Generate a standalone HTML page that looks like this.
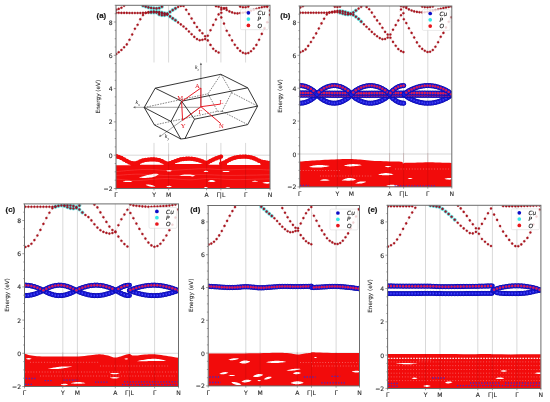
<!DOCTYPE html><html><head><meta charset="utf-8"><title>Band structures</title>
<style>html,body{margin:0;padding:0;background:#fff;width:550px;height:402px;overflow:hidden}svg{display:block}</style></head><body>
<svg width="550" height="402" viewBox="0 0 550 402">
<rect width="550" height="402" fill="#fff"/>
<defs><clipPath id="clipa"><rect x="116" y="5.3" width="154" height="183.2"/></clipPath></defs>
<g>
<path d="M116 155.2H270 M154 5.3V62.7 M154 142.7V188.5 M168.6 5.3V62.7 M168.6 142.7V188.5 M206.6 5.3V62.7 M206.6 142.7V188.5 M220.9 5.3V62.7 M220.9 142.7V188.5 M245.6 5.3V62.7 M245.6 142.7V188.5" stroke="#cfcfcf" stroke-width="0.8" fill="none"/>
<g clip-path="url(#clipa)">
<path d="M116 189.5 L116 156.2 L121 157.8 L126 160.6 L130.4 162.8 L134 163.5 L138 162.6 L142 160.8 L147 159.7 L152.7 159.4 L158 159.8 L162 161.2 L165.5 163 L168.4 163.8 L172 162.4 L179 159.9 L184 158.9 L189.3 158.6 L195 159.3 L200 160.6 L204 162.2 L206.6 163.2 L210 161.2 L214 159.2 L218 157.6 L221 156.6 L221.1 163.6 L225 162.2 L228 160.6 L232 158.6 L237 157.2 L244.7 156.6 L251 157.4 L256 159.2 L260 161.2 L265 162.4 L270 163 L270 189.5 Z" fill="#f20b0b"/>
<path d="M116 156.6 L117 156.9 L118 157.1 L119 157.4 L120 157.7 L121 158.1 L122 158.6 L123 159.2 L124 159.8 L125 160.4 L126 160.9 L126.9 161.4 L127.9 161.8 L128.8 162.2 L129.7 162.7 L130.6 163.1 L130.6 165.2 L116 165.2 Z" fill="#fff"/>
<path d="M140 161.9 L140.8 161.6 L141.6 161.2 L142.5 160.9 L143.3 160.6 L144 160.4 L144.6 160.2 L145.1 160.2 L145.7 160.1 L146.2 160.1 L147 160 L148 159.9 L149.1 159.8 L150.3 159.8 L151.5 159.7 L152.7 159.7 L153.8 159.7 L154.9 159.8 L156 159.8 L157 159.9 L158 160.1 L158.9 160.3 L159.8 160.6 L160.6 160.9 L161.3 161.2 L162 161.5 L162.5 161.7 L162.9 162 L163.3 162.2 L163.6 162.4 L164 162.6 L164 164.7 L140 164.7 Z" fill="#fff"/>
<path d="M175 161.6 L175.8 161.3 L176.6 161 L177.3 160.7 L178.1 160.5 L179 160.2 L179.9 160 L180.9 159.7 L181.9 159.5 L183 159.3 L184 159.2 L185 159.1 L186.1 159 L187.1 158.9 L188.2 158.9 L189.3 158.9 L190.4 159 L191.6 159.1 L192.8 159.2 L193.9 159.4 L195 159.6 L196.1 159.8 L197.1 160.1 L198.1 160.3 L199.1 160.6 L200 160.9 L200.8 161.2 L201.5 161.5 L202.2 161.8 L202.8 162.1 L203.5 162.4 L203.5 164 L175 164 Z" fill="#fff"/>
<path d="M207.5 162.9 L208 162.6 L208.4 162.4 L208.9 162.1 L209.4 161.8 L210 161.5 L210.7 161.1 L211.5 160.7 L212.3 160.3 L213.2 159.9 L214 159.5 L214.8 159.1 L215.7 158.8 L216.6 158.4 L217.3 158.1 L218 157.9 L218.5 157.6 L219 157.2 L219.3 156.9 L219.6 156.9 L219.8 157.3 L219.9 158.3 L219.9 159.7 L219.9 161.4 L219.8 163.2 L219.8 164.8 L207.5 164.8 Z" fill="#fff"/>
<path d="M227 161.6 L228 161 L229 160.5 L230 159.9 L231 159.4 L232 158.9 L233 158.5 L233.9 158.2 L234.8 157.9 L235.8 157.7 L237 157.5 L238.4 157.3 L240 157.1 L241.6 157 L243.2 156.9 L244.7 156.9 L246.1 157 L247.4 157.1 L248.6 157.2 L249.8 157.5 L251 157.7 L252.1 158 L253.1 158.3 L254.1 158.7 L255.1 159.1 L256 159.5 L256.9 159.9 L257.8 160.4 L258.7 160.9 L259.6 161.3 L260.5 161.8 L260.5 165 L227 165 Z" fill="#fff"/>
<path d="M116.3 156.2 L117.1 156.5 L117.9 156.7 L118.6 156.9 L119.4 157.2 L120.2 157.5 L121 157.8 L121.8 158.2 L122.7 158.7 L123.5 159.2 L124.4 159.7 L125.2 160.2 L126 160.6 L126.8 161 L127.5 161.4 L128.3 161.8 L129 162.2 L129.7 162.5 L130.4 162.8 L131 163 L131.6 163.2 L132.2 163.3 L132.8 163.4 L133.4 163.5 L134 163.5 L134.6 163.5 L135.3 163.4 L136 163.2 L136.7 163 L137.3 162.8 L138 162.6 L138.7 162.3 L139.3 162 L139.9 161.7 L140.6 161.4 L141.3 161.1 L142 160.8 L142.8 160.6 L143.6 160.4 L144.4 160.2 L145.2 160 L146.1 159.8 L147 159.7 L147.9 159.6 L148.9 159.5 L149.8 159.5 L150.8 159.4 L151.8 159.4 L152.7 159.4 L153.6 159.4 L154.5 159.4 L155.5 159.5 L156.3 159.6 L157.2 159.7 L158 159.8 L158.7 160 L159.4 160.2 L160.1 160.4 L160.8 160.7 L161.4 160.9 L162 161.2 L162.6 161.5 L163.2 161.8 L163.8 162.1 L164.4 162.5 L165 162.8 L165.5 163 L166 163.2 L166.5 163.4 L166.9 163.6 L167.4 163.7 L167.9 163.8 L168.4 163.8 L168.9 163.7 L169.4 163.5 L169.9 163.3 L170.5 163 L171.2 162.7 L172 162.4 L173 162 L174.2 161.6 L175.4 161.1 L176.7 160.7 L177.9 160.2 L179 159.9 L179.9 159.6 L180.8 159.4 L181.6 159.3 L182.4 159.1 L183.2 159 L184 158.9 L184.9 158.8 L185.7 158.7 L186.6 158.6 L187.5 158.6 L188.4 158.6 L189.3 158.6 L190.2 158.7 L191.2 158.7 L192.2 158.8 L193.1 159 L194.1 159.1 L195 159.3 L195.9 159.5 L196.8 159.7 L197.6 159.9 L198.4 160.1 L199.2 160.4 L200 160.6 L200.7 160.9 L201.5 161.1 L202.2 161.4 L202.8 161.7 L203.4 162 L204 162.2 L204.5 162.4 L205 162.6 L205.4 162.7 L205.8 162.9 L206.2 163 L206.6 163.2" fill="none" stroke="#f20b0b" stroke-width="3.6" stroke-linecap="round"/>
<g fill="#f20b0b"><circle cx="116.3" cy="156.2" r="2.2"/><circle cx="118.7" cy="156.9" r="2.2"/><circle cx="121.4" cy="158" r="2.2"/><circle cx="124.1" cy="159.5" r="2.2"/><circle cx="126.8" cy="161" r="2.2"/><circle cx="129.5" cy="162.4" r="2.2"/><circle cx="132.2" cy="163.3" r="2.2"/><circle cx="134.9" cy="163.4" r="2.2"/><circle cx="137.6" cy="162.7" r="2.2"/><circle cx="140.3" cy="161.5" r="2.2"/><circle cx="143" cy="160.5" r="2.2"/><circle cx="145.7" cy="159.9" r="2.2"/><circle cx="148.4" cy="159.6" r="2.2"/><circle cx="151.1" cy="159.4" r="2.2"/><circle cx="153.8" cy="159.4" r="2.2"/><circle cx="156.5" cy="159.6" r="2.2"/><circle cx="159.2" cy="160.1" r="2.2"/><circle cx="161.9" cy="161.2" r="2.2"/><circle cx="164.6" cy="162.6" r="2.2"/><circle cx="167.3" cy="163.7" r="2.2"/><circle cx="170" cy="163.3" r="2.2"/><circle cx="172.7" cy="162.1" r="2.2"/><circle cx="175.4" cy="161.1" r="2.2"/><circle cx="178.1" cy="160.2" r="2.2"/><circle cx="180.8" cy="159.4" r="2.2"/><circle cx="183.5" cy="159" r="2.2"/><circle cx="186.2" cy="158.7" r="2.2"/><circle cx="188.9" cy="158.6" r="2.2"/><circle cx="191.6" cy="158.8" r="2.2"/><circle cx="194.3" cy="159.2" r="2.2"/><circle cx="197" cy="159.7" r="2.2"/><circle cx="199.7" cy="160.5" r="2.2"/><circle cx="202.4" cy="161.5" r="2.2"/><circle cx="205.1" cy="162.6" r="2.2"/></g>
<path d="M206.8 163.2 L207.3 162.9 L207.8 162.5 L208.4 162.2 L208.9 161.9 L209.4 161.5 L210 161.2 L210.6 160.9 L211.3 160.5 L211.9 160.2 L212.6 159.8 L213.3 159.5 L214 159.2 L214.7 158.9 L215.4 158.6 L216.1 158.3 L216.7 158.1 L217.4 157.8 L218 157.6 L218.6 157.4 L219.1 157.2 L219.6 157.1 L220 156.9 L220.5 156.8 L221 156.6" fill="none" stroke="#f20b0b" stroke-width="3.6" stroke-linecap="round"/>
<g fill="#f20b0b"><circle cx="207.8" cy="162.6" r="2.2"/><circle cx="210.5" cy="160.9" r="2.2"/><circle cx="213.2" cy="159.6" r="2.2"/><circle cx="215.9" cy="158.4" r="2.2"/><circle cx="218.6" cy="157.4" r="2.2"/><circle cx="221" cy="156.6" r="2.2"/></g>
<path d="M221.2 163.6 L221.8 163.4 L222.5 163.1 L223.1 162.9 L223.8 162.7 L224.4 162.4 L225 162.2 L225.5 161.9 L226 161.7 L226.5 161.4 L227 161.2 L227.5 160.9 L228 160.6 L228.6 160.3 L229.2 159.9 L229.9 159.6 L230.6 159.2 L231.3 158.9 L232 158.6 L232.7 158.3 L233.5 158.1 L234.3 157.8 L235.1 157.6 L236 157.4 L237 157.2 L238.1 157 L239.4 156.9 L240.8 156.8 L242.1 156.7 L243.5 156.6 L244.7 156.6 L245.8 156.6 L247 156.7 L248 156.8 L249 157 L250 157.2 L251 157.4 L251.9 157.6 L252.8 157.9 L253.6 158.2 L254.5 158.5 L255.2 158.9 L256 159.2 L256.7 159.5 L257.4 159.9 L258 160.2 L258.6 160.6 L259.3 160.9 L260 161.2 L260.8 161.5 L261.6 161.7 L262.4 161.9 L263.3 162.1 L264.2 162.2 L265 162.4 L265.8 162.5 L266.6 162.6 L267.4 162.7 L268.2 162.8 L269 162.9 L269.8 163" fill="none" stroke="#f20b0b" stroke-width="3.6" stroke-linecap="round"/>
<g fill="#f20b0b"><circle cx="221.3" cy="163.6" r="2.2"/><circle cx="224" cy="162.6" r="2.2"/><circle cx="226.7" cy="161.3" r="2.2"/><circle cx="229.4" cy="159.8" r="2.2"/><circle cx="232.1" cy="158.6" r="2.2"/><circle cx="234.8" cy="157.7" r="2.2"/><circle cx="237.5" cy="157.1" r="2.2"/><circle cx="240.2" cy="156.8" r="2.2"/><circle cx="242.9" cy="156.6" r="2.2"/><circle cx="245.6" cy="156.6" r="2.2"/><circle cx="248.3" cy="156.9" r="2.2"/><circle cx="251" cy="157.4" r="2.2"/><circle cx="253.7" cy="158.2" r="2.2"/><circle cx="256.4" cy="159.4" r="2.2"/><circle cx="259.1" cy="160.8" r="2.2"/><circle cx="261.8" cy="161.7" r="2.2"/><circle cx="264.5" cy="162.3" r="2.2"/><circle cx="267.2" cy="162.7" r="2.2"/><circle cx="269.8" cy="163" r="2.2"/></g>
<path d="M139 177.6 L139.9 177.7 L140.8 177.8 L141.7 177.8 L142.6 177.9 L143.5 177.9 L144.4 177.9 L145.2 177.9 L146.1 177.9 L147 177.8 L147.9 177.8 L148.8 177.7 L149.7 177.6 L150.6 177.5 L151.4 177.4 L152.3 177.2 L153.2 177 L154.1 176.8 L154.9 176.5 L155.8 176.2 L156.6 175.8 L157.3 175.3 L158.1 174.8 L158.9 174.2 L158.9 174.2 L157.9 173.9 L157 173.8 L156.1 173.7 L155.2 173.7 L154.3 173.7 L153.4 173.8 L152.6 174 L151.7 174.2 L150.9 174.4 L150 174.5 L149.2 174.7 L148.3 174.9 L147.5 175.1 L146.6 175.3 L145.8 175.5 L145 175.8 L144.1 176 L143.3 176.2 L142.4 176.5 L141.5 176.7 L140.7 177 L139.8 177.3 L139 177.6Z" fill="#fff"/>
<path d="M122.7 181.3 L123.1 181.5 L123.5 181.6 L124 181.7 L124.4 181.7 L124.8 181.8 L125.2 181.9 L125.7 182 L126.1 182 L126.5 182 L126.9 182.1 L127.4 182.1 L127.8 182.1 L128.2 182.1 L128.7 182.1 L129.1 182.1 L129.5 182 L129.9 182 L130.4 181.9 L130.8 181.9 L131.2 181.8 L131.6 181.7 L132.1 181.6 L132.5 181.5 L132.5 181.5 L132.1 181.3 L131.7 181.2 L131.2 181.1 L130.8 181.1 L130.4 181 L130 180.9 L129.5 180.8 L129.1 180.8 L128.7 180.8 L128.3 180.7 L127.8 180.7 L127.4 180.7 L127 180.7 L126.5 180.7 L126.1 180.7 L125.7 180.8 L125.3 180.8 L124.8 180.9 L124.4 180.9 L124 181 L123.6 181.1 L123.1 181.2 L122.7 181.3Z" fill="#fff"/>
<path d="M145.6 184.8 L146 185.1 L146.4 185.3 L146.8 185.5 L147.2 185.6 L147.6 185.8 L148 186 L148.4 186.1 L148.9 186.2 L149.3 186.3 L149.7 186.4 L150.1 186.5 L150.6 186.6 L151 186.7 L151.4 186.7 L151.9 186.7 L152.3 186.8 L152.7 186.8 L153.2 186.8 L153.6 186.7 L154 186.7 L154.5 186.7 L154.9 186.6 L155.4 186.5 L155.4 186.5 L155 186.2 L154.6 186 L154.2 185.9 L153.8 185.7 L153.4 185.5 L153 185.4 L152.5 185.3 L152.1 185.1 L151.7 185 L151.3 184.9 L150.9 184.8 L150.4 184.8 L150 184.7 L149.6 184.7 L149.1 184.6 L148.7 184.6 L148.3 184.6 L147.8 184.6 L147.4 184.6 L147 184.6 L146.5 184.6 L146.1 184.7 L145.6 184.8Z" fill="#fff"/>
<path d="M166.3 170.8 L166.5 171 L166.8 171.1 L167 171.2 L167.3 171.3 L167.5 171.4 L167.7 171.4 L168 171.5 L168.2 171.5 L168.5 171.6 L168.7 171.6 L168.9 171.6 L169.2 171.6 L169.4 171.6 L169.6 171.6 L169.9 171.5 L170.1 171.5 L170.4 171.4 L170.6 171.4 L170.8 171.3 L171.1 171.2 L171.3 171.1 L171.6 171 L171.8 170.8 L171.8 170.8 L171.6 170.6 L171.3 170.5 L171.1 170.4 L170.8 170.3 L170.6 170.2 L170.4 170.2 L170.1 170.1 L169.9 170.1 L169.6 170 L169.4 170 L169.2 170 L168.9 170 L168.7 170 L168.5 170 L168.2 170.1 L168 170.1 L167.7 170.2 L167.5 170.2 L167.3 170.3 L167 170.4 L166.8 170.5 L166.5 170.6 L166.3 170.8Z" fill="#fff"/>
<path d="M166.3 186.6 L166.5 186.7 L166.8 186.8 L167 186.9 L167.3 187 L167.5 187 L167.8 187.1 L168 187.1 L168.2 187.2 L168.5 187.2 L168.7 187.2 L169 187.2 L169.2 187.2 L169.4 187.2 L169.7 187.1 L169.9 187.1 L170.1 187.1 L170.4 187 L170.6 186.9 L170.9 186.8 L171.1 186.8 L171.3 186.7 L171.6 186.6 L171.8 186.4 L171.8 186.4 L171.6 186.3 L171.3 186.2 L171.1 186.1 L170.8 186 L170.6 186 L170.3 185.9 L170.1 185.9 L169.9 185.8 L169.6 185.8 L169.4 185.8 L169.1 185.8 L168.9 185.8 L168.7 185.8 L168.4 185.9 L168.2 185.9 L168 185.9 L167.7 186 L167.5 186.1 L167.2 186.2 L167 186.2 L166.8 186.3 L166.5 186.4 L166.3 186.6Z" fill="#fff"/>
<path d="M179 175.6 L179.7 175.7 L180.5 175.8 L181.2 175.9 L181.9 175.9 L182.6 175.9 L183.4 175.9 L184.1 176 L184.8 176 L185.5 176 L186.2 176 L186.9 176 L187.6 176 L188.4 176 L189.1 176 L189.8 176 L190.5 176 L191.2 176 L192 175.9 L192.7 175.9 L193.4 175.9 L194.1 175.8 L194.9 175.7 L195.6 175.6 L195.6 175.6 L194.9 175.4 L194.2 175.2 L193.5 175.1 L192.7 175 L192 174.8 L191.3 174.7 L190.6 174.6 L189.9 174.5 L189.1 174.5 L188.4 174.4 L187.7 174.4 L186.9 174.4 L186.2 174.4 L185.5 174.5 L184.7 174.5 L184 174.6 L183.3 174.7 L182.6 174.8 L181.9 174.9 L181.1 175.1 L180.4 175.2 L179.7 175.4 L179 175.6Z" fill="#fff"/>
<path d="M203.5 171.4 L203.7 171.5 L203.9 171.6 L204.2 171.7 L204.4 171.8 L204.6 171.9 L204.8 171.9 L205 172 L205.2 172 L205.5 172.1 L205.7 172.1 L205.9 172.1 L206.1 172.1 L206.3 172.1 L206.5 172.1 L206.8 172 L207 172 L207.2 171.9 L207.4 171.9 L207.6 171.8 L207.8 171.7 L208.1 171.6 L208.3 171.5 L208.5 171.4 L208.5 171.4 L208.3 171.3 L208.1 171.2 L207.8 171.1 L207.6 171 L207.4 170.9 L207.2 170.9 L207 170.8 L206.8 170.8 L206.5 170.7 L206.3 170.7 L206.1 170.7 L205.9 170.7 L205.7 170.7 L205.5 170.7 L205.2 170.8 L205 170.8 L204.8 170.9 L204.6 170.9 L204.4 171 L204.2 171.1 L203.9 171.2 L203.7 171.3 L203.5 171.4Z" fill="#fff"/>
<path d="M222 171.5 L222.3 171.6 L222.7 171.7 L223 171.8 L223.4 171.9 L223.7 171.9 L224.1 172 L224.4 172 L224.8 172 L225.1 172.1 L225.5 172.1 L225.8 172.1 L226.2 172.1 L226.5 172.1 L226.9 172.1 L227.2 172 L227.6 172 L227.9 172 L228.3 171.9 L228.6 171.9 L229 171.8 L229.3 171.7 L229.7 171.6 L230 171.5 L230 171.5 L229.7 171.4 L229.3 171.3 L229 171.2 L228.6 171.1 L228.3 171.1 L227.9 171 L227.6 171 L227.2 171 L226.9 170.9 L226.5 170.9 L226.2 170.9 L225.8 170.9 L225.5 170.9 L225.1 170.9 L224.8 171 L224.4 171 L224.1 171 L223.7 171.1 L223.4 171.1 L223 171.2 L222.7 171.3 L222.3 171.4 L222 171.5Z" fill="#fff"/>
<path d="M207.8 181.3 L208.2 181.5 L208.5 181.6 L208.9 181.7 L209.2 181.7 L209.5 181.8 L209.9 181.8 L210.2 181.9 L210.5 181.9 L210.8 182 L211.1 182 L211.4 182 L211.8 182 L212.1 182 L212.4 182 L212.8 182 L213.1 182 L213.4 181.9 L213.8 181.9 L214.1 181.8 L214.5 181.7 L214.8 181.6 L215.1 181.5 L215.5 181.3 L215.5 181.3 L215.2 181.1 L214.9 180.9 L214.5 180.7 L214.2 180.6 L213.9 180.5 L213.6 180.4 L213.2 180.3 L212.9 180.2 L212.6 180.1 L212.2 180.1 L211.9 180 L211.5 180 L211.2 180 L210.8 180.1 L210.4 180.1 L210.1 180.2 L209.7 180.3 L209.4 180.4 L209.1 180.5 L208.7 180.7 L208.4 180.9 L208.1 181.1 L207.8 181.3Z" fill="#fff"/>
<path d="M204 187.5 L204.2 187.6 L204.3 187.7 L204.5 187.8 L204.7 187.8 L204.8 187.9 L205 187.9 L205.2 188 L205.3 188 L205.5 188 L205.7 188 L205.8 188.1 L206 188 L206.2 188 L206.3 188 L206.5 188 L206.7 187.9 L206.8 187.9 L207 187.8 L207.1 187.8 L207.3 187.7 L207.5 187.6 L207.6 187.5 L207.8 187.4 L207.8 187.4 L207.6 187.3 L207.5 187.2 L207.3 187.1 L207.1 187.1 L207 187 L206.8 187 L206.6 186.9 L206.5 186.9 L206.3 186.9 L206.1 186.9 L206 186.8 L205.8 186.9 L205.6 186.9 L205.5 186.9 L205.3 186.9 L205.1 187 L205 187 L204.8 187.1 L204.7 187.1 L204.5 187.2 L204.3 187.3 L204.2 187.4 L204 187.5Z" fill="#fff"/>
<path d="M225.5 187.9 L225.7 188 L225.9 188.1 L226.1 188.2 L226.3 188.3 L226.5 188.3 L226.7 188.4 L226.9 188.4 L227.1 188.4 L227.3 188.5 L227.5 188.5 L227.7 188.5 L228 188.5 L228.2 188.5 L228.4 188.5 L228.6 188.4 L228.8 188.4 L229 188.4 L229.2 188.3 L229.4 188.3 L229.6 188.2 L229.8 188.1 L230 188 L230.2 187.9 L230.2 187.9 L230 187.8 L229.8 187.7 L229.6 187.6 L229.4 187.5 L229.2 187.5 L229 187.4 L228.8 187.4 L228.6 187.4 L228.4 187.3 L228.2 187.3 L228 187.3 L227.7 187.3 L227.5 187.3 L227.3 187.3 L227.1 187.4 L226.9 187.4 L226.7 187.4 L226.5 187.5 L226.3 187.5 L226.1 187.6 L225.9 187.7 L225.7 187.8 L225.5 187.9Z" fill="#fff"/>
<path d="M262.6 182.8 L262.9 183 L263.3 183.1 L263.6 183.2 L264 183.3 L264.3 183.3 L264.7 183.4 L265 183.5 L265.3 183.5 L265.7 183.6 L266 183.6 L266.4 183.7 L266.7 183.7 L267.1 183.7 L267.4 183.7 L267.8 183.7 L268.1 183.7 L268.4 183.6 L268.8 183.5 L269.1 183.4 L269.5 183.3 L269.8 183.2 L270.2 183 L270.5 182.8 L270.5 182.8 L270.2 182.6 L269.8 182.4 L269.5 182.3 L269.1 182.2 L268.8 182.1 L268.4 182 L268.1 181.9 L267.8 181.9 L267.4 181.9 L267.1 181.9 L266.7 181.9 L266.4 181.9 L266 182 L265.7 182 L265.3 182.1 L265 182.1 L264.7 182.2 L264.3 182.3 L264 182.3 L263.6 182.4 L263.3 182.5 L262.9 182.6 L262.6 182.8Z" fill="#fff"/>
<path d="M251.8 181.3 L252.1 181.4 L252.3 181.5 L252.6 181.5 L252.9 181.6 L253.1 181.6 L253.4 181.7 L253.7 181.7 L254 181.8 L254.2 181.8 L254.5 181.8 L254.8 181.8 L255 181.8 L255.3 181.8 L255.6 181.8 L255.8 181.8 L256.1 181.7 L256.4 181.7 L256.7 181.6 L256.9 181.6 L257.2 181.5 L257.5 181.5 L257.7 181.4 L258 181.3 L258 181.3 L257.7 181.2 L257.5 181.1 L257.2 181.1 L256.9 181 L256.7 181 L256.4 180.9 L256.1 180.9 L255.8 180.8 L255.6 180.8 L255.3 180.8 L255 180.8 L254.8 180.8 L254.5 180.8 L254.2 180.8 L254 180.8 L253.7 180.9 L253.4 180.9 L253.1 181 L252.9 181 L252.6 181.1 L252.3 181.1 L252.1 181.2 L251.8 181.3Z" fill="#fff"/>
<path d="M190 175.8 L190.2 175.9 L190.4 176 L190.6 176.1 L190.8 176.2 L191 176.2 L191.2 176.3 L191.4 176.3 L191.6 176.3 L191.8 176.4 L192 176.4 L192.2 176.4 L192.4 176.4 L192.6 176.4 L192.8 176.4 L193 176.3 L193.2 176.3 L193.4 176.3 L193.6 176.2 L193.8 176.2 L194 176.1 L194.2 176 L194.4 175.9 L194.6 175.8 L194.6 175.8 L194.4 175.7 L194.2 175.6 L194 175.5 L193.8 175.4 L193.6 175.4 L193.4 175.3 L193.2 175.3 L193 175.3 L192.8 175.2 L192.6 175.2 L192.4 175.2 L192.2 175.2 L192 175.2 L191.8 175.2 L191.6 175.3 L191.4 175.3 L191.2 175.3 L191 175.4 L190.8 175.4 L190.6 175.5 L190.4 175.6 L190.2 175.7 L190 175.8Z" fill="#fff"/>
<path d="M116 171.6 L118.6 171.4 L121.3 171.1 L123.9 170.9 L126.5 170.6 L129.2 170.4 L132 170.2 L134.9 170 L137.9 169.8 L140.9 169.6 L143.9 169.5 L147 169.4 L150 169.4 L153 169.5 L156 169.7 L159.1 170 L162.1 170.3 L165.1 170.5 L168 170.6 L170.9 170.6 L173.6 170.4 L176.4 170.2 L179.1 170 L182 169.8 L185 169.6 L188.2 169.4 L191.4 169.3 L194.8 169.1 L198.2 168.9 L201.6 168.8 L205 168.8 L208.3 168.9 L211.5 169.1 L214.7 169.3 L218 169.5 L221.4 169.7 L225 169.8 L228.9 169.8 L233.1 169.7 L237.5 169.5 L241.9 169.4 L246.1 169.2 L250 169.2 L253.6 169.3 L257 169.4 L260.3 169.5 L263.5 169.7 L266.7 169.9 L270 170" stroke="#ff8080" stroke-opacity="0.45" stroke-width="0.6" fill="none"/>
<path d="M116 179 L119.2 179.3 L122.4 179.6 L125.6 180 L128.8 180.3 L131.9 180.5 L135 180.6 L138 180.6 L140.9 180.4 L143.7 180.1 L146.5 179.9 L149.2 179.6 L152 179.4 L154.7 179.2 L157.2 179 L159.7 178.8 L162.3 178.7 L165 178.6 L168 178.6 L171.3 178.7 L175 178.9 L178.8 179.2 L182.6 179.5 L186.4 179.7 L190 179.8 L193.4 179.7 L196.6 179.4 L199.8 179.1 L203 178.8 L206.4 178.5 L210 178.4 L213.8 178.5 L217.6 178.7 L221.6 179 L225.7 179.3 L230.2 179.5 L235 179.6 L240.3 179.6 L245.9 179.5 L251.9 179.3 L258 179.1 L264.1 179 L270 178.8" stroke="#ff8080" stroke-opacity="0.45" stroke-width="0.6" fill="none"/>
<path d="M116 175.4 L119.9 175.2 L123.8 174.9 L127.6 174.6 L131.6 174.4 L135.7 174.2 L140 174.2 L144.7 174.3 L149.6 174.6 L154.6 174.9 L159.8 175.2 L164.9 175.5 L170 175.6 L175 175.6 L180 175.4 L185 175.1 L190 174.9 L195 174.7 L200 174.6 L204.9 174.6 L209.6 174.8 L214.4 175 L219.3 175.2 L224.4 175.3 L230 175.4 L236.1 175.4 L242.6 175.3 L249.4 175.2 L256.3 175.1 L263.2 174.9 L270 174.8" stroke="#ff8080" stroke-opacity="0.45" stroke-width="0.6" fill="none"/>
<path d="M154 154.2V188.5 M168.6 154.2V188.5 M206.6 154.2V188.5 M220.9 154.2V188.5 M245.6 154.2V188.5" stroke="#700000" stroke-opacity="0.22" stroke-width="0.7" fill="none"/>
<g fill="none" stroke="#ecc4c4" stroke-width="0.45">
<path d="M116.3 54 L116.5 53.9 L116.6 53.8 L116.7 53.7 L116.9 53.6 L117.1 53.4 L117.4 53.2 L117.8 52.9 L118.3 52.5 L118.9 52.1 L119.4 51.6 L120 51.2 L120.6 50.7 L121.1 50.2 L121.7 49.7 L122.2 49.2 L122.8 48.6 L123.3 48.1 L123.9 47.5 L124.5 46.9 L125 46.4 L125.6 45.8 L126.2 45.2 L126.7 44.5 L127.2 43.9 L127.7 43.2 L128.1 42.5 L128.4 41.8 L128.8 41.1 L129.2 40.4 L129.6 39.6 L130 38.8 L130.4 38 L130.8 37.2 L131.3 36.4 L131.7 35.5 L132.1 34.7 L132.5 33.8 L132.9 33 L133.2 32.1 L133.6 31.2 L134 30.4 L134.5 29.5 L135 28.7 L135.6 27.8 L136.1 27 L136.7 26.2 L137.3 25.3 L137.8 24.5 L138.3 23.6 L138.7 22.7 L139.1 21.8 L139.5 20.9 L139.9 20.1 L140.3 19.3 L140.7 18.6 L141.1 17.9 L141.5 17.2 L141.9 16.6 L142.3 16 L142.7 15.5 L143.1 15 L143.5 14.5 L143.9 14.1 L144.3 13.7 L144.8 13.4 L145.2 13.1 L145.6 12.9 L146.1 12.7 L146.6 12.5 L147 12.4 L147.5 12.3 L148 12.2 L148.5 12.1 L149 12 L149.5 12 L150 11.9 L150.5 11.8 L151 11.8 L151.4 11.7 L151.8 11.7 L152.2 11.6 L152.6 11.6 L153.1 11.6 L153.8 11.6 L154.6 11.6 L155.6 11.7 L156.7 11.8 L157.8 11.9 L158.9 12 L160 12.2 L161.1 12.4 L162.3 12.7 L163.4 13 L164.5 13.3 L165.6 13.6 L166.4 13.9 L167 14.2 L167.5 14.5 L167.9 14.8 L168.2 15.1 L168.6 15.4 L169 15.7 L169.5 16.1 L170 16.4 L170.6 16.8 L171.1 17.2 L171.7 17.6 L172.2 18 L172.7 18.4 L173.3 18.8 L173.8 19.2 L174.4 19.6 L175 20 L175.5 20.4 L176 20.8 L176.6 21.2 L177.1 21.6 L177.6 22.1 L178.2 22.5 L178.7 22.9 L179.2 23.3 L179.8 23.7 L180.3 24.1 L180.9 24.5 L181.4 24.9 L182 25.3 L182.5 25.7 L183 26.1 L183.6 26.5 L184.1 26.9 L184.7 27.4 L185.3 28 L186 28.7 L186.8 29.4 L187.7 30.3 L188.5 31.1 L189.4 32 L190.2 32.8 L191 33.6 L191.9 34.5 L192.7 35.3 L193.5 36.2 L194.3 36.9 L195.1 37.6 L195.8 38.2 L196.5 38.7 L197.2 39.2 L197.8 39.6 L198.5 39.9 L199.2 40.1 L200 40.2 L200.8 40.1 L201.7 40 L202.5 39.8 L203.3 39.5 L204 39.3 L204.5 39.2 L205 39.1 L205.3 39.1 L205.7 38.9 L206.1 38.4 L206.7 37.6 L207.5 36.3 L208.3 34.7 L209.3 32.8 L210.3 30.8 L211.3 28.8 L212.2 26.9 L213.1 25 L214.1 23.1 L215.1 21.1 L216.1 19.2 L216.9 17.5 L217.7 16 L218.3 14.8 L218.9 13.9 L219.3 13.2 L219.7 12.6 L220.1 11.9 L220.6 11.2"/>
<path d="M116.3 12.8 L117.7 12.8 L119.2 12.8 L120.6 12.9 L122 12.9 L123.5 12.9 L125 12.9 L126.6 12.9 L128.2 12.9 L129.9 13 L131.6 13 L133.3 13 L135 13 L136.7 13 L138.4 13 L140.1 13 L141.8 13 L143.4 12.9 L145 12.9 L146.6 12.8 L148.1 12.7 L149.6 12.6 L151.1 12.5 L152.5 12.4 L153.8 12.4 L155 12.4 L156.1 12.5 L157.1 12.6 L158 12.7 L159 12.9 L160 13 L161.1 13.2 L162.1 13.4 L163.2 13.7 L164.3 13.9 L165.4 14 L166.4 13.9 L167.4 13.6 L168.3 13.1 L169.3 12.4 L170.2 11.8 L171.1 11.1 L172 10.5 L172.9 10 L173.7 9.4 L174.6 8.9 L175.4 8.4 L176.2 7.9 L177 7.5 L177.8 7.1 L178.5 6.8 L179.2 6.5 L180 6.3 L180.7 6 L181.4 5.7"/>
<path d="M183.5 5.9 L184.2 6.9 L184.8 7.8 L185.5 8.7 L186.1 9.7 L186.8 10.7 L187.6 11.9 L188.4 13.2 L189.3 14.7 L190.2 16.2 L191.1 17.8 L192.1 19.3 L193 20.8 L193.9 22.2 L194.8 23.6 L195.7 25 L196.6 26.4 L197.5 27.7 L198.5 29 L199.5 30.3 L200.7 31.5 L201.8 32.7 L202.9 33.9 L203.9 34.9 L204.7 35.8 L205.2 36.4 L205.5 36.8 L205.7 37.1 L205.9 37.4 L206.2 37.8 L206.7 38.6 L207.4 39.8 L208.4 41.3 L209.4 43 L210.4 44.7 L211.4 46.3 L212.2 47.5 L212.9 48.4 L213.4 49.1 L213.9 49.6 L214.4 50 L215 50.4 L215.6 50.9 L216.3 51.4 L217.1 51.8 L218 52.2 L218.9 52.6 L219.7 53 L220.6 53.4"/>
<path d="M116.3 9.8 L116.8 9.6 L117.2 9.5 L117.7 9.3 L118.1 9.1 L118.6 9 L119 8.8 L119.4 8.6 L119.8 8.5 L120.2 8.3 L120.6 8.1 L121 7.9 L121.4 7.7 L121.8 7.4 L122.3 7.1 L122.7 6.8 L123.2 6.5 L123.6 6.1 L124.1 5.8"/>
<path d="M157.5 13.6 L157.9 13.8 L158.3 14 L158.7 14.2 L159.1 14.5 L159.6 14.6 L160 14.8 L160.5 14.9 L161 15 L161.5 15.1 L162 15.2 L162.5 15.3 L163 15.3 L163.5 15.3 L164 15.3 L164.5 15.2 L165.1 15.2 L165.5 15.1 L166 15 L166.4 14.9 L166.8 14.8 L167.2 14.7 L167.6 14.5 L167.9 14.4 L168.3 14.3"/>
<path d="M142.7 5.6 L143.6 5.9 L144.4 6.2 L145.3 6.5 L146.2 6.8 L147.1 7.1 L148 7.3 L149 7.5 L150.1 7.7 L151.1 7.9 L152.2 8 L153.2 8.1 L154.2 8.2 L155.1 8.3 L155.9 8.4 L156.7 8.4 L157.4 8.4 L158.2 8.4 L159 8.2 L159.8 7.9 L160.7 7.5 L161.5 7.1 L162.3 6.6 L163.2 6.1 L164 5.6"/>
<path d="M220.9 7.6 L221.3 7.7 L221.8 7.8 L222.2 8 L222.7 8.1 L223.2 8.2 L223.6 8.4 L224 8.6 L224.5 8.8 L224.9 9.1 L225.4 9.3 L225.8 9.6 L226.3 9.8 L226.7 10 L227.2 10.3 L227.6 10.5 L228.1 10.8 L228.5 11 L229 11.2 L229.5 11.4 L229.9 11.6 L230.4 11.8 L230.9 12 L231.3 12.1 L231.8 12.3 L232.3 12.5 L232.7 12.6 L233.2 12.8 L233.6 12.9 L234.1 13 L234.5 13.1 L234.9 13.2 L235.4 13.3 L235.8 13.3 L236.3 13.4 L236.7 13.4 L237.2 13.4 L237.6 13.4 L238.1 13.4 L238.5 13.3 L239 13.2 L239.5 13.2 L240 13.1 L240.6 13 L241.2 12.9 L241.9 12.9 L242.5 12.8 L243.3 12.6 L244 12.5 L244.8 12.3 L245.5 12.2 L246.3 12 L247.2 11.8 L248.1 11.6 L249 11.3 L250 11 L251.1 10.7 L252.2 10.3 L253.3 9.9 L254.4 9.6 L255.5 9.2 L256.6 8.9 L257.7 8.5 L258.8 8.1 L259.9 7.8 L260.9 7.5 L262 7.2 L263 7 L264 6.7 L265 6.6 L266 6.4 L267 6.2 L268 6"/>
<path d="M220.9 9.8 L221.3 9.5 L221.8 9.3 L222.2 9 L222.7 8.7 L223.2 8.5 L223.6 8.3 L224 8.2 L224.5 8.1 L224.9 8.1 L225.4 8.1 L225.8 8 L226.3 8"/>
<path d="M220.9 12.8 L223.6 13.1"/>
<path d="M238.5 5.9 L238.9 6.1 L239.3 6.3 L239.7 6.4 L240.1 6.6 L240.6 6.8 L241 6.9 L241.5 7 L242 7.1 L242.5 7.2 L243 7.2 L243.5 7.3 L244 7.3 L244.5 7.3 L245 7.3 L245.5 7.2 L246 7.2 L246.5 7.1 L247 7 L247.5 6.9 L248 6.7 L248.5 6.5 L249 6.4 L249.5 6.2 L250 6"/>
<path d="M220.9 16.7 L221.3 17.4 L221.6 18 L222 18.6 L222.3 19.3 L222.7 20.1 L223.1 21 L223.5 22.2 L224 23.5 L224.4 25 L224.9 26.5 L225.4 27.9 L225.9 29.2 L226.4 30.3 L227 31.3 L227.5 32.2 L228.1 33.1 L228.7 34.1 L229.3 35.1 L229.9 36.2 L230.5 37.4 L231.1 38.6 L231.7 39.8 L232.4 40.9 L233 42 L233.6 43 L234.3 44 L235 44.9 L235.7 45.8 L236.3 46.7 L237 47.5 L237.7 48.3 L238.3 49 L239 49.7 L239.6 50.4 L240.3 51 L241 51.5 L241.7 52 L242.5 52.4 L243.2 52.8 L244 53.2 L244.7 53.4 L245.5 53.5 L246.2 53.5 L247 53.4 L247.7 53.2 L248.5 52.9 L249.2 52.5 L250 52 L250.8 51.4 L251.7 50.6 L252.6 49.8 L253.4 48.9 L254.2 47.9 L255 47 L255.7 46.1 L256.3 45.1 L256.8 44.2 L257.4 43.1 L257.9 42.1 L258.5 41 L259.1 39.9 L259.6 38.7 L260.2 37.5 L260.7 36.3 L261.3 34.9 L262 33.5 L262.8 31.9 L263.6 30.1 L264.5 28.2 L265.4 26.4 L266.2 24.6 L266.9 22.9 L267.5 21.4 L268 20 L268.5 18.7 L268.9 17.4 L269.3 16.1 L269.8 14.8"/>
<path d="M266.5 5.8 L269.8 10.5"/>
<path d="M216 6.2 L216.4 6.3 L216.8 6.5 L217.3 6.6 L217.7 6.7 L218.1 6.8 L218.5 6.8 L218.9 6.7 L219.2 6.6 L219.6 6.4 L219.9 6.2 L220.3 6 L220.6 5.8"/>
</g>
<g fill="#74ecea">
<circle cx="151.1" cy="11.8" r="2.0"/>
<circle cx="153.8" cy="11.6" r="2.0"/>
<circle cx="156.5" cy="11.8" r="2.0"/>
<circle cx="159.2" cy="12.1" r="2.0"/>
<circle cx="161.9" cy="12.6" r="2.0"/>
<circle cx="164.6" cy="13.3" r="2.0"/>
<circle cx="167.3" cy="14.3" r="2.0"/>
<circle cx="170" cy="16.4" r="2.0"/>
<circle cx="172.7" cy="18.4" r="2.0"/>
<circle cx="175.4" cy="20.3" r="2.0"/>
<circle cx="151.1" cy="12.5" r="2.0"/>
<circle cx="153.8" cy="12.4" r="2.0"/>
<circle cx="156.5" cy="12.6" r="2.0"/>
<circle cx="159.2" cy="12.9" r="2.0"/>
<circle cx="161.9" cy="13.4" r="2.0"/>
<circle cx="164.6" cy="13.9" r="2.0"/>
<circle cx="167.3" cy="13.6" r="2.0"/>
<circle cx="170" cy="11.9" r="2.0"/>
<circle cx="172.7" cy="10.1" r="2.0"/>
<circle cx="175.4" cy="8.4" r="2.0"/>
<circle cx="159.2" cy="14.5" r="2.0"/>
<circle cx="161.9" cy="15.2" r="2.0"/>
<circle cx="164.6" cy="15.2" r="2.0"/>
<circle cx="167.3" cy="14.6" r="2.0"/>
<circle cx="143" cy="5.7" r="2.0"/>
<circle cx="145.7" cy="6.6" r="2.0"/>
<circle cx="148.4" cy="7.4" r="2.0"/>
<circle cx="151.1" cy="7.9" r="2.0"/>
<circle cx="153.8" cy="8.2" r="2.0"/>
<circle cx="156.5" cy="8.4" r="2.0"/>
<circle cx="159.2" cy="8.1" r="2.0"/>
<circle cx="161.9" cy="6.8" r="2.0"/>
</g>
<g fill="#b3121d" stroke="#8c0c14" stroke-width="0.35">
<circle cx="116.3" cy="54" r="1.05"/>
<circle cx="118.7" cy="52.2" r="1.05"/>
<circle cx="121.4" cy="50" r="1.05"/>
<circle cx="124.1" cy="47.3" r="1.05"/>
<circle cx="126.8" cy="44.4" r="1.05"/>
<circle cx="129.5" cy="39.8" r="1.05"/>
<circle cx="132.2" cy="34.5" r="1.05"/>
<circle cx="134.9" cy="28.8" r="1.05"/>
<circle cx="137.6" cy="24.8" r="1.05"/>
<circle cx="140.3" cy="19.3" r="1.05"/>
<circle cx="143" cy="15.1" r="1.05"/>
<circle cx="145.7" cy="12.8" r="1.05"/>
<circle cx="148.4" cy="12.1" r="1.05"/>
<circle cx="178.1" cy="22.4" r="1.05"/>
<circle cx="180.8" cy="24.4" r="1.05"/>
<circle cx="183.5" cy="26.5" r="1.05"/>
<circle cx="186.2" cy="28.8" r="1.05"/>
<circle cx="188.9" cy="31.5" r="1.05"/>
<circle cx="191.6" cy="34.2" r="1.05"/>
<circle cx="194.3" cy="36.9" r="1.05"/>
<circle cx="197" cy="39.1" r="1.05"/>
<circle cx="199.7" cy="40.2" r="1.05"/>
<circle cx="202.4" cy="39.8" r="1.05"/>
<circle cx="205.1" cy="39.1" r="1.05"/>
<circle cx="207.8" cy="35.7" r="1.05"/>
<circle cx="210.5" cy="30.3" r="1.05"/>
<circle cx="213.2" cy="24.9" r="1.05"/>
<circle cx="215.9" cy="19.5" r="1.05"/>
<circle cx="218.6" cy="14.4" r="1.05"/>
<circle cx="116.3" cy="12.8" r="1.05"/>
<circle cx="118.7" cy="12.8" r="1.05"/>
<circle cx="121.4" cy="12.9" r="1.05"/>
<circle cx="124.1" cy="12.9" r="1.05"/>
<circle cx="126.8" cy="12.9" r="1.05"/>
<circle cx="129.5" cy="13" r="1.05"/>
<circle cx="132.2" cy="13" r="1.05"/>
<circle cx="134.9" cy="13" r="1.05"/>
<circle cx="137.6" cy="13" r="1.05"/>
<circle cx="140.3" cy="13" r="1.05"/>
<circle cx="143" cy="12.9" r="1.05"/>
<circle cx="145.7" cy="12.9" r="1.05"/>
<circle cx="148.4" cy="12.7" r="1.05"/>
<circle cx="178.1" cy="7" r="1.05"/>
<circle cx="180.8" cy="5.9" r="1.05"/>
<circle cx="183.5" cy="5.9" r="1.05"/>
<circle cx="186.2" cy="9.8" r="1.05"/>
<circle cx="188.9" cy="14" r="1.05"/>
<circle cx="191.6" cy="18.5" r="1.05"/>
<circle cx="194.3" cy="22.9" r="1.05"/>
<circle cx="197" cy="27" r="1.05"/>
<circle cx="199.7" cy="30.4" r="1.05"/>
<circle cx="202.4" cy="33.3" r="1.05"/>
<circle cx="205.1" cy="36.3" r="1.05"/>
<circle cx="207.8" cy="40.4" r="1.05"/>
<circle cx="210.5" cy="44.9" r="1.05"/>
<circle cx="213.2" cy="48.8" r="1.05"/>
<circle cx="215.9" cy="51.1" r="1.05"/>
<circle cx="218.6" cy="52.5" r="1.05"/>
<circle cx="116.3" cy="9.8" r="1.05"/>
<circle cx="118.7" cy="8.9" r="1.05"/>
<circle cx="121.4" cy="7.7" r="1.05"/>
<circle cx="124.1" cy="5.8" r="1.05"/>
<circle cx="221.3" cy="7.7" r="1.05"/>
<circle cx="224" cy="8.6" r="1.05"/>
<circle cx="226.7" cy="10" r="1.05"/>
<circle cx="229.4" cy="11.4" r="1.05"/>
<circle cx="232.1" cy="12.4" r="1.05"/>
<circle cx="234.8" cy="13.2" r="1.05"/>
<circle cx="237.5" cy="13.4" r="1.05"/>
<circle cx="240.2" cy="13.1" r="1.05"/>
<circle cx="242.9" cy="12.7" r="1.05"/>
<circle cx="245.6" cy="12.2" r="1.05"/>
<circle cx="248.3" cy="11.5" r="1.05"/>
<circle cx="251" cy="10.7" r="1.05"/>
<circle cx="253.7" cy="9.8" r="1.05"/>
<circle cx="256.4" cy="8.9" r="1.05"/>
<circle cx="259.1" cy="8" r="1.05"/>
<circle cx="261.8" cy="7.3" r="1.05"/>
<circle cx="264.5" cy="6.7" r="1.05"/>
<circle cx="267.2" cy="6.2" r="1.05"/>
<circle cx="221.3" cy="9.6" r="1.05"/>
<circle cx="224" cy="8.2" r="1.05"/>
<circle cx="226.3" cy="8" r="1.05"/>
<circle cx="221.3" cy="12.8" r="1.05"/>
<circle cx="240.2" cy="6.6" r="1.05"/>
<circle cx="242.9" cy="7.2" r="1.05"/>
<circle cx="245.6" cy="7.2" r="1.05"/>
<circle cx="248.3" cy="6.6" r="1.05"/>
<circle cx="221.3" cy="17.4" r="1.05"/>
<circle cx="224" cy="23.6" r="1.05"/>
<circle cx="226.7" cy="30.8" r="1.05"/>
<circle cx="229.4" cy="35.3" r="1.05"/>
<circle cx="232.1" cy="40.4" r="1.05"/>
<circle cx="234.8" cy="44.7" r="1.05"/>
<circle cx="237.5" cy="48.1" r="1.05"/>
<circle cx="240.2" cy="50.9" r="1.05"/>
<circle cx="242.9" cy="52.7" r="1.05"/>
<circle cx="245.6" cy="53.5" r="1.05"/>
<circle cx="248.3" cy="53" r="1.05"/>
<circle cx="251" cy="51.2" r="1.05"/>
<circle cx="253.7" cy="48.6" r="1.05"/>
<circle cx="256.4" cy="44.9" r="1.05"/>
<circle cx="259.1" cy="39.8" r="1.05"/>
<circle cx="261.8" cy="33.9" r="1.05"/>
<circle cx="264.5" cy="28.2" r="1.05"/>
<circle cx="267.2" cy="22.2" r="1.05"/>
<circle cx="269.8" cy="14.8" r="1.05"/>
<circle cx="267.2" cy="6.8" r="1.05"/>
<circle cx="269.8" cy="10.5" r="1.05"/>
<circle cx="216" cy="6.2" r="1.05"/>
<circle cx="218.6" cy="6.8" r="1.05"/>
</g>
<g fill="#a3142a" stroke="#6a0c1a" stroke-width="0.35">
<circle cx="151.1" cy="11.8" r="1.05"/>
<circle cx="153.8" cy="11.6" r="1.05"/>
<circle cx="156.5" cy="11.8" r="1.05"/>
<circle cx="159.2" cy="12.1" r="1.05"/>
<circle cx="161.9" cy="12.6" r="1.05"/>
<circle cx="164.6" cy="13.3" r="1.05"/>
<circle cx="167.3" cy="14.3" r="1.05"/>
<circle cx="170" cy="16.4" r="1.05"/>
<circle cx="172.7" cy="18.4" r="1.05"/>
<circle cx="175.4" cy="20.3" r="1.05"/>
<circle cx="151.1" cy="12.5" r="1.05"/>
<circle cx="153.8" cy="12.4" r="1.05"/>
<circle cx="156.5" cy="12.6" r="1.05"/>
<circle cx="159.2" cy="12.9" r="1.05"/>
<circle cx="161.9" cy="13.4" r="1.05"/>
<circle cx="164.6" cy="13.9" r="1.05"/>
<circle cx="167.3" cy="13.6" r="1.05"/>
<circle cx="170" cy="11.9" r="1.05"/>
<circle cx="172.7" cy="10.1" r="1.05"/>
<circle cx="175.4" cy="8.4" r="1.05"/>
<circle cx="159.2" cy="14.5" r="1.05"/>
<circle cx="161.9" cy="15.2" r="1.05"/>
<circle cx="164.6" cy="15.2" r="1.05"/>
<circle cx="167.3" cy="14.6" r="1.05"/>
<circle cx="143" cy="5.7" r="1.05"/>
<circle cx="145.7" cy="6.6" r="1.05"/>
<circle cx="148.4" cy="7.4" r="1.05"/>
<circle cx="151.1" cy="7.9" r="1.05"/>
<circle cx="153.8" cy="8.2" r="1.05"/>
<circle cx="156.5" cy="8.4" r="1.05"/>
<circle cx="159.2" cy="8.1" r="1.05"/>
<circle cx="161.9" cy="6.8" r="1.05"/>
</g>
</g>
<rect x="128" y="62.7" width="134" height="80" fill="#ffffff"/>
<g stroke="#7a7a7a" stroke-width="0.7" fill="none">
<path d="M134 107.3H201 M200.9 63.5V106.7 M200.9 106.7L160.2 136.4"/>
</g>
<path d="M133 107.3l2.4 -1.1v2.2z M200.9 62.6l-1.1 2.4h2.2z M159.0 137.0l1.0 -2.4l1.4 1.7z" fill="#666"/>
<path d="M144.2 107.5L155.2 88.2 M155.2 88.2L220.8 74.3 M220.8 74.3L247.7 87.8 M247.7 87.8L257.6 106.1 M257.6 106.1L247.7 124.6 M155.2 88.2L181.6 101.2 M181.6 101.2L247.7 87.8 M144.2 107.5L171 121.5 M171 121.5L181.6 101.2 M181.6 101.2L194.5 119.2 M194.5 119.2L257.6 106.1 M144.2 107.5L154.5 125 M154.5 125L180.8 139 M171 121.5L180.8 139 M180.8 139L185 138.5 M185 138.5L194.5 119.2 M185 138.5L247.7 124.6" stroke="#111" stroke-width="0.85" fill="none" stroke-linejoin="round"/>
<path d="M144.2 107.5L208 93.8 M154.5 125L217.6 111.3 M221 74.2L208 93.8 M208 93.8L217.6 111.3 M217.6 111.3L222 111.3 M222 111.3L231.6 92.6 M231.6 92.6L221 74.2 M231.6 92.6L257.6 106.1 M222 111.3L247.7 124.6" stroke="#333" stroke-width="0.6" stroke-dasharray="1.6 1.1" fill="none"/>
<path d="M181.6 101.6L182.6 120.4 M182.6 120.4L200.9 106.7 M181.6 101.6L200.9 88 M200.9 88L200.9 106.7 M200.9 106.7L220.6 104.1 M200.9 106.7L220.8 123.6" stroke="#e8101a" stroke-width="0.95" fill="none"/>
<text font-family="'Liberation Serif', 'Times New Roman', serif" font-size="6.6" fill="#e0101a" x="177.2" y="100.3">M</text>
<text font-family="'Liberation Serif', 'Times New Roman', serif" font-size="6.6" fill="#e0101a" x="195" y="88.2">A</text>
<text font-family="'Liberation Serif', 'Times New Roman', serif" font-size="6.6" fill="#e0101a" x="198.4" y="114.2">Γ</text>
<text font-family="'Liberation Serif', 'Times New Roman', serif" font-size="6.6" fill="#e0101a" x="180.8" y="127.8">Y</text>
<text font-family="'Liberation Serif', 'Times New Roman', serif" font-size="6.6" fill="#e0101a" x="219.6" y="104">L</text>
<text font-family="'Liberation Serif', 'Times New Roman', serif" font-size="6.6" fill="#e0101a" x="219" y="128">N</text>
<text font-family="'Liberation Serif', 'Times New Roman', serif" font-size="5.6" font-style="italic" fill="#222" x="135.6" y="104.2">k</text>
<text font-family="'Liberation Serif', 'Times New Roman', serif" font-size="3.4" font-style="italic" fill="#222" x="138.2" y="105.6">x</text>
<text font-family="'Liberation Serif', 'Times New Roman', serif" font-size="5.6" font-style="italic" fill="#222" x="195.0" y="69.4">k</text>
<text font-family="'Liberation Serif', 'Times New Roman', serif" font-size="3.4" font-style="italic" fill="#222" x="197.6" y="70.8">z</text>
<text font-family="'Liberation Serif', 'Times New Roman', serif" font-size="5.6" font-style="italic" fill="#222" x="164.8" y="138.2">k</text>
<text font-family="'Liberation Serif', 'Times New Roman', serif" font-size="3.4" font-style="italic" fill="#222" x="167.4" y="139.6">y</text>
<rect x="116" y="5.3" width="154" height="183.2" fill="none" stroke="#6c6c6c" stroke-width="1.0"/>
<path d="M113.8 188.5H116 M114.7 180.2H116 M114.7 171.8H116 M114.7 163.5H116 M113.8 155.2H116 M114.7 146.9H116 M114.7 138.5H116 M114.7 130.2H116 M113.8 121.9H116 M114.7 113.6H116 M114.7 105.2H116 M114.7 96.9H116 M113.8 88.6H116 M114.7 80.3H116 M114.7 71.9H116 M114.7 63.6H116 M113.8 55.3H116 M114.7 47H116 M114.7 38.7H116 M114.7 30.3H116 M113.8 22H116 M114.7 13.7H116 M114.7 5.3H116 M116 188.5V190.3 M154 188.5V190.3 M168.6 188.5V190.3 M206.6 188.5V190.3 M220.9 188.5V190.3 M245.6 188.5V190.3 M270 188.5V190.3" stroke="#666" stroke-width="0.6" fill="none"/>
<g font-family="'DejaVu Sans', 'Liberation Sans', sans-serif" font-size="6.1" fill="#262626" stroke="#262626" stroke-width="0.1"><text x="112.6" y="24.5" text-anchor="end">8</text><text x="112.6" y="57.8" text-anchor="end">6</text><text x="112.6" y="91.1" text-anchor="end">4</text><text x="112.6" y="124.4" text-anchor="end">2</text><text x="112.6" y="157.7" text-anchor="end">0</text><text x="112.6" y="191" text-anchor="end">−2</text><text x="116" y="197.1" text-anchor="middle">Γ</text><text x="154" y="197.1" text-anchor="middle">Y</text><text x="168.6" y="197.1" text-anchor="middle">M</text><text x="206.6" y="197.1" text-anchor="middle">A</text><text x="220.9" y="197.1" text-anchor="middle">Γ|L</text><text x="245.6" y="197.1" text-anchor="middle">Γ</text><text x="270" y="197.1" text-anchor="middle">N</text></g>
<text font-family="'DejaVu Sans', 'Liberation Sans', sans-serif" font-size="5.7" fill="#262626" stroke="#262626" stroke-width="0.08" text-anchor="middle" transform="translate(99.5 96.6) rotate(-90)">Energy (eV)</text>
<text font-family="'Liberation Sans', Arial, sans-serif" font-size="7.9" font-weight="bold" fill="#1a1a1a" stroke="#1a1a1a" stroke-width="0.2" x="96.5" y="17.8">(a)</text>
<g>
<rect x="240.5" y="8.9" width="27.9" height="20.8" rx="1.3" fill="#ffffff" fill-opacity="0.8" stroke="#d6d6d6" stroke-width="0.5"/>
<circle cx="248.4" cy="12.8" r="1.85" fill="#0c0cc8"/>
<text font-family="'DejaVu Sans', 'Liberation Sans', sans-serif" font-size="5.8" font-style="italic" fill="#151515" stroke="#151515" stroke-width="0.13" x="257.6" y="14.9">Cu</text>
<circle cx="248.4" cy="19.1" r="1.85" fill="#38e8e8"/>
<text font-family="'DejaVu Sans', 'Liberation Sans', sans-serif" font-size="5.8" font-style="italic" fill="#151515" stroke="#151515" stroke-width="0.13" x="257.6" y="21.2">P</text>
<circle cx="248.4" cy="25.4" r="1.85" fill="#e8161c"/>
<text font-family="'DejaVu Sans', 'Liberation Sans', sans-serif" font-size="5.8" font-style="italic" fill="#151515" stroke="#151515" stroke-width="0.13" x="257.6" y="27.5">O</text>
</g>
</g>
<defs><clipPath id="clipb"><rect x="299.7" y="6" width="152.1" height="180.9"/></clipPath></defs>
<g>
<path d="M299.7 154H451.8 M337.4 6V186.9 M351.4 6V186.9 M389.6 6V186.9 M403.6 6V186.9 M427.8 6V186.9" stroke="#cfcfcf" stroke-width="0.8" fill="none"/>
<g clip-path="url(#clipb)">
<path d="M299.7 187.9 L299.7 161.6 L301.7 161.4 L303.7 161.3 L305.8 161.1 L307.8 161 L310 160.8 L312.2 160.6 L314.5 160.5 L316.9 160.3 L319.4 160.2 L322 160 L324.9 159.8 L328 159.7 L331.2 159.5 L334.4 159.4 L337.3 159.3 L340 159.2 L342.7 159.1 L345.2 159 L347.7 159 L350 159 L352.1 159.1 L354.1 159.2 L356 159.3 L357.9 159.4 L360 159.6 L362.2 159.8 L364.5 160 L366.9 160.3 L369.4 160.5 L372 160.7 L374.7 160.9 L377.6 161 L380.5 161.1 L383.5 161.2 L386.4 161.3 L389.5 161.4 L392.8 161.4 L396.1 161.5 L398.9 161.6 L401 161.8 L402.2 162.1 L402.7 162.5 L402.8 162.9 L402.8 163.3 L403 163.5 L403.3 163.5 L403.4 163.4 L403.6 163.2 L404.1 162.9 L405 162.8 L406.4 162.7 L408.3 162.7 L410.4 162.7 L412.7 162.7 L415 162.7 L417.4 162.6 L420 162.5 L422.7 162.4 L425.4 162.2 L428 162.2 L430.5 162.2 L432.9 162.3 L435.3 162.4 L437.6 162.5 L440 162.6 L442.4 162.7 L444.7 162.7 L447.1 162.8 L449.4 162.8 L451.8 162.9 L451.8 187.9 Z" fill="#f20b0b"/>
<path d="M309 166.9 L309.9 167.1 L310.8 167.2 L311.7 167.3 L312.7 167.4 L313.6 167.4 L314.4 167.5 L315.3 167.5 L316.2 167.6 L317.1 167.6 L318 167.6 L318.9 167.6 L319.8 167.5 L320.7 167.5 L321.6 167.4 L322.5 167.3 L323.4 167.3 L324.3 167.1 L325.2 167 L326.1 166.9 L327 166.7 L327.9 166.5 L328.8 166.3 L329.7 166 L329.7 166 L328.8 165.8 L327.9 165.7 L327 165.6 L326.1 165.5 L325.2 165.4 L324.3 165.3 L323.4 165.2 L322.5 165.1 L321.6 165.1 L320.7 165.1 L319.8 165 L318.9 165.1 L318 165.1 L317 165.1 L316.1 165.2 L315.2 165.3 L314.3 165.5 L313.4 165.6 L312.5 165.8 L311.6 166 L310.8 166.3 L309.9 166.6 L309 166.9Z" fill="#fff"/>
<path d="M343.9 165.6 L344.7 165.8 L345.5 166 L346.3 166.1 L347.1 166.2 L347.9 166.3 L348.7 166.3 L349.4 166.4 L350.2 166.4 L351 166.4 L351.8 166.3 L352.6 166.3 L353.4 166.3 L354.2 166.2 L354.9 166.1 L355.7 166.1 L356.5 166 L357.3 165.9 L358.1 165.8 L358.9 165.7 L359.6 165.6 L360.4 165.4 L361.2 165.3 L362 165.1 L362 165.1 L361.2 164.9 L360.4 164.7 L359.6 164.6 L358.9 164.5 L358.1 164.4 L357.3 164.3 L356.5 164.3 L355.7 164.2 L354.9 164.2 L354.1 164.1 L353.3 164.1 L352.5 164.1 L351.7 164.2 L350.9 164.2 L350.2 164.2 L349.4 164.3 L348.6 164.4 L347.8 164.6 L347 164.7 L346.2 164.9 L345.5 165.1 L344.7 165.3 L343.9 165.6Z" fill="#fff"/>
<path d="M319.9 180.4 L320.3 180.5 L320.8 180.6 L321.2 180.6 L321.7 180.7 L322.1 180.7 L322.5 180.7 L322.9 180.7 L323.3 180.8 L323.8 180.8 L324.2 180.8 L324.6 180.8 L325 180.8 L325.4 180.8 L325.8 180.8 L326.3 180.8 L326.7 180.7 L327.1 180.7 L327.5 180.7 L328 180.6 L328.4 180.5 L328.8 180.4 L329.3 180.3 L329.7 180.2 L329.7 180.2 L329.3 180 L328.9 179.9 L328.4 179.8 L328 179.7 L327.6 179.5 L327.2 179.5 L326.7 179.4 L326.3 179.3 L325.9 179.3 L325.5 179.2 L325 179.2 L324.6 179.2 L324.1 179.2 L323.7 179.2 L323.3 179.3 L322.8 179.4 L322.4 179.5 L322 179.6 L321.5 179.7 L321.1 179.9 L320.7 180 L320.3 180.2 L319.9 180.4Z" fill="#fff"/>
<path d="M341.7 180.4 L342.4 180.5 L343 180.6 L343.6 180.6 L344.3 180.6 L344.9 180.6 L345.5 180.6 L346.1 180.6 L346.7 180.7 L347.3 180.7 L347.9 180.7 L348.5 180.7 L349.1 180.7 L349.7 180.7 L350.3 180.6 L350.9 180.6 L351.5 180.6 L352.1 180.5 L352.7 180.5 L353.3 180.4 L354 180.3 L354.6 180.1 L355.3 180 L355.9 179.7 L355.9 179.7 L355.3 179.3 L354.7 179.1 L354.1 178.8 L353.5 178.6 L352.9 178.4 L352.3 178.2 L351.6 178.1 L351 178 L350.3 178 L349.7 178 L349 178 L348.4 178 L347.7 178.1 L347.1 178.3 L346.5 178.4 L345.8 178.6 L345.2 178.7 L344.6 179 L344 179.2 L343.4 179.5 L342.8 179.7 L342.3 180 L341.7 180.4Z" fill="#fff"/>
<path d="M355.4 183.4 L355.9 183.5 L356.4 183.6 L356.9 183.6 L357.4 183.6 L357.9 183.7 L358.4 183.7 L358.8 183.6 L359.3 183.6 L359.8 183.6 L360.3 183.6 L360.7 183.5 L361.2 183.4 L361.7 183.4 L362.1 183.3 L362.6 183.2 L363.1 183.1 L363.5 182.9 L364 182.8 L364.5 182.6 L364.9 182.5 L365.4 182.3 L365.8 182.1 L366.3 181.8 L366.3 181.8 L365.8 181.7 L365.3 181.6 L364.8 181.5 L364.3 181.4 L363.8 181.4 L363.4 181.4 L362.9 181.4 L362.4 181.4 L361.9 181.4 L361.4 181.4 L360.9 181.5 L360.5 181.5 L360 181.6 L359.5 181.7 L359 181.8 L358.6 182 L358.1 182.1 L357.6 182.3 L357.2 182.5 L356.7 182.7 L356.3 182.9 L355.8 183.1 L355.4 183.4Z" fill="#fff"/>
<path d="M378.2 174.6 L378.9 174.8 L379.6 174.9 L380.3 175 L380.9 175.1 L381.6 175.1 L382.3 175.2 L383 175.2 L383.6 175.3 L384.3 175.3 L385 175.3 L385.6 175.3 L386.3 175.3 L386.9 175.3 L387.6 175.3 L388.3 175.2 L389 175.2 L389.6 175.1 L390.3 175.1 L391 175 L391.7 174.9 L392.3 174.7 L393 174.6 L393.7 174.4 L393.7 174.4 L393 174.2 L392.4 174 L391.7 173.8 L391 173.7 L390.4 173.5 L389.7 173.4 L389 173.3 L388.3 173.2 L387.7 173.2 L387 173.1 L386.3 173.1 L385.6 173.1 L384.9 173.1 L384.2 173.2 L383.5 173.3 L382.9 173.4 L382.2 173.5 L381.5 173.6 L380.8 173.8 L380.2 173.9 L379.5 174.1 L378.9 174.3 L378.2 174.6Z" fill="#fff"/>
<path d="M384.7 166.6 L385 166.7 L385.3 166.8 L385.6 166.9 L385.8 167 L386.1 167 L386.4 167.1 L386.7 167.1 L387 167.1 L387.3 167.2 L387.6 167.2 L387.9 167.2 L388.1 167.2 L388.4 167.2 L388.7 167.2 L389 167.1 L389.3 167.1 L389.6 167.1 L389.9 167 L390.2 167 L390.4 166.9 L390.7 166.8 L391 166.7 L391.3 166.6 L391.3 166.6 L391 166.5 L390.7 166.4 L390.4 166.3 L390.2 166.2 L389.9 166.2 L389.6 166.1 L389.3 166.1 L389 166.1 L388.7 166 L388.4 166 L388.1 166 L387.9 166 L387.6 166 L387.3 166 L387 166.1 L386.7 166.1 L386.4 166.1 L386.1 166.2 L385.8 166.2 L385.6 166.3 L385.3 166.4 L385 166.5 L384.7 166.6Z" fill="#fff"/>
<path d="M386.4 185.8 L386.9 186 L387.4 186.1 L387.9 186.2 L388.4 186.2 L388.9 186.3 L389.4 186.4 L389.9 186.4 L390.4 186.4 L390.9 186.5 L391.4 186.5 L391.9 186.5 L392.3 186.5 L392.8 186.5 L393.3 186.5 L393.8 186.5 L394.3 186.4 L394.8 186.4 L395.3 186.3 L395.8 186.2 L396.3 186.2 L396.8 186.1 L397.3 186 L397.8 185.8 L397.8 185.8 L397.3 185.6 L396.8 185.4 L396.3 185.3 L395.8 185.2 L395.3 185.1 L394.9 185 L394.4 184.9 L393.9 184.8 L393.4 184.8 L392.9 184.7 L392.4 184.7 L391.8 184.7 L391.3 184.7 L390.8 184.8 L390.3 184.8 L389.8 184.9 L389.3 185 L388.8 185.1 L388.4 185.2 L387.9 185.3 L387.4 185.4 L386.9 185.6 L386.4 185.8Z" fill="#fff"/>
<path d="M407.6 178.5 L407.8 178.6 L408 178.7 L408.3 178.7 L408.5 178.8 L408.7 178.8 L408.9 178.9 L409.1 178.9 L409.3 179 L409.6 179 L409.8 179 L410 179 L410.2 179 L410.4 179 L410.6 179 L410.9 179 L411.1 178.9 L411.3 178.9 L411.5 178.8 L411.7 178.8 L411.9 178.7 L412.2 178.7 L412.4 178.6 L412.6 178.5 L412.6 178.5 L412.4 178.4 L412.2 178.3 L411.9 178.3 L411.7 178.2 L411.5 178.2 L411.3 178.1 L411.1 178.1 L410.9 178 L410.6 178 L410.4 178 L410.2 178 L410 178 L409.8 178 L409.6 178 L409.3 178 L409.1 178.1 L408.9 178.1 L408.7 178.2 L408.5 178.2 L408.3 178.3 L408 178.3 L407.8 178.4 L407.6 178.5Z" fill="#fff"/>
<path d="M444.5 178.9 L444.8 179 L445.2 179.1 L445.5 179.2 L445.8 179.3 L446.1 179.3 L446.5 179.4 L446.8 179.5 L447.1 179.5 L447.5 179.6 L447.8 179.6 L448.1 179.6 L448.4 179.6 L448.8 179.7 L449.1 179.7 L449.4 179.7 L449.7 179.7 L450.1 179.6 L450.4 179.6 L450.7 179.5 L451 179.3 L451.4 179.2 L451.7 179 L452 178.7 L452 178.7 L451.7 178.4 L451.3 178.3 L451 178.1 L450.7 178 L450.3 177.9 L450 177.9 L449.7 177.9 L449.4 177.9 L449 177.9 L448.7 177.9 L448.4 178 L448.1 178 L447.7 178 L447.4 178.1 L447.1 178.2 L446.8 178.2 L446.4 178.3 L446.1 178.4 L445.8 178.4 L445.5 178.5 L445.1 178.6 L444.8 178.8 L444.5 178.9Z" fill="#fff"/>
<path d="M300 170.5H340 M320 176H372 M395 169H450" stroke="#ffffff" stroke-opacity="0.45" stroke-width="0.8" stroke-dasharray="0.9 1.9" fill="none"/>
<path d="M300 185.4H309 M394.5 185.9H435.5" stroke="#3a2ad0" stroke-opacity="0.9" stroke-width="1.3" stroke-dasharray="1.3 1.5" fill="none"/>
<path d="M337.4 153V186.9 M351.4 153V186.9 M389.6 153V186.9 M403.6 153V186.9 M427.8 153V186.9" stroke="#700000" stroke-opacity="0.22" stroke-width="0.7" fill="none"/>
<path d="M299.9 103.2 L300.1 103.2 L300.3 103.2 L300.6 103.2 L300.8 103.2 L301 103.2 L301.2 103.2 L301.4 103.1 L301.7 103.1 L301.9 103.1 L302.1 103.1 L302.3 103 L302.5 103 L302.8 103 L303 102.9 L303.2 102.9 L303.4 102.9 L303.6 102.8 L303.8 102.8 L304.1 102.7 L304.3 102.7 L304.5 102.6 L304.7 102.6 L304.9 102.5 L305.2 102.4 L305.4 102.4 L305.6 102.3 L305.8 102.2 L306 102.2 L306.3 102.1 L306.5 102 L306.7 101.9 L306.9 101.8 L307.1 101.8 L307.4 101.7 L307.6 101.6 L307.8 101.5 L308 101.4 L308.2 101.3 L308.4 101.2 L308.7 101.1 L308.9 101 L309.1 100.9 L309.3 100.8 L309.5 100.6 L309.8 100.5 L310 100.4 L310.2 100.3 L310.4 100.2 L310.6 100 L310.9 99.9 L311.1 99.8 L311.3 99.6 L311.5 99.5 L311.7 99.4 L312 99.2 L312.2 99.1 L312.4 98.9 L312.6 98.8 L312.8 98.6 L313.1 98.4 L313.3 98.3 L313.5 98.1 L313.7 97.9 L313.9 97.8 L314.1 97.6 L314.4 97.4 L314.6 97.2 L314.8 97 L315 96.9 L315.2 96.7 L315.5 96.4 L315.7 96.2 L315.9 95.9 L316.1 95.6 L316.3 95.3 L316.6 95 L316.8 94.7 L317 94.4" fill="none" stroke="#0c0cb4" stroke-width="4.8" stroke-linecap="round"/>
<path d="M299.9 103.2 L300.1 103.2 L300.3 103.2 L300.6 103.2 L300.8 103.2 L301 103.2 L301.2 103.2 L301.4 103.1 L301.7 103.1 L301.9 103.1 L302.1 103.1 L302.3 103 L302.5 103 L302.8 103 L303 102.9 L303.2 102.9 L303.4 102.9 L303.6 102.8 L303.8 102.8 L304.1 102.7 L304.3 102.7 L304.5 102.6 L304.7 102.6 L304.9 102.5 L305.2 102.4 L305.4 102.4 L305.6 102.3 L305.8 102.2 L306 102.2 L306.3 102.1 L306.5 102 L306.7 101.9 L306.9 101.8 L307.1 101.8 L307.4 101.7 L307.6 101.6 L307.8 101.5 L308 101.4 L308.2 101.3 L308.4 101.2 L308.7 101.1 L308.9 101 L309.1 100.9 L309.3 100.8 L309.5 100.6 L309.8 100.5 L310 100.4 L310.2 100.3 L310.4 100.2 L310.6 100 L310.9 99.9 L311.1 99.8 L311.3 99.6 L311.5 99.5 L311.7 99.4 L312 99.2 L312.2 99.1 L312.4 98.9 L312.6 98.8 L312.8 98.6 L313.1 98.4 L313.3 98.3 L313.5 98.1 L313.7 97.9 L313.9 97.8 L314.1 97.6 L314.4 97.4 L314.6 97.2 L314.8 97 L315 96.9 L315.2 96.7 L315.5 96.4 L315.7 96.2 L315.9 95.9 L316.1 95.6 L316.3 95.3 L316.6 95 L316.8 94.7 L317 94.4" fill="none" stroke="#1d1de0" stroke-width="3.6" stroke-linecap="round"/>
<g fill="#1f1fe4" stroke="#0a0a9a" stroke-width="0.45"><circle cx="300.3" cy="103.2" r="2.2"/><circle cx="302.9" cy="102.9" r="2.2"/><circle cx="305.6" cy="102.3" r="2.2"/><circle cx="308.2" cy="101.3" r="2.2"/><circle cx="310.9" cy="99.9" r="2.2"/><circle cx="313.5" cy="98.1" r="2.2"/><circle cx="316.2" cy="95.5" r="2.2"/></g>
<g fill="#5a5af0"><circle cx="300.3" cy="103.2" r="0.6"/><circle cx="302.9" cy="102.9" r="0.6"/><circle cx="305.6" cy="102.3" r="0.6"/><circle cx="308.2" cy="101.3" r="0.6"/><circle cx="310.9" cy="99.9" r="0.6"/><circle cx="313.5" cy="98.1" r="0.6"/><circle cx="316.2" cy="95.5" r="0.6"/></g>
<path d="M317 94.4 L317.4 94.9 L317.9 95.4 L318.3 96 L318.8 96.5 L319.2 97 L319.6 97.4 L320.1 97.8 L320.5 98.2 L321 98.5 L321.4 98.8 L321.9 99.1 L322.3 99.4 L322.7 99.6 L323.2 99.9 L323.6 100.2 L324.1 100.4 L324.5 100.6 L324.9 100.9 L325.4 101.1 L325.8 101.3 L326.3 101.5 L326.7 101.7 L327.1 101.8 L327.6 102 L328 102.2 L328.5 102.3 L328.9 102.4 L329.3 102.6 L329.8 102.7 L330.2 102.8 L330.7 102.9 L331.1 102.9 L331.6 103 L332 103.1 L332.4 103.1 L332.9 103.2 L333.3 103.2 L333.8 103.2 L334.2 103.2 L334.6 103.2 L335.1 103.2 L335.5 103.2 L336 103.1 L336.4 103.1 L336.8 103 L337.3 102.9 L337.7 102.9 L338.2 102.8 L338.6 102.7 L339.1 102.6 L339.5 102.4 L339.9 102.3 L340.4 102.2 L340.8 102 L341.3 101.8 L341.7 101.7 L342.1 101.5 L342.6 101.3 L343 101.1 L343.5 100.9 L343.9 100.6 L344.3 100.4 L344.8 100.2 L345.2 99.9 L345.7 99.6 L346.1 99.4 L346.5 99.1 L347 98.8 L347.4 98.5 L347.9 98.2 L348.3 97.8 L348.8 97.4 L349.2 97 L349.6 96.5 L350.1 96 L350.5 95.4 L351 94.9 L351.4 94.4" fill="none" stroke="#0c0cb4" stroke-width="4.8" stroke-linecap="round"/>
<path d="M317 94.4 L317.4 94.9 L317.9 95.4 L318.3 96 L318.8 96.5 L319.2 97 L319.6 97.4 L320.1 97.8 L320.5 98.2 L321 98.5 L321.4 98.8 L321.9 99.1 L322.3 99.4 L322.7 99.6 L323.2 99.9 L323.6 100.2 L324.1 100.4 L324.5 100.6 L324.9 100.9 L325.4 101.1 L325.8 101.3 L326.3 101.5 L326.7 101.7 L327.1 101.8 L327.6 102 L328 102.2 L328.5 102.3 L328.9 102.4 L329.3 102.6 L329.8 102.7 L330.2 102.8 L330.7 102.9 L331.1 102.9 L331.6 103 L332 103.1 L332.4 103.1 L332.9 103.2 L333.3 103.2 L333.8 103.2 L334.2 103.2 L334.6 103.2 L335.1 103.2 L335.5 103.2 L336 103.1 L336.4 103.1 L336.8 103 L337.3 102.9 L337.7 102.9 L338.2 102.8 L338.6 102.7 L339.1 102.6 L339.5 102.4 L339.9 102.3 L340.4 102.2 L340.8 102 L341.3 101.8 L341.7 101.7 L342.1 101.5 L342.6 101.3 L343 101.1 L343.5 100.9 L343.9 100.6 L344.3 100.4 L344.8 100.2 L345.2 99.9 L345.7 99.6 L346.1 99.4 L346.5 99.1 L347 98.8 L347.4 98.5 L347.9 98.2 L348.3 97.8 L348.8 97.4 L349.2 97 L349.6 96.5 L350.1 96 L350.5 95.4 L351 94.9 L351.4 94.4" fill="none" stroke="#1d1de0" stroke-width="3.6" stroke-linecap="round"/>
<g fill="#1f1fe4" stroke="#0a0a9a" stroke-width="0.45"><circle cx="318.9" cy="96.6" r="2.2"/><circle cx="321.5" cy="98.8" r="2.2"/><circle cx="324.1" cy="100.5" r="2.2"/><circle cx="326.8" cy="101.7" r="2.2"/><circle cx="329.4" cy="102.6" r="2.2"/><circle cx="332.1" cy="103.1" r="2.2"/><circle cx="334.7" cy="103.2" r="2.2"/><circle cx="337.4" cy="102.9" r="2.2"/><circle cx="340" cy="102.3" r="2.2"/><circle cx="342.7" cy="101.2" r="2.2"/><circle cx="345.3" cy="99.8" r="2.2"/><circle cx="348" cy="98.1" r="2.2"/><circle cx="350.6" cy="95.3" r="2.2"/></g>
<g fill="#5a5af0"><circle cx="318.9" cy="96.6" r="0.6"/><circle cx="321.5" cy="98.8" r="0.6"/><circle cx="324.1" cy="100.5" r="0.6"/><circle cx="326.8" cy="101.7" r="0.6"/><circle cx="329.4" cy="102.6" r="0.6"/><circle cx="332.1" cy="103.1" r="0.6"/><circle cx="334.7" cy="103.2" r="0.6"/><circle cx="337.4" cy="102.9" r="0.6"/><circle cx="340" cy="102.3" r="0.6"/><circle cx="342.7" cy="101.2" r="0.6"/><circle cx="345.3" cy="99.8" r="0.6"/><circle cx="348" cy="98.1" r="0.6"/><circle cx="350.6" cy="95.3" r="0.6"/></g>
<path d="M351.4 94.4 L351.9 94.9 L352.4 95.4 L352.9 96 L353.4 96.5 L353.8 97 L354.3 97.4 L354.8 97.8 L355.3 98.2 L355.8 98.5 L356.3 98.8 L356.8 99.1 L357.3 99.4 L357.8 99.6 L358.3 99.9 L358.7 100.2 L359.2 100.4 L359.7 100.6 L360.2 100.9 L360.7 101.1 L361.2 101.3 L361.7 101.5 L362.2 101.7 L362.7 101.8 L363.2 102 L363.6 102.2 L364.1 102.3 L364.6 102.4 L365.1 102.6 L365.6 102.7 L366.1 102.8 L366.6 102.9 L367.1 102.9 L367.6 103 L368.1 103.1 L368.5 103.1 L369 103.2 L369.5 103.2 L370 103.2 L370.5 103.2 L371 103.2 L371.5 103.2 L372 103.2 L372.5 103.1 L372.9 103.1 L373.4 103 L373.9 102.9 L374.4 102.9 L374.9 102.8 L375.4 102.7 L375.9 102.6 L376.4 102.4 L376.9 102.3 L377.4 102.2 L377.8 102 L378.3 101.8 L378.8 101.7 L379.3 101.5 L379.8 101.3 L380.3 101.1 L380.8 100.9 L381.3 100.6 L381.8 100.4 L382.3 100.2 L382.7 99.9 L383.2 99.6 L383.7 99.4 L384.2 99.1 L384.7 98.8 L385.2 98.5 L385.7 98.2 L386.2 97.8 L386.7 97.4 L387.2 97 L387.6 96.5 L388.1 96 L388.6 95.4 L389.1 94.9 L389.6 94.4" fill="none" stroke="#0c0cb4" stroke-width="4.8" stroke-linecap="round"/>
<path d="M351.4 94.4 L351.9 94.9 L352.4 95.4 L352.9 96 L353.4 96.5 L353.8 97 L354.3 97.4 L354.8 97.8 L355.3 98.2 L355.8 98.5 L356.3 98.8 L356.8 99.1 L357.3 99.4 L357.8 99.6 L358.3 99.9 L358.7 100.2 L359.2 100.4 L359.7 100.6 L360.2 100.9 L360.7 101.1 L361.2 101.3 L361.7 101.5 L362.2 101.7 L362.7 101.8 L363.2 102 L363.6 102.2 L364.1 102.3 L364.6 102.4 L365.1 102.6 L365.6 102.7 L366.1 102.8 L366.6 102.9 L367.1 102.9 L367.6 103 L368.1 103.1 L368.5 103.1 L369 103.2 L369.5 103.2 L370 103.2 L370.5 103.2 L371 103.2 L371.5 103.2 L372 103.2 L372.5 103.1 L372.9 103.1 L373.4 103 L373.9 102.9 L374.4 102.9 L374.9 102.8 L375.4 102.7 L375.9 102.6 L376.4 102.4 L376.9 102.3 L377.4 102.2 L377.8 102 L378.3 101.8 L378.8 101.7 L379.3 101.5 L379.8 101.3 L380.3 101.1 L380.8 100.9 L381.3 100.6 L381.8 100.4 L382.3 100.2 L382.7 99.9 L383.2 99.6 L383.7 99.4 L384.2 99.1 L384.7 98.8 L385.2 98.5 L385.7 98.2 L386.2 97.8 L386.7 97.4 L387.2 97 L387.6 96.5 L388.1 96 L388.6 95.4 L389.1 94.9 L389.6 94.4" fill="none" stroke="#1d1de0" stroke-width="3.6" stroke-linecap="round"/>
<g fill="#1f1fe4" stroke="#0a0a9a" stroke-width="0.45"><circle cx="353.3" cy="96.4" r="2.2"/><circle cx="355.9" cy="98.6" r="2.2"/><circle cx="358.6" cy="100.1" r="2.2"/><circle cx="361.2" cy="101.3" r="2.2"/><circle cx="363.9" cy="102.2" r="2.2"/><circle cx="366.5" cy="102.9" r="2.2"/><circle cx="369.2" cy="103.2" r="2.2"/><circle cx="371.8" cy="103.2" r="2.2"/><circle cx="374.5" cy="102.8" r="2.2"/><circle cx="377.1" cy="102.2" r="2.2"/><circle cx="379.8" cy="101.3" r="2.2"/><circle cx="382.4" cy="100.1" r="2.2"/><circle cx="385.1" cy="98.5" r="2.2"/><circle cx="387.7" cy="96.4" r="2.2"/></g>
<g fill="#5a5af0"><circle cx="353.3" cy="96.4" r="0.6"/><circle cx="355.9" cy="98.6" r="0.6"/><circle cx="358.6" cy="100.1" r="0.6"/><circle cx="361.2" cy="101.3" r="0.6"/><circle cx="363.9" cy="102.2" r="0.6"/><circle cx="366.5" cy="102.9" r="0.6"/><circle cx="369.2" cy="103.2" r="0.6"/><circle cx="371.8" cy="103.2" r="0.6"/><circle cx="374.5" cy="102.8" r="0.6"/><circle cx="377.1" cy="102.2" r="0.6"/><circle cx="379.8" cy="101.3" r="0.6"/><circle cx="382.4" cy="100.1" r="0.6"/><circle cx="385.1" cy="98.5" r="0.6"/><circle cx="387.7" cy="96.4" r="0.6"/></g>
<path d="M389.6 94.4 L389.8 94.7 L390 95 L390.1 95.3 L390.3 95.6 L390.5 95.9 L390.7 96.2 L390.9 96.4 L391.1 96.7 L391.2 96.9 L391.4 97 L391.6 97.2 L391.8 97.4 L392 97.6 L392.1 97.8 L392.3 97.9 L392.5 98.1 L392.7 98.3 L392.9 98.4 L393.1 98.6 L393.2 98.8 L393.4 98.9 L393.6 99.1 L393.8 99.2 L394 99.4 L394.2 99.5 L394.3 99.6 L394.5 99.8 L394.7 99.9 L394.9 100 L395.1 100.2 L395.2 100.3 L395.4 100.4 L395.6 100.5 L395.8 100.6 L396 100.8 L396.2 100.9 L396.3 101 L396.5 101.1 L396.7 101.2 L396.9 101.3 L397.1 101.4 L397.2 101.5 L397.4 101.6 L397.6 101.7 L397.8 101.8 L398 101.8 L398.2 101.9 L398.3 102 L398.5 102.1 L398.7 102.2 L398.9 102.2 L399.1 102.3 L399.2 102.4 L399.4 102.4 L399.6 102.5 L399.8 102.6 L400 102.6 L400.2 102.7 L400.3 102.7 L400.5 102.8 L400.7 102.8 L400.9 102.9 L401.1 102.9 L401.3 102.9 L401.4 103 L401.6 103 L401.8 103 L402 103.1 L402.2 103.1 L402.3 103.1 L402.5 103.1 L402.7 103.2 L402.9 103.2 L403.1 103.2 L403.3 103.2 L403.4 103.2 L403.6 103.2 L403.8 103.2" fill="none" stroke="#0c0cb4" stroke-width="4.8" stroke-linecap="round"/>
<path d="M389.6 94.4 L389.8 94.7 L390 95 L390.1 95.3 L390.3 95.6 L390.5 95.9 L390.7 96.2 L390.9 96.4 L391.1 96.7 L391.2 96.9 L391.4 97 L391.6 97.2 L391.8 97.4 L392 97.6 L392.1 97.8 L392.3 97.9 L392.5 98.1 L392.7 98.3 L392.9 98.4 L393.1 98.6 L393.2 98.8 L393.4 98.9 L393.6 99.1 L393.8 99.2 L394 99.4 L394.2 99.5 L394.3 99.6 L394.5 99.8 L394.7 99.9 L394.9 100 L395.1 100.2 L395.2 100.3 L395.4 100.4 L395.6 100.5 L395.8 100.6 L396 100.8 L396.2 100.9 L396.3 101 L396.5 101.1 L396.7 101.2 L396.9 101.3 L397.1 101.4 L397.2 101.5 L397.4 101.6 L397.6 101.7 L397.8 101.8 L398 101.8 L398.2 101.9 L398.3 102 L398.5 102.1 L398.7 102.2 L398.9 102.2 L399.1 102.3 L399.2 102.4 L399.4 102.4 L399.6 102.5 L399.8 102.6 L400 102.6 L400.2 102.7 L400.3 102.7 L400.5 102.8 L400.7 102.8 L400.9 102.9 L401.1 102.9 L401.3 102.9 L401.4 103 L401.6 103 L401.8 103 L402 103.1 L402.2 103.1 L402.3 103.1 L402.5 103.1 L402.7 103.2 L402.9 103.2 L403.1 103.2 L403.3 103.2 L403.4 103.2 L403.6 103.2 L403.8 103.2" fill="none" stroke="#1d1de0" stroke-width="3.6" stroke-linecap="round"/>
<g fill="#1f1fe4" stroke="#0a0a9a" stroke-width="0.45"><circle cx="390.4" cy="95.8" r="2.2"/><circle cx="393" cy="98.6" r="2.2"/><circle cx="395.7" cy="100.6" r="2.2"/><circle cx="398.3" cy="102" r="2.2"/><circle cx="401" cy="102.9" r="2.2"/><circle cx="403.6" cy="103.2" r="2.2"/></g>
<g fill="#5a5af0"><circle cx="390.4" cy="95.8" r="0.6"/><circle cx="393" cy="98.6" r="0.6"/><circle cx="395.7" cy="100.6" r="0.6"/><circle cx="398.3" cy="102" r="0.6"/><circle cx="401" cy="102.9" r="0.6"/><circle cx="403.6" cy="103.2" r="0.6"/></g>
<path d="M404.2 94.4 L404.8 94.9 L405.4 95.4 L406 96 L406.6 96.5 L407.2 97 L407.8 97.4 L408.5 97.8 L409.1 98.2 L409.7 98.5 L410.3 98.8 L410.9 99.1 L411.5 99.4 L412.1 99.6 L412.7 99.9 L413.3 100.2 L413.9 100.4 L414.5 100.6 L415.1 100.9 L415.7 101.1 L416.4 101.3 L417 101.5 L417.6 101.7 L418.2 101.8 L418.8 102 L419.4 102.2 L420 102.3 L420.6 102.4 L421.2 102.6 L421.8 102.7 L422.4 102.8 L423 102.9 L423.6 102.9 L424.3 103 L424.9 103.1 L425.5 103.1 L426.1 103.2 L426.7 103.2 L427.3 103.2 L427.9 103.2 L428.5 103.2 L429.1 103.2 L429.7 103.2 L430.3 103.1 L430.9 103.1 L431.5 103 L432.2 102.9 L432.8 102.9 L433.4 102.8 L434 102.7 L434.6 102.6 L435.2 102.4 L435.8 102.3 L436.4 102.2 L437 102 L437.6 101.8 L438.2 101.7 L438.8 101.5 L439.4 101.3 L440.1 101.1 L440.7 100.9 L441.3 100.6 L441.9 100.4 L442.5 100.2 L443.1 99.9 L443.7 99.6 L444.3 99.4 L444.9 99.1 L445.5 98.8 L446.1 98.5 L446.7 98.2 L447.3 97.8 L448 97.4 L448.6 97 L449.2 96.5 L449.8 96 L450.4 95.4 L451 94.9 L451.6 94.4" fill="none" stroke="#0c0cb4" stroke-width="4.8" stroke-linecap="round"/>
<path d="M404.2 94.4 L404.8 94.9 L405.4 95.4 L406 96 L406.6 96.5 L407.2 97 L407.8 97.4 L408.5 97.8 L409.1 98.2 L409.7 98.5 L410.3 98.8 L410.9 99.1 L411.5 99.4 L412.1 99.6 L412.7 99.9 L413.3 100.2 L413.9 100.4 L414.5 100.6 L415.1 100.9 L415.7 101.1 L416.4 101.3 L417 101.5 L417.6 101.7 L418.2 101.8 L418.8 102 L419.4 102.2 L420 102.3 L420.6 102.4 L421.2 102.6 L421.8 102.7 L422.4 102.8 L423 102.9 L423.6 102.9 L424.3 103 L424.9 103.1 L425.5 103.1 L426.1 103.2 L426.7 103.2 L427.3 103.2 L427.9 103.2 L428.5 103.2 L429.1 103.2 L429.7 103.2 L430.3 103.1 L430.9 103.1 L431.5 103 L432.2 102.9 L432.8 102.9 L433.4 102.8 L434 102.7 L434.6 102.6 L435.2 102.4 L435.8 102.3 L436.4 102.2 L437 102 L437.6 101.8 L438.2 101.7 L438.8 101.5 L439.4 101.3 L440.1 101.1 L440.7 100.9 L441.3 100.6 L441.9 100.4 L442.5 100.2 L443.1 99.9 L443.7 99.6 L444.3 99.4 L444.9 99.1 L445.5 98.8 L446.1 98.5 L446.7 98.2 L447.3 97.8 L448 97.4 L448.6 97 L449.2 96.5 L449.8 96 L450.4 95.4 L451 94.9 L451.6 94.4" fill="none" stroke="#1d1de0" stroke-width="3.6" stroke-linecap="round"/>
<g fill="#1f1fe4" stroke="#0a0a9a" stroke-width="0.45"><circle cx="406.3" cy="96.2" r="2.2"/><circle cx="408.9" cy="98.1" r="2.2"/><circle cx="411.6" cy="99.4" r="2.2"/><circle cx="414.2" cy="100.5" r="2.2"/><circle cx="416.9" cy="101.5" r="2.2"/><circle cx="419.5" cy="102.2" r="2.2"/><circle cx="422.2" cy="102.7" r="2.2"/><circle cx="424.8" cy="103.1" r="2.2"/><circle cx="427.5" cy="103.2" r="2.2"/><circle cx="430.1" cy="103.1" r="2.2"/><circle cx="432.8" cy="102.9" r="2.2"/><circle cx="435.4" cy="102.4" r="2.2"/><circle cx="438.1" cy="101.7" r="2.2"/><circle cx="440.7" cy="100.8" r="2.2"/><circle cx="443.4" cy="99.8" r="2.2"/><circle cx="446" cy="98.5" r="2.2"/><circle cx="448.7" cy="96.9" r="2.2"/><circle cx="451.3" cy="94.6" r="2.2"/></g>
<g fill="#5a5af0"><circle cx="406.3" cy="96.2" r="0.6"/><circle cx="408.9" cy="98.1" r="0.6"/><circle cx="411.6" cy="99.4" r="0.6"/><circle cx="414.2" cy="100.5" r="0.6"/><circle cx="416.9" cy="101.5" r="0.6"/><circle cx="419.5" cy="102.2" r="0.6"/><circle cx="422.2" cy="102.7" r="0.6"/><circle cx="424.8" cy="103.1" r="0.6"/><circle cx="427.5" cy="103.2" r="0.6"/><circle cx="430.1" cy="103.1" r="0.6"/><circle cx="432.8" cy="102.9" r="0.6"/><circle cx="435.4" cy="102.4" r="0.6"/><circle cx="438.1" cy="101.7" r="0.6"/><circle cx="440.7" cy="100.8" r="0.6"/><circle cx="443.4" cy="99.8" r="0.6"/><circle cx="446" cy="98.5" r="0.6"/><circle cx="448.7" cy="96.9" r="0.6"/><circle cx="451.3" cy="94.6" r="0.6"/></g>
<path d="M299.9 95.2 L303.3 95.2 L306.6 95.2 L310 95.2 L313.3 95.3 L316.7 95.3 L320 95.3 L323.3 95.3 L326.7 95.3 L330 95.3 L333.3 95.4 L336.7 95.4 L340 95.4 L343.3 95.4 L346.7 95.4 L350 95.5 L353.3 95.5 L356.7 95.5 L360 95.5 L363.3 95.5 L366.5 95.5 L369.8 95.5 L373.1 95.4 L376.4 95.4 L380 95.4 L383.7 95.4 L387.7 95.4 L391.7 95.4 L395.7 95.3 L399.8 95.3 L403.8 95.3" fill="none" stroke="#0c0cb4" stroke-width="4.7" stroke-linecap="round"/>
<path d="M299.9 95.2 L303.3 95.2 L306.6 95.2 L310 95.2 L313.3 95.3 L316.7 95.3 L320 95.3 L323.3 95.3 L326.7 95.3 L330 95.3 L333.3 95.4 L336.7 95.4 L340 95.4 L343.3 95.4 L346.7 95.4 L350 95.5 L353.3 95.5 L356.7 95.5 L360 95.5 L363.3 95.5 L366.5 95.5 L369.8 95.5 L373.1 95.4 L376.4 95.4 L380 95.4 L383.7 95.4 L387.7 95.4 L391.7 95.4 L395.7 95.3 L399.8 95.3 L403.8 95.3" fill="none" stroke="#1d1de0" stroke-width="3.5" stroke-linecap="round"/>
<g fill="#1f1fe4" stroke="#0a0a9a" stroke-width="0.45"><circle cx="300.3" cy="95.2" r="2.2"/><circle cx="302.9" cy="95.2" r="2.2"/><circle cx="305.6" cy="95.2" r="2.2"/><circle cx="308.2" cy="95.2" r="2.2"/><circle cx="310.9" cy="95.3" r="2.2"/><circle cx="313.5" cy="95.3" r="2.2"/><circle cx="316.2" cy="95.3" r="2.2"/><circle cx="318.8" cy="95.3" r="2.2"/><circle cx="321.5" cy="95.3" r="2.2"/><circle cx="324.1" cy="95.3" r="2.2"/><circle cx="326.8" cy="95.3" r="2.2"/><circle cx="329.4" cy="95.3" r="2.2"/><circle cx="332.1" cy="95.4" r="2.2"/><circle cx="334.7" cy="95.4" r="2.2"/><circle cx="337.4" cy="95.4" r="2.2"/><circle cx="340" cy="95.4" r="2.2"/><circle cx="342.7" cy="95.4" r="2.2"/><circle cx="345.3" cy="95.4" r="2.2"/><circle cx="348" cy="95.4" r="2.2"/><circle cx="350.6" cy="95.5" r="2.2"/><circle cx="353.3" cy="95.5" r="2.2"/><circle cx="355.9" cy="95.5" r="2.2"/><circle cx="358.6" cy="95.5" r="2.2"/><circle cx="361.2" cy="95.5" r="2.2"/><circle cx="363.9" cy="95.5" r="2.2"/><circle cx="366.5" cy="95.5" r="2.2"/><circle cx="369.2" cy="95.5" r="2.2"/><circle cx="371.8" cy="95.4" r="2.2"/><circle cx="374.5" cy="95.4" r="2.2"/><circle cx="377.1" cy="95.4" r="2.2"/><circle cx="379.8" cy="95.4" r="2.2"/><circle cx="382.4" cy="95.4" r="2.2"/><circle cx="385.1" cy="95.4" r="2.2"/><circle cx="387.7" cy="95.4" r="2.2"/><circle cx="390.4" cy="95.4" r="2.2"/><circle cx="393" cy="95.3" r="2.2"/><circle cx="395.7" cy="95.3" r="2.2"/><circle cx="398.3" cy="95.3" r="2.2"/><circle cx="401" cy="95.3" r="2.2"/><circle cx="403.6" cy="95.3" r="2.2"/></g>
<g fill="#dc1c50"><circle cx="300.3" cy="95.2" r="1.2"/><circle cx="302.9" cy="95.2" r="1.2"/><circle cx="305.6" cy="95.2" r="1.2"/><circle cx="308.2" cy="95.2" r="1.2"/><circle cx="310.9" cy="95.3" r="1.2"/><circle cx="313.5" cy="95.3" r="1.2"/><circle cx="316.2" cy="95.3" r="1.2"/><circle cx="318.8" cy="95.3" r="1.2"/><circle cx="321.5" cy="95.3" r="1.2"/><circle cx="324.1" cy="95.3" r="1.2"/><circle cx="326.8" cy="95.3" r="1.2"/><circle cx="329.4" cy="95.3" r="1.2"/><circle cx="332.1" cy="95.4" r="1.2"/><circle cx="334.7" cy="95.4" r="1.2"/><circle cx="337.4" cy="95.4" r="1.2"/><circle cx="340" cy="95.4" r="1.2"/><circle cx="342.7" cy="95.4" r="1.2"/><circle cx="345.3" cy="95.4" r="1.2"/><circle cx="348" cy="95.4" r="1.2"/><circle cx="350.6" cy="95.5" r="1.2"/><circle cx="353.3" cy="95.5" r="1.2"/><circle cx="355.9" cy="95.5" r="1.2"/><circle cx="358.6" cy="95.5" r="1.2"/><circle cx="361.2" cy="95.5" r="1.2"/><circle cx="363.9" cy="95.5" r="1.2"/><circle cx="366.5" cy="95.5" r="1.2"/><circle cx="369.2" cy="95.5" r="1.2"/><circle cx="371.8" cy="95.4" r="1.2"/><circle cx="374.5" cy="95.4" r="1.2"/><circle cx="377.1" cy="95.4" r="1.2"/><circle cx="379.8" cy="95.4" r="1.2"/><circle cx="382.4" cy="95.4" r="1.2"/><circle cx="385.1" cy="95.4" r="1.2"/><circle cx="387.7" cy="95.4" r="1.2"/><circle cx="390.4" cy="95.4" r="1.2"/><circle cx="393" cy="95.3" r="1.2"/><circle cx="395.7" cy="95.3" r="1.2"/><circle cx="398.3" cy="95.3" r="1.2"/><circle cx="401" cy="95.3" r="1.2"/><circle cx="403.6" cy="95.3" r="1.2"/></g>
<path d="M404.2 95.3 L406.8 95.3 L409.3 95.3 L411.8 95.3 L414.4 95.3 L417.1 95.3 L420 95.3 L423.2 95.3 L426.7 95.3 L430.3 95.3 L433.8 95.4 L437.1 95.4 L440 95.4 L442.4 95.4 L444.5 95.4 L446.3 95.5 L448 95.5 L449.8 95.5 L451.6 95.5" fill="none" stroke="#0c0cb4" stroke-width="4.7" stroke-linecap="round"/>
<path d="M404.2 95.3 L406.8 95.3 L409.3 95.3 L411.8 95.3 L414.4 95.3 L417.1 95.3 L420 95.3 L423.2 95.3 L426.7 95.3 L430.3 95.3 L433.8 95.4 L437.1 95.4 L440 95.4 L442.4 95.4 L444.5 95.4 L446.3 95.5 L448 95.5 L449.8 95.5 L451.6 95.5" fill="none" stroke="#1d1de0" stroke-width="3.5" stroke-linecap="round"/>
<g fill="#1f1fe4" stroke="#0a0a9a" stroke-width="0.45"><circle cx="406.3" cy="95.3" r="2.2"/><circle cx="408.9" cy="95.3" r="2.2"/><circle cx="411.6" cy="95.3" r="2.2"/><circle cx="414.2" cy="95.3" r="2.2"/><circle cx="416.9" cy="95.3" r="2.2"/><circle cx="419.5" cy="95.3" r="2.2"/><circle cx="422.2" cy="95.3" r="2.2"/><circle cx="424.8" cy="95.3" r="2.2"/><circle cx="427.5" cy="95.3" r="2.2"/><circle cx="430.1" cy="95.3" r="2.2"/><circle cx="432.8" cy="95.4" r="2.2"/><circle cx="435.4" cy="95.4" r="2.2"/><circle cx="438.1" cy="95.4" r="2.2"/><circle cx="440.7" cy="95.4" r="2.2"/><circle cx="443.4" cy="95.4" r="2.2"/><circle cx="446" cy="95.4" r="2.2"/><circle cx="448.7" cy="95.5" r="2.2"/><circle cx="451.3" cy="95.5" r="2.2"/></g>
<g fill="#dc1c50"><circle cx="406.3" cy="95.3" r="1.2"/><circle cx="408.9" cy="95.3" r="1.2"/><circle cx="411.6" cy="95.3" r="1.2"/><circle cx="414.2" cy="95.3" r="1.2"/><circle cx="416.9" cy="95.3" r="1.2"/><circle cx="419.5" cy="95.3" r="1.2"/><circle cx="422.2" cy="95.3" r="1.2"/><circle cx="424.8" cy="95.3" r="1.2"/><circle cx="427.5" cy="95.3" r="1.2"/><circle cx="430.1" cy="95.3" r="1.2"/><circle cx="432.8" cy="95.4" r="1.2"/><circle cx="435.4" cy="95.4" r="1.2"/><circle cx="438.1" cy="95.4" r="1.2"/><circle cx="440.7" cy="95.4" r="1.2"/><circle cx="443.4" cy="95.4" r="1.2"/><circle cx="446" cy="95.4" r="1.2"/><circle cx="448.7" cy="95.5" r="1.2"/><circle cx="451.3" cy="95.5" r="1.2"/></g>
<path d="M299.9 92.9 L303.3 92.9 L306.6 92.9 L310 93 L313.3 93 L316.7 93 L320 93 L323.3 93 L326.7 93 L330 93 L333.3 93.1 L336.7 93.1 L340 93.1 L343.3 93.1 L346.7 93.1 L350 93.2 L353.3 93.2 L356.7 93.2 L360 93.2 L363.3 93.2 L366.5 93.2 L369.8 93.2 L373.1 93.1 L376.4 93.1 L380 93.1 L383.7 93.1 L387.7 93.1 L391.7 93 L395.7 93 L399.8 93 L403.8 93" fill="none" stroke="#0c0cb4" stroke-width="4.7" stroke-linecap="round"/>
<path d="M299.9 92.9 L303.3 92.9 L306.6 92.9 L310 93 L313.3 93 L316.7 93 L320 93 L323.3 93 L326.7 93 L330 93 L333.3 93.1 L336.7 93.1 L340 93.1 L343.3 93.1 L346.7 93.1 L350 93.2 L353.3 93.2 L356.7 93.2 L360 93.2 L363.3 93.2 L366.5 93.2 L369.8 93.2 L373.1 93.1 L376.4 93.1 L380 93.1 L383.7 93.1 L387.7 93.1 L391.7 93 L395.7 93 L399.8 93 L403.8 93" fill="none" stroke="#1d1de0" stroke-width="3.5" stroke-linecap="round"/>
<g fill="#1f1fe4" stroke="#0a0a9a" stroke-width="0.45"><circle cx="300.3" cy="92.9" r="2.2"/><circle cx="302.9" cy="92.9" r="2.2"/><circle cx="305.6" cy="92.9" r="2.2"/><circle cx="308.2" cy="92.9" r="2.2"/><circle cx="310.9" cy="93" r="2.2"/><circle cx="313.5" cy="93" r="2.2"/><circle cx="316.2" cy="93" r="2.2"/><circle cx="318.8" cy="93" r="2.2"/><circle cx="321.5" cy="93" r="2.2"/><circle cx="324.1" cy="93" r="2.2"/><circle cx="326.8" cy="93" r="2.2"/><circle cx="329.4" cy="93" r="2.2"/><circle cx="332.1" cy="93.1" r="2.2"/><circle cx="334.7" cy="93.1" r="2.2"/><circle cx="337.4" cy="93.1" r="2.2"/><circle cx="340" cy="93.1" r="2.2"/><circle cx="342.7" cy="93.1" r="2.2"/><circle cx="345.3" cy="93.1" r="2.2"/><circle cx="348" cy="93.1" r="2.2"/><circle cx="350.6" cy="93.2" r="2.2"/><circle cx="353.3" cy="93.2" r="2.2"/><circle cx="355.9" cy="93.2" r="2.2"/><circle cx="358.6" cy="93.2" r="2.2"/><circle cx="361.2" cy="93.2" r="2.2"/><circle cx="363.9" cy="93.2" r="2.2"/><circle cx="366.5" cy="93.2" r="2.2"/><circle cx="369.2" cy="93.2" r="2.2"/><circle cx="371.8" cy="93.1" r="2.2"/><circle cx="374.5" cy="93.1" r="2.2"/><circle cx="377.1" cy="93.1" r="2.2"/><circle cx="379.8" cy="93.1" r="2.2"/><circle cx="382.4" cy="93.1" r="2.2"/><circle cx="385.1" cy="93.1" r="2.2"/><circle cx="387.7" cy="93.1" r="2.2"/><circle cx="390.4" cy="93.1" r="2.2"/><circle cx="393" cy="93" r="2.2"/><circle cx="395.7" cy="93" r="2.2"/><circle cx="398.3" cy="93" r="2.2"/><circle cx="401" cy="93" r="2.2"/><circle cx="403.6" cy="93" r="2.2"/></g>
<g fill="#dc1c50"><circle cx="300.3" cy="92.9" r="1.2"/><circle cx="302.9" cy="92.9" r="1.2"/><circle cx="305.6" cy="92.9" r="1.2"/><circle cx="308.2" cy="92.9" r="1.2"/><circle cx="310.9" cy="93" r="1.2"/><circle cx="313.5" cy="93" r="1.2"/><circle cx="316.2" cy="93" r="1.2"/><circle cx="318.8" cy="93" r="1.2"/><circle cx="321.5" cy="93" r="1.2"/><circle cx="324.1" cy="93" r="1.2"/><circle cx="326.8" cy="93" r="1.2"/><circle cx="329.4" cy="93" r="1.2"/><circle cx="332.1" cy="93.1" r="1.2"/><circle cx="334.7" cy="93.1" r="1.2"/><circle cx="337.4" cy="93.1" r="1.2"/><circle cx="340" cy="93.1" r="1.2"/><circle cx="342.7" cy="93.1" r="1.2"/><circle cx="345.3" cy="93.1" r="1.2"/><circle cx="348" cy="93.1" r="1.2"/><circle cx="350.6" cy="93.2" r="1.2"/><circle cx="353.3" cy="93.2" r="1.2"/><circle cx="355.9" cy="93.2" r="1.2"/><circle cx="358.6" cy="93.2" r="1.2"/><circle cx="361.2" cy="93.2" r="1.2"/><circle cx="363.9" cy="93.2" r="1.2"/><circle cx="366.5" cy="93.2" r="1.2"/><circle cx="369.2" cy="93.2" r="1.2"/><circle cx="371.8" cy="93.1" r="1.2"/><circle cx="374.5" cy="93.1" r="1.2"/><circle cx="377.1" cy="93.1" r="1.2"/><circle cx="379.8" cy="93.1" r="1.2"/><circle cx="382.4" cy="93.1" r="1.2"/><circle cx="385.1" cy="93.1" r="1.2"/><circle cx="387.7" cy="93.1" r="1.2"/><circle cx="390.4" cy="93.1" r="1.2"/><circle cx="393" cy="93" r="1.2"/><circle cx="395.7" cy="93" r="1.2"/><circle cx="398.3" cy="93" r="1.2"/><circle cx="401" cy="93" r="1.2"/><circle cx="403.6" cy="93" r="1.2"/></g>
<path d="M404.2 93 L406.8 93 L409.3 93 L411.8 93 L414.4 93 L417.1 93 L420 93 L423.2 93 L426.7 93 L430.3 93.1 L433.8 93.1 L437.1 93.2 L440 93.2 L442.4 93.2 L444.5 93.3 L446.3 93.3 L448 93.4 L449.8 93.4 L451.6 93.5" fill="none" stroke="#0c0cb4" stroke-width="4.7" stroke-linecap="round"/>
<path d="M404.2 93 L406.8 93 L409.3 93 L411.8 93 L414.4 93 L417.1 93 L420 93 L423.2 93 L426.7 93 L430.3 93.1 L433.8 93.1 L437.1 93.2 L440 93.2 L442.4 93.2 L444.5 93.3 L446.3 93.3 L448 93.4 L449.8 93.4 L451.6 93.5" fill="none" stroke="#1d1de0" stroke-width="3.5" stroke-linecap="round"/>
<g fill="#1f1fe4" stroke="#0a0a9a" stroke-width="0.45"><circle cx="406.3" cy="93" r="2.2"/><circle cx="408.9" cy="93" r="2.2"/><circle cx="411.6" cy="93" r="2.2"/><circle cx="414.2" cy="93" r="2.2"/><circle cx="416.9" cy="93" r="2.2"/><circle cx="419.5" cy="93" r="2.2"/><circle cx="422.2" cy="93" r="2.2"/><circle cx="424.8" cy="93" r="2.2"/><circle cx="427.5" cy="93.1" r="2.2"/><circle cx="430.1" cy="93.1" r="2.2"/><circle cx="432.8" cy="93.1" r="2.2"/><circle cx="435.4" cy="93.1" r="2.2"/><circle cx="438.1" cy="93.2" r="2.2"/><circle cx="440.7" cy="93.2" r="2.2"/><circle cx="443.4" cy="93.3" r="2.2"/><circle cx="446" cy="93.3" r="2.2"/><circle cx="448.7" cy="93.4" r="2.2"/><circle cx="451.3" cy="93.5" r="2.2"/></g>
<g fill="#dc1c50"><circle cx="406.3" cy="93" r="1.2"/><circle cx="408.9" cy="93" r="1.2"/><circle cx="411.6" cy="93" r="1.2"/><circle cx="414.2" cy="93" r="1.2"/><circle cx="416.9" cy="93" r="1.2"/><circle cx="419.5" cy="93" r="1.2"/><circle cx="422.2" cy="93" r="1.2"/><circle cx="424.8" cy="93" r="1.2"/><circle cx="427.5" cy="93.1" r="1.2"/><circle cx="430.1" cy="93.1" r="1.2"/><circle cx="432.8" cy="93.1" r="1.2"/><circle cx="435.4" cy="93.1" r="1.2"/><circle cx="438.1" cy="93.2" r="1.2"/><circle cx="440.7" cy="93.2" r="1.2"/><circle cx="443.4" cy="93.3" r="1.2"/><circle cx="446" cy="93.3" r="1.2"/><circle cx="448.7" cy="93.4" r="1.2"/><circle cx="451.3" cy="93.5" r="1.2"/></g>
<path d="M299.9 85.6 L300.1 85.6 L300.3 85.6 L300.6 85.6 L300.8 85.6 L301 85.6 L301.2 85.6 L301.4 85.7 L301.7 85.7 L301.9 85.7 L302.1 85.7 L302.3 85.8 L302.5 85.8 L302.8 85.8 L303 85.9 L303.2 85.9 L303.4 85.9 L303.6 86 L303.8 86 L304.1 86.1 L304.3 86.1 L304.5 86.2 L304.7 86.2 L304.9 86.3 L305.2 86.4 L305.4 86.4 L305.6 86.5 L305.8 86.6 L306 86.6 L306.3 86.7 L306.5 86.8 L306.7 86.9 L306.9 87 L307.1 87 L307.4 87.1 L307.6 87.2 L307.8 87.3 L308 87.4 L308.2 87.5 L308.4 87.6 L308.7 87.7 L308.9 87.8 L309.1 87.9 L309.3 88 L309.5 88.2 L309.8 88.3 L310 88.4 L310.2 88.5 L310.4 88.6 L310.6 88.8 L310.9 88.9 L311.1 89 L311.3 89.2 L311.5 89.3 L311.7 89.4 L312 89.6 L312.2 89.7 L312.4 89.9 L312.6 90 L312.8 90.2 L313.1 90.4 L313.3 90.5 L313.5 90.7 L313.7 90.9 L313.9 91 L314.1 91.2 L314.4 91.4 L314.6 91.6 L314.8 91.8 L315 91.9 L315.2 92.1 L315.5 92.4 L315.7 92.6 L315.9 92.9 L316.1 93.2 L316.3 93.5 L316.6 93.8 L316.8 94.1 L317 94.4" fill="none" stroke="#0c0cb4" stroke-width="4.8" stroke-linecap="round"/>
<path d="M299.9 85.6 L300.1 85.6 L300.3 85.6 L300.6 85.6 L300.8 85.6 L301 85.6 L301.2 85.6 L301.4 85.7 L301.7 85.7 L301.9 85.7 L302.1 85.7 L302.3 85.8 L302.5 85.8 L302.8 85.8 L303 85.9 L303.2 85.9 L303.4 85.9 L303.6 86 L303.8 86 L304.1 86.1 L304.3 86.1 L304.5 86.2 L304.7 86.2 L304.9 86.3 L305.2 86.4 L305.4 86.4 L305.6 86.5 L305.8 86.6 L306 86.6 L306.3 86.7 L306.5 86.8 L306.7 86.9 L306.9 87 L307.1 87 L307.4 87.1 L307.6 87.2 L307.8 87.3 L308 87.4 L308.2 87.5 L308.4 87.6 L308.7 87.7 L308.9 87.8 L309.1 87.9 L309.3 88 L309.5 88.2 L309.8 88.3 L310 88.4 L310.2 88.5 L310.4 88.6 L310.6 88.8 L310.9 88.9 L311.1 89 L311.3 89.2 L311.5 89.3 L311.7 89.4 L312 89.6 L312.2 89.7 L312.4 89.9 L312.6 90 L312.8 90.2 L313.1 90.4 L313.3 90.5 L313.5 90.7 L313.7 90.9 L313.9 91 L314.1 91.2 L314.4 91.4 L314.6 91.6 L314.8 91.8 L315 91.9 L315.2 92.1 L315.5 92.4 L315.7 92.6 L315.9 92.9 L316.1 93.2 L316.3 93.5 L316.6 93.8 L316.8 94.1 L317 94.4" fill="none" stroke="#1d1de0" stroke-width="3.6" stroke-linecap="round"/>
<g fill="#1f1fe4" stroke="#0a0a9a" stroke-width="0.45"><circle cx="300.3" cy="85.6" r="2.2"/><circle cx="302.9" cy="85.9" r="2.2"/><circle cx="305.6" cy="86.5" r="2.2"/><circle cx="308.2" cy="87.5" r="2.2"/><circle cx="310.9" cy="88.9" r="2.2"/><circle cx="313.5" cy="90.7" r="2.2"/><circle cx="316.2" cy="93.3" r="2.2"/></g>
<g fill="#dc1c50"><circle cx="300.3" cy="85.6" r="1.2"/><circle cx="302.9" cy="85.9" r="1.2"/><circle cx="305.6" cy="86.5" r="1.2"/><circle cx="308.2" cy="87.5" r="1.2"/><circle cx="310.9" cy="88.9" r="1.2"/><circle cx="313.5" cy="90.7" r="1.2"/><circle cx="316.2" cy="93.3" r="1.2"/></g>
<path d="M317 94.4 L317.4 93.9 L317.9 93.4 L318.3 92.8 L318.8 92.3 L319.2 91.8 L319.6 91.4 L320.1 91 L320.5 90.6 L321 90.3 L321.4 90 L321.9 89.7 L322.3 89.4 L322.7 89.2 L323.2 88.9 L323.6 88.6 L324.1 88.4 L324.5 88.2 L324.9 87.9 L325.4 87.7 L325.8 87.5 L326.3 87.3 L326.7 87.1 L327.1 87 L327.6 86.8 L328 86.6 L328.5 86.5 L328.9 86.4 L329.3 86.2 L329.8 86.1 L330.2 86 L330.7 85.9 L331.1 85.9 L331.6 85.8 L332 85.7 L332.4 85.7 L332.9 85.6 L333.3 85.6 L333.8 85.6 L334.2 85.6 L334.6 85.6 L335.1 85.6 L335.5 85.6 L336 85.7 L336.4 85.7 L336.8 85.8 L337.3 85.9 L337.7 85.9 L338.2 86 L338.6 86.1 L339.1 86.2 L339.5 86.4 L339.9 86.5 L340.4 86.6 L340.8 86.8 L341.3 87 L341.7 87.1 L342.1 87.3 L342.6 87.5 L343 87.7 L343.5 87.9 L343.9 88.2 L344.3 88.4 L344.8 88.6 L345.2 88.9 L345.7 89.2 L346.1 89.4 L346.5 89.7 L347 90 L347.4 90.3 L347.9 90.6 L348.3 91 L348.8 91.4 L349.2 91.8 L349.6 92.3 L350.1 92.8 L350.5 93.4 L351 93.9 L351.4 94.4" fill="none" stroke="#0c0cb4" stroke-width="4.8" stroke-linecap="round"/>
<path d="M317 94.4 L317.4 93.9 L317.9 93.4 L318.3 92.8 L318.8 92.3 L319.2 91.8 L319.6 91.4 L320.1 91 L320.5 90.6 L321 90.3 L321.4 90 L321.9 89.7 L322.3 89.4 L322.7 89.2 L323.2 88.9 L323.6 88.6 L324.1 88.4 L324.5 88.2 L324.9 87.9 L325.4 87.7 L325.8 87.5 L326.3 87.3 L326.7 87.1 L327.1 87 L327.6 86.8 L328 86.6 L328.5 86.5 L328.9 86.4 L329.3 86.2 L329.8 86.1 L330.2 86 L330.7 85.9 L331.1 85.9 L331.6 85.8 L332 85.7 L332.4 85.7 L332.9 85.6 L333.3 85.6 L333.8 85.6 L334.2 85.6 L334.6 85.6 L335.1 85.6 L335.5 85.6 L336 85.7 L336.4 85.7 L336.8 85.8 L337.3 85.9 L337.7 85.9 L338.2 86 L338.6 86.1 L339.1 86.2 L339.5 86.4 L339.9 86.5 L340.4 86.6 L340.8 86.8 L341.3 87 L341.7 87.1 L342.1 87.3 L342.6 87.5 L343 87.7 L343.5 87.9 L343.9 88.2 L344.3 88.4 L344.8 88.6 L345.2 88.9 L345.7 89.2 L346.1 89.4 L346.5 89.7 L347 90 L347.4 90.3 L347.9 90.6 L348.3 91 L348.8 91.4 L349.2 91.8 L349.6 92.3 L350.1 92.8 L350.5 93.4 L351 93.9 L351.4 94.4" fill="none" stroke="#1d1de0" stroke-width="3.6" stroke-linecap="round"/>
<g fill="#1f1fe4" stroke="#0a0a9a" stroke-width="0.45"><circle cx="318.9" cy="92.2" r="2.2"/><circle cx="321.5" cy="90" r="2.2"/><circle cx="324.1" cy="88.3" r="2.2"/><circle cx="326.8" cy="87.1" r="2.2"/><circle cx="329.4" cy="86.2" r="2.2"/><circle cx="332.1" cy="85.7" r="2.2"/><circle cx="334.7" cy="85.6" r="2.2"/><circle cx="337.4" cy="85.9" r="2.2"/><circle cx="340" cy="86.5" r="2.2"/><circle cx="342.7" cy="87.6" r="2.2"/><circle cx="345.3" cy="89" r="2.2"/><circle cx="348" cy="90.7" r="2.2"/><circle cx="350.6" cy="93.5" r="2.2"/></g>
<g fill="#dc1c50"><circle cx="318.9" cy="92.2" r="1.2"/><circle cx="321.5" cy="90" r="1.2"/><circle cx="324.1" cy="88.3" r="1.2"/><circle cx="326.8" cy="87.1" r="1.2"/><circle cx="329.4" cy="86.2" r="1.2"/><circle cx="332.1" cy="85.7" r="1.2"/><circle cx="334.7" cy="85.6" r="1.2"/><circle cx="337.4" cy="85.9" r="1.2"/><circle cx="340" cy="86.5" r="1.2"/><circle cx="342.7" cy="87.6" r="1.2"/><circle cx="345.3" cy="89" r="1.2"/><circle cx="348" cy="90.7" r="1.2"/><circle cx="350.6" cy="93.5" r="1.2"/></g>
<path d="M351.4 94.4 L351.9 93.9 L352.4 93.4 L352.9 92.8 L353.4 92.3 L353.8 91.8 L354.3 91.4 L354.8 91 L355.3 90.6 L355.8 90.3 L356.3 90 L356.8 89.7 L357.3 89.4 L357.8 89.2 L358.3 88.9 L358.7 88.6 L359.2 88.4 L359.7 88.2 L360.2 87.9 L360.7 87.7 L361.2 87.5 L361.7 87.3 L362.2 87.1 L362.7 87 L363.2 86.8 L363.6 86.6 L364.1 86.5 L364.6 86.4 L365.1 86.2 L365.6 86.1 L366.1 86 L366.6 85.9 L367.1 85.9 L367.6 85.8 L368.1 85.7 L368.5 85.7 L369 85.6 L369.5 85.6 L370 85.6 L370.5 85.6 L371 85.6 L371.5 85.6 L372 85.6 L372.5 85.7 L372.9 85.7 L373.4 85.8 L373.9 85.9 L374.4 85.9 L374.9 86 L375.4 86.1 L375.9 86.2 L376.4 86.4 L376.9 86.5 L377.4 86.6 L377.8 86.8 L378.3 87 L378.8 87.1 L379.3 87.3 L379.8 87.5 L380.3 87.7 L380.8 87.9 L381.3 88.2 L381.8 88.4 L382.3 88.6 L382.7 88.9 L383.2 89.2 L383.7 89.4 L384.2 89.7 L384.7 90 L385.2 90.3 L385.7 90.6 L386.2 91 L386.7 91.4 L387.2 91.8 L387.6 92.3 L388.1 92.8 L388.6 93.4 L389.1 93.9 L389.6 94.4" fill="none" stroke="#0c0cb4" stroke-width="4.8" stroke-linecap="round"/>
<path d="M351.4 94.4 L351.9 93.9 L352.4 93.4 L352.9 92.8 L353.4 92.3 L353.8 91.8 L354.3 91.4 L354.8 91 L355.3 90.6 L355.8 90.3 L356.3 90 L356.8 89.7 L357.3 89.4 L357.8 89.2 L358.3 88.9 L358.7 88.6 L359.2 88.4 L359.7 88.2 L360.2 87.9 L360.7 87.7 L361.2 87.5 L361.7 87.3 L362.2 87.1 L362.7 87 L363.2 86.8 L363.6 86.6 L364.1 86.5 L364.6 86.4 L365.1 86.2 L365.6 86.1 L366.1 86 L366.6 85.9 L367.1 85.9 L367.6 85.8 L368.1 85.7 L368.5 85.7 L369 85.6 L369.5 85.6 L370 85.6 L370.5 85.6 L371 85.6 L371.5 85.6 L372 85.6 L372.5 85.7 L372.9 85.7 L373.4 85.8 L373.9 85.9 L374.4 85.9 L374.9 86 L375.4 86.1 L375.9 86.2 L376.4 86.4 L376.9 86.5 L377.4 86.6 L377.8 86.8 L378.3 87 L378.8 87.1 L379.3 87.3 L379.8 87.5 L380.3 87.7 L380.8 87.9 L381.3 88.2 L381.8 88.4 L382.3 88.6 L382.7 88.9 L383.2 89.2 L383.7 89.4 L384.2 89.7 L384.7 90 L385.2 90.3 L385.7 90.6 L386.2 91 L386.7 91.4 L387.2 91.8 L387.6 92.3 L388.1 92.8 L388.6 93.4 L389.1 93.9 L389.6 94.4" fill="none" stroke="#1d1de0" stroke-width="3.6" stroke-linecap="round"/>
<g fill="#1f1fe4" stroke="#0a0a9a" stroke-width="0.45"><circle cx="353.3" cy="92.4" r="2.2"/><circle cx="355.9" cy="90.2" r="2.2"/><circle cx="358.6" cy="88.7" r="2.2"/><circle cx="361.2" cy="87.5" r="2.2"/><circle cx="363.9" cy="86.6" r="2.2"/><circle cx="366.5" cy="85.9" r="2.2"/><circle cx="369.2" cy="85.6" r="2.2"/><circle cx="371.8" cy="85.6" r="2.2"/><circle cx="374.5" cy="86" r="2.2"/><circle cx="377.1" cy="86.6" r="2.2"/><circle cx="379.8" cy="87.5" r="2.2"/><circle cx="382.4" cy="88.7" r="2.2"/><circle cx="385.1" cy="90.3" r="2.2"/><circle cx="387.7" cy="92.4" r="2.2"/></g>
<g fill="#dc1c50"><circle cx="353.3" cy="92.4" r="1.2"/><circle cx="355.9" cy="90.2" r="1.2"/><circle cx="358.6" cy="88.7" r="1.2"/><circle cx="361.2" cy="87.5" r="1.2"/><circle cx="363.9" cy="86.6" r="1.2"/><circle cx="366.5" cy="85.9" r="1.2"/><circle cx="369.2" cy="85.6" r="1.2"/><circle cx="371.8" cy="85.6" r="1.2"/><circle cx="374.5" cy="86" r="1.2"/><circle cx="377.1" cy="86.6" r="1.2"/><circle cx="379.8" cy="87.5" r="1.2"/><circle cx="382.4" cy="88.7" r="1.2"/><circle cx="385.1" cy="90.3" r="1.2"/><circle cx="387.7" cy="92.4" r="1.2"/></g>
<path d="M389.6 94.4 L389.8 94.1 L390 93.8 L390.1 93.5 L390.3 93.2 L390.5 92.9 L390.7 92.6 L390.9 92.4 L391.1 92.1 L391.2 91.9 L391.4 91.8 L391.6 91.6 L391.8 91.4 L392 91.2 L392.1 91 L392.3 90.9 L392.5 90.7 L392.7 90.5 L392.9 90.4 L393.1 90.2 L393.2 90 L393.4 89.9 L393.6 89.7 L393.8 89.6 L394 89.4 L394.2 89.3 L394.3 89.2 L394.5 89 L394.7 88.9 L394.9 88.8 L395.1 88.6 L395.2 88.5 L395.4 88.4 L395.6 88.3 L395.8 88.2 L396 88 L396.2 87.9 L396.3 87.8 L396.5 87.7 L396.7 87.6 L396.9 87.5 L397.1 87.4 L397.2 87.3 L397.4 87.2 L397.6 87.1 L397.8 87 L398 87 L398.2 86.9 L398.3 86.8 L398.5 86.7 L398.7 86.6 L398.9 86.6 L399.1 86.5 L399.2 86.4 L399.4 86.4 L399.6 86.3 L399.8 86.2 L400 86.2 L400.2 86.1 L400.3 86.1 L400.5 86 L400.7 86 L400.9 85.9 L401.1 85.9 L401.3 85.9 L401.4 85.8 L401.6 85.8 L401.8 85.8 L402 85.7 L402.2 85.7 L402.3 85.7 L402.5 85.7 L402.7 85.6 L402.9 85.6 L403.1 85.6 L403.3 85.6 L403.4 85.6 L403.6 85.6 L403.8 85.6" fill="none" stroke="#0c0cb4" stroke-width="4.8" stroke-linecap="round"/>
<path d="M389.6 94.4 L389.8 94.1 L390 93.8 L390.1 93.5 L390.3 93.2 L390.5 92.9 L390.7 92.6 L390.9 92.4 L391.1 92.1 L391.2 91.9 L391.4 91.8 L391.6 91.6 L391.8 91.4 L392 91.2 L392.1 91 L392.3 90.9 L392.5 90.7 L392.7 90.5 L392.9 90.4 L393.1 90.2 L393.2 90 L393.4 89.9 L393.6 89.7 L393.8 89.6 L394 89.4 L394.2 89.3 L394.3 89.2 L394.5 89 L394.7 88.9 L394.9 88.8 L395.1 88.6 L395.2 88.5 L395.4 88.4 L395.6 88.3 L395.8 88.2 L396 88 L396.2 87.9 L396.3 87.8 L396.5 87.7 L396.7 87.6 L396.9 87.5 L397.1 87.4 L397.2 87.3 L397.4 87.2 L397.6 87.1 L397.8 87 L398 87 L398.2 86.9 L398.3 86.8 L398.5 86.7 L398.7 86.6 L398.9 86.6 L399.1 86.5 L399.2 86.4 L399.4 86.4 L399.6 86.3 L399.8 86.2 L400 86.2 L400.2 86.1 L400.3 86.1 L400.5 86 L400.7 86 L400.9 85.9 L401.1 85.9 L401.3 85.9 L401.4 85.8 L401.6 85.8 L401.8 85.8 L402 85.7 L402.2 85.7 L402.3 85.7 L402.5 85.7 L402.7 85.6 L402.9 85.6 L403.1 85.6 L403.3 85.6 L403.4 85.6 L403.6 85.6 L403.8 85.6" fill="none" stroke="#1d1de0" stroke-width="3.6" stroke-linecap="round"/>
<g fill="#1f1fe4" stroke="#0a0a9a" stroke-width="0.45"><circle cx="390.4" cy="93" r="2.2"/><circle cx="393" cy="90.2" r="2.2"/><circle cx="395.7" cy="88.2" r="2.2"/><circle cx="398.3" cy="86.8" r="2.2"/><circle cx="401" cy="85.9" r="2.2"/><circle cx="403.6" cy="85.6" r="2.2"/></g>
<g fill="#dc1c50"><circle cx="390.4" cy="93" r="1.2"/><circle cx="393" cy="90.2" r="1.2"/><circle cx="395.7" cy="88.2" r="1.2"/><circle cx="398.3" cy="86.8" r="1.2"/><circle cx="401" cy="85.9" r="1.2"/><circle cx="403.6" cy="85.6" r="1.2"/></g>
<path d="M404.2 94.4 L404.8 93.9 L405.4 93.4 L406 92.8 L406.6 92.3 L407.2 91.8 L407.8 91.4 L408.5 91 L409.1 90.6 L409.7 90.3 L410.3 90 L410.9 89.7 L411.5 89.4 L412.1 89.2 L412.7 88.9 L413.3 88.6 L413.9 88.4 L414.5 88.2 L415.1 87.9 L415.7 87.7 L416.4 87.5 L417 87.3 L417.6 87.1 L418.2 87 L418.8 86.8 L419.4 86.6 L420 86.5 L420.6 86.4 L421.2 86.2 L421.8 86.1 L422.4 86 L423 85.9 L423.6 85.9 L424.3 85.8 L424.9 85.7 L425.5 85.7 L426.1 85.6 L426.7 85.6 L427.3 85.6 L427.9 85.6 L428.5 85.6 L429.1 85.6 L429.7 85.6 L430.3 85.7 L430.9 85.7 L431.5 85.8 L432.2 85.9 L432.8 85.9 L433.4 86 L434 86.1 L434.6 86.2 L435.2 86.4 L435.8 86.5 L436.4 86.6 L437 86.8 L437.6 87 L438.2 87.1 L438.8 87.3 L439.4 87.5 L440.1 87.7 L440.7 87.9 L441.3 88.2 L441.9 88.4 L442.5 88.6 L443.1 88.9 L443.7 89.2 L444.3 89.4 L444.9 89.7 L445.5 90 L446.1 90.3 L446.7 90.6 L447.3 91 L448 91.4 L448.6 91.8 L449.2 92.3 L449.8 92.8 L450.4 93.4 L451 93.9 L451.6 94.4" fill="none" stroke="#0c0cb4" stroke-width="4.8" stroke-linecap="round"/>
<path d="M404.2 94.4 L404.8 93.9 L405.4 93.4 L406 92.8 L406.6 92.3 L407.2 91.8 L407.8 91.4 L408.5 91 L409.1 90.6 L409.7 90.3 L410.3 90 L410.9 89.7 L411.5 89.4 L412.1 89.2 L412.7 88.9 L413.3 88.6 L413.9 88.4 L414.5 88.2 L415.1 87.9 L415.7 87.7 L416.4 87.5 L417 87.3 L417.6 87.1 L418.2 87 L418.8 86.8 L419.4 86.6 L420 86.5 L420.6 86.4 L421.2 86.2 L421.8 86.1 L422.4 86 L423 85.9 L423.6 85.9 L424.3 85.8 L424.9 85.7 L425.5 85.7 L426.1 85.6 L426.7 85.6 L427.3 85.6 L427.9 85.6 L428.5 85.6 L429.1 85.6 L429.7 85.6 L430.3 85.7 L430.9 85.7 L431.5 85.8 L432.2 85.9 L432.8 85.9 L433.4 86 L434 86.1 L434.6 86.2 L435.2 86.4 L435.8 86.5 L436.4 86.6 L437 86.8 L437.6 87 L438.2 87.1 L438.8 87.3 L439.4 87.5 L440.1 87.7 L440.7 87.9 L441.3 88.2 L441.9 88.4 L442.5 88.6 L443.1 88.9 L443.7 89.2 L444.3 89.4 L444.9 89.7 L445.5 90 L446.1 90.3 L446.7 90.6 L447.3 91 L448 91.4 L448.6 91.8 L449.2 92.3 L449.8 92.8 L450.4 93.4 L451 93.9 L451.6 94.4" fill="none" stroke="#1d1de0" stroke-width="3.6" stroke-linecap="round"/>
<g fill="#1f1fe4" stroke="#0a0a9a" stroke-width="0.45"><circle cx="406.3" cy="92.6" r="2.2"/><circle cx="408.9" cy="90.7" r="2.2"/><circle cx="411.6" cy="89.4" r="2.2"/><circle cx="414.2" cy="88.3" r="2.2"/><circle cx="416.9" cy="87.3" r="2.2"/><circle cx="419.5" cy="86.6" r="2.2"/><circle cx="422.2" cy="86.1" r="2.2"/><circle cx="424.8" cy="85.7" r="2.2"/><circle cx="427.5" cy="85.6" r="2.2"/><circle cx="430.1" cy="85.7" r="2.2"/><circle cx="432.8" cy="85.9" r="2.2"/><circle cx="435.4" cy="86.4" r="2.2"/><circle cx="438.1" cy="87.1" r="2.2"/><circle cx="440.7" cy="88" r="2.2"/><circle cx="443.4" cy="89" r="2.2"/><circle cx="446" cy="90.3" r="2.2"/><circle cx="448.7" cy="91.9" r="2.2"/><circle cx="451.3" cy="94.2" r="2.2"/></g>
<g fill="#dc1c50"><circle cx="406.3" cy="92.6" r="1.2"/><circle cx="408.9" cy="90.7" r="1.2"/><circle cx="411.6" cy="89.4" r="1.2"/><circle cx="414.2" cy="88.3" r="1.2"/><circle cx="416.9" cy="87.3" r="1.2"/><circle cx="419.5" cy="86.6" r="1.2"/><circle cx="422.2" cy="86.1" r="1.2"/><circle cx="424.8" cy="85.7" r="1.2"/><circle cx="427.5" cy="85.6" r="1.2"/><circle cx="430.1" cy="85.7" r="1.2"/><circle cx="432.8" cy="85.9" r="1.2"/><circle cx="435.4" cy="86.4" r="1.2"/><circle cx="438.1" cy="87.1" r="1.2"/><circle cx="440.7" cy="88" r="1.2"/><circle cx="443.4" cy="89" r="1.2"/><circle cx="446" cy="90.3" r="1.2"/><circle cx="448.7" cy="91.9" r="1.2"/><circle cx="451.3" cy="94.2" r="1.2"/></g>
<g fill="none" stroke="#ecc4c4" stroke-width="0.45">
<path d="M300.2 52.2 L301 51.9 L301.8 51.6 L302.5 51.3 L303.3 51 L304 50.6 L304.7 50.2 L305.3 49.7 L305.8 49.2 L306.2 48.6 L306.7 48 L307.1 47.4 L307.6 46.8 L308.1 46.2 L308.6 45.5 L309 44.8 L309.5 44.1 L310 43.3 L310.5 42.6 L311 41.8 L311.5 41.1 L312 40.3 L312.5 39.5 L313 38.7 L313.5 37.9 L314 37.1 L314.5 36.3 L315 35.5 L315.4 34.7 L315.9 33.8 L316.4 33 L316.9 32.1 L317.4 31.2 L317.9 30.3 L318.4 29.5 L318.8 28.6 L319.3 27.7 L319.7 26.9 L320.2 26 L320.6 25.2 L321 24.4 L321.4 23.6 L321.8 22.8 L322.2 22 L322.7 21.2 L323.1 20.5 L323.6 19.7 L324 19 L324.4 18.3 L324.8 17.6 L325.2 16.9 L325.5 16.3 L325.9 15.7 L326.2 15.1 L326.6 14.6 L327 14.2 L327.4 13.8 L327.8 13.5 L328.1 13.2 L328.6 12.9 L329 12.7 L329.4 12.5 L329.9 12.3 L330.3 12.2 L330.8 12.1 L331.3 11.9 L332 11.8 L332.8 11.6 L333.8 11.5 L334.8 11.3 L335.8 11.1 L336.8 11 L337.7 10.9 L338.5 10.9 L339.2 10.9 L340 11 L340.6 11.1 L341.3 11.2 L342 11.3 L342.7 11.4 L343.3 11.6 L343.9 11.7 L344.6 11.9 L345.3 12.1 L346 12.3 L346.8 12.5 L347.7 12.7 L348.5 12.9 L349.5 13.2 L350.4 13.5 L351.3 13.9 L352.2 14.3 L353.1 14.8 L354 15.3 L355 16 L355.9 16.7 L357 17.5 L358.2 18.5 L359.4 19.7 L360.7 21.1 L362 22.4 L363.3 23.7 L364.4 24.8 L365.5 25.8 L366.5 26.8 L367.5 27.7 L368.4 28.5 L369.2 29.3 L370 30 L370.7 30.6 L371.2 31.2 L371.7 31.7 L372.2 32.2 L372.6 32.6 L373.1 33.1 L373.6 33.5 L374.1 34 L374.7 34.4 L375.2 34.7 L375.7 35.1 L376.2 35.5 L376.7 35.9 L377.2 36.3 L377.7 36.7 L378.2 37.1 L378.7 37.5 L379.3 37.8 L379.9 38.1 L380.5 38.4 L381.2 38.7 L381.9 39 L382.5 39.2 L383.1 39.3 L383.7 39.3 L384.2 39.3 L384.7 39.1 L385.2 39 L385.7 38.7 L386.2 38.5 L386.7 38.2 L387.2 38 L387.8 37.6 L388.3 37.3 L388.8 36.8 L389.3 36.2 L389.8 35.5 L390.3 34.6 L390.9 33.7 L391.4 32.7 L391.9 31.7 L392.4 30.8 L392.9 29.9 L393.4 29 L393.9 28.1 L394.5 27.2 L395 26.3 L395.5 25.4 L396 24.5 L396.6 23.6 L397.1 22.6 L397.6 21.7 L398.1 20.9 L398.6 20 L399 19.2 L399.4 18.3 L399.8 17.5 L400.1 16.7 L400.5 16 L400.9 15.4 L401.3 14.9 L401.7 14.5 L402.1 14.1 L402.6 13.8 L403 13.5 L403.4 13.2"/>
<path d="M300 12.7 L301.7 12.7 L303.3 12.7 L305 12.7 L306.7 12.7 L308.3 12.7 L310 12.7 L311.7 12.7 L313.4 12.7 L315.2 12.7 L316.9 12.7 L318.5 12.7 L320 12.7 L321.4 12.7 L322.6 12.7 L323.8 12.7 L324.9 12.7 L325.9 12.7 L327 12.7 L328.1 12.7 L329.1 12.6 L330.1 12.5 L331.1 12.4 L332.1 12.4 L333 12.3 L333.9 12.3 L334.7 12.2 L335.5 12.2 L336.3 12.2 L337 12.2 L337.7 12.2 L338.3 12.3 L338.9 12.4 L339.4 12.5 L339.9 12.7 L340.4 12.8 L341 13 L341.6 13.2 L342.3 13.4 L343 13.6 L343.7 13.9 L344.4 14.1 L345 14.2 L345.6 14.3 L346.1 14.4 L346.5 14.4 L347 14.4 L347.5 14.4 L348 14.4 L348.5 14.4 L349 14.4 L349.5 14.4 L350.1 14.3 L350.7 14.2 L351.3 13.9 L352 13.5 L352.7 13 L353.5 12.4 L354.3 11.8 L355.2 11.1 L356 10.5 L356.9 9.8 L357.9 9.1 L358.9 8.4 L359.9 7.7 L360.8 7.1 L361.5 6.6 L362 6.3 L362.4 6.1 L362.7 6 L363 6 L363.2 6 L363.5 5.9"/>
<path d="M366 6.5 L366.7 7.1 L367.4 7.6 L368.1 8.2 L368.7 8.8 L369.4 9.4 L370 10 L370.6 10.7 L371.1 11.5 L371.6 12.2 L372.1 13 L372.6 13.8 L373.1 14.6 L373.6 15.4 L374.1 16.2 L374.7 16.9 L375.2 17.7 L375.7 18.5 L376.2 19.2 L376.7 19.9 L377.2 20.5 L377.8 21.1 L378.3 21.8 L378.8 22.4 L379.3 23.1 L379.8 23.8 L380.3 24.6 L380.9 25.4 L381.4 26.1 L381.9 26.9 L382.4 27.7 L382.9 28.5 L383.4 29.3 L383.9 30.1 L384.4 30.9 L384.9 31.7 L385.5 32.4 L386.1 33.1 L386.7 33.7 L387.4 34.3 L388.1 34.9 L388.7 35.5 L389.3 36.2 L389.9 36.9 L390.4 37.7 L390.9 38.5 L391.4 39.3 L391.9 40.1 L392.4 40.9 L392.9 41.7 L393.4 42.4 L393.9 43.2 L394.4 44 L394.9 44.7 L395.5 45.5 L396.1 46.3 L396.7 47.1 L397.4 48 L398.1 48.8 L398.7 49.5 L399.4 50.1 L400.1 50.6 L400.7 51 L401.4 51.3 L402.1 51.5 L402.7 51.8 L403.4 52.1"/>
<path d="M300.2 7.4 L303.5 6"/>
<path d="M332.5 6 L333 6.1 L333.4 6.3 L333.8 6.5 L334.3 6.6 L334.8 6.7 L335.3 6.8 L335.9 6.9 L336.5 6.9 L337.1 6.9 L337.8 6.9 L338.4 6.9 L339 6.8 L339.5 6.7 L340.1 6.6 L340.5 6.4 L341 6.3 L341.5 6.1 L342 6"/>
<path d="M399 12 L399.3 11.6 L399.7 11.2 L400 10.8 L400.3 10.3 L400.7 9.9 L401 9.5 L401.4 9.1 L401.7 8.7 L402.1 8.2 L402.5 7.8 L402.8 7.4 L403.2 7"/>
<path d="M400.5 6 L401 6.1 L401.5 6.3 L401.9 6.5 L402.4 6.6 L402.9 6.7 L403.4 6.8 L403.9 6.8 L404.4 6.8 L405 6.8 L405.5 6.7 L406 6.7 L406.5 6.6 L407 6.5 L407.4 6.4 L407.8 6.3 L408.2 6.2 L408.6 6 L409 5.9"/>
<path d="M419.5 5.9 L420.1 6.1 L420.6 6.2 L421.2 6.4 L421.8 6.5 L422.4 6.7 L423 6.8 L423.6 6.9 L424.3 7 L425 7.1 L425.6 7.1 L426.3 7.2 L427 7.2 L427.7 7.2 L428.3 7.2 L429 7.1 L429.7 7.1 L430.3 7 L431 6.9 L431.7 6.8 L432.3 6.6 L433 6.5 L433.7 6.3 L434.3 6.2 L435 6"/>
<path d="M405.5 7.6 L406.3 8 L407.1 8.4 L407.9 8.9 L408.6 9.3 L409.4 9.7 L410.2 10 L411 10.3 L411.7 10.6 L412.5 10.8 L413.3 11.1 L414 11.3 L414.8 11.5 L415.6 11.7 L416.4 11.8 L417.2 12 L417.9 12.1 L418.7 12.2 L419.5 12.3 L420.3 12.4 L421 12.4 L421.7 12.4 L422.5 12.4 L423.2 12.4 L424 12.3 L424.8 12.2 L425.6 12.1 L426.5 12 L427.3 11.8 L428.2 11.7 L429 11.5 L429.8 11.4 L430.6 11.2 L431.4 11 L432.3 10.9 L433.1 10.7 L434 10.5 L434.9 10.3 L435.9 10 L436.9 9.8 L438 9.5 L439 9.3 L440 9 L441 8.7 L442 8.5 L443 8.2 L444 8 L445 7.7 L446 7.5 L446.9 7.3 L447.9 7.1 L448.8 6.9 L449.7 6.8 L450.6 6.6 L451.5 6.4"/>
<path d="M403.8 19.2 L404.2 19.8 L404.6 20.5 L405.1 21.1 L405.5 21.7 L405.9 22.4 L406.3 23.1 L406.7 23.8 L407.1 24.6 L407.4 25.3 L407.8 26.1 L408.2 26.9 L408.6 27.7 L409.1 28.6 L409.6 29.4 L410.1 30.3 L410.6 31.3 L411.2 32.2 L411.7 33.1 L412.2 34 L412.7 34.9 L413.2 35.8 L413.8 36.7 L414.3 37.6 L414.8 38.5 L415.3 39.4 L415.8 40.4 L416.3 41.3 L416.8 42.2 L417.3 43.1 L417.9 44 L418.5 44.8 L419.1 45.6 L419.7 46.4 L420.3 47.2 L421 47.9 L421.8 48.6 L422.7 49.3 L423.7 50.1 L424.8 50.8 L425.9 51.4 L427 51.9 L428 52.1 L429 52.1 L429.9 51.8 L430.8 51.4 L431.7 50.8 L432.6 50.2 L433.4 49.4 L434.2 48.5 L435 47.4 L435.8 46.1 L436.6 44.8 L437.3 43.6 L438 42.4 L438.6 41.3 L439.1 40.2 L439.6 39.1 L440.1 38.1 L440.6 37.1 L441.1 36.2 L441.6 35.4 L442.1 34.7 L442.6 34 L443.1 33.4 L443.6 32.6 L444.2 31.6 L444.8 30.4 L445.4 29 L446.1 27.4 L446.7 25.9 L447.4 24.4 L448 23.1 L448.6 21.9 L449.2 20.9 L449.8 19.9 L450.3 18.9 L450.9 18 L451.5 17"/>
</g>
<g fill="#74ecea">
<circle cx="340" cy="11" r="2.0"/>
<circle cx="342.7" cy="11.4" r="2.0"/>
<circle cx="345.3" cy="12.1" r="2.0"/>
<circle cx="348" cy="12.8" r="2.0"/>
<circle cx="350.6" cy="13.6" r="2.0"/>
<circle cx="353.3" cy="14.9" r="2.0"/>
<circle cx="355.9" cy="16.7" r="2.0"/>
<circle cx="358.6" cy="18.9" r="2.0"/>
<circle cx="361.2" cy="21.6" r="2.0"/>
<circle cx="340" cy="12.7" r="2.0"/>
<circle cx="342.7" cy="13.5" r="2.0"/>
<circle cx="345.3" cy="14.3" r="2.0"/>
<circle cx="348" cy="14.4" r="2.0"/>
<circle cx="350.6" cy="14.2" r="2.0"/>
<circle cx="353.3" cy="12.6" r="2.0"/>
<circle cx="355.9" cy="10.5" r="2.0"/>
</g>
<g fill="#b3121d" stroke="#8c0c14" stroke-width="0.35">
<circle cx="300.3" cy="52.2" r="1.05"/>
<circle cx="302.9" cy="51.1" r="1.05"/>
<circle cx="305.6" cy="49.4" r="1.05"/>
<circle cx="308.2" cy="45.9" r="1.05"/>
<circle cx="310.9" cy="42" r="1.05"/>
<circle cx="313.5" cy="37.8" r="1.05"/>
<circle cx="316.2" cy="33.4" r="1.05"/>
<circle cx="318.8" cy="28.5" r="1.05"/>
<circle cx="321.5" cy="23.4" r="1.05"/>
<circle cx="324.1" cy="18.7" r="1.05"/>
<circle cx="326.8" cy="14.4" r="1.05"/>
<circle cx="329.4" cy="12.5" r="1.05"/>
<circle cx="332.1" cy="11.8" r="1.05"/>
<circle cx="334.7" cy="11.3" r="1.05"/>
<circle cx="337.4" cy="10.9" r="1.05"/>
<circle cx="363.9" cy="24.3" r="1.05"/>
<circle cx="366.5" cy="26.8" r="1.05"/>
<circle cx="369.2" cy="29.2" r="1.05"/>
<circle cx="371.8" cy="31.9" r="1.05"/>
<circle cx="374.5" cy="34.2" r="1.05"/>
<circle cx="377.1" cy="36.3" r="1.05"/>
<circle cx="379.8" cy="38.1" r="1.05"/>
<circle cx="382.4" cy="39.2" r="1.05"/>
<circle cx="385.1" cy="39" r="1.05"/>
<circle cx="387.7" cy="37.6" r="1.05"/>
<circle cx="390.4" cy="34.5" r="1.05"/>
<circle cx="393" cy="29.7" r="1.05"/>
<circle cx="395.7" cy="25.1" r="1.05"/>
<circle cx="398.3" cy="20.5" r="1.05"/>
<circle cx="401" cy="15.3" r="1.05"/>
<circle cx="403.4" cy="13.2" r="1.05"/>
<circle cx="300.3" cy="12.7" r="1.05"/>
<circle cx="302.9" cy="12.7" r="1.05"/>
<circle cx="305.6" cy="12.7" r="1.05"/>
<circle cx="308.2" cy="12.7" r="1.05"/>
<circle cx="310.9" cy="12.7" r="1.05"/>
<circle cx="313.5" cy="12.7" r="1.05"/>
<circle cx="316.2" cy="12.7" r="1.05"/>
<circle cx="318.8" cy="12.7" r="1.05"/>
<circle cx="321.5" cy="12.7" r="1.05"/>
<circle cx="324.1" cy="12.7" r="1.05"/>
<circle cx="326.8" cy="12.7" r="1.05"/>
<circle cx="329.4" cy="12.6" r="1.05"/>
<circle cx="332.1" cy="12.4" r="1.05"/>
<circle cx="334.7" cy="12.2" r="1.05"/>
<circle cx="337.4" cy="12.2" r="1.05"/>
<circle cx="358.6" cy="8.6" r="1.05"/>
<circle cx="361.2" cy="6.8" r="1.05"/>
<circle cx="366.6" cy="7" r="1.05"/>
<circle cx="369.2" cy="9.2" r="1.05"/>
<circle cx="371.8" cy="12.6" r="1.05"/>
<circle cx="374.5" cy="16.7" r="1.05"/>
<circle cx="377.1" cy="20.4" r="1.05"/>
<circle cx="379.8" cy="23.8" r="1.05"/>
<circle cx="382.4" cy="27.8" r="1.05"/>
<circle cx="385.1" cy="31.9" r="1.05"/>
<circle cx="387.7" cy="34.6" r="1.05"/>
<circle cx="390.4" cy="37.7" r="1.05"/>
<circle cx="393" cy="41.9" r="1.05"/>
<circle cx="395.7" cy="45.8" r="1.05"/>
<circle cx="398.3" cy="49.1" r="1.05"/>
<circle cx="401" cy="51.1" r="1.05"/>
<circle cx="403.4" cy="52.1" r="1.05"/>
<circle cx="300.3" cy="7.4" r="1.05"/>
<circle cx="302.9" cy="6.2" r="1.05"/>
<circle cx="334.8" cy="6.7" r="1.05"/>
<circle cx="337.4" cy="6.9" r="1.05"/>
<circle cx="340" cy="6.6" r="1.05"/>
<circle cx="401" cy="9.5" r="1.05"/>
<circle cx="401" cy="6.2" r="1.05"/>
<circle cx="403.6" cy="6.8" r="1.05"/>
<circle cx="406.3" cy="6.6" r="1.05"/>
<circle cx="422.2" cy="6.6" r="1.05"/>
<circle cx="424.8" cy="7.1" r="1.05"/>
<circle cx="427.5" cy="7.2" r="1.05"/>
<circle cx="430.1" cy="7" r="1.05"/>
<circle cx="432.8" cy="6.5" r="1.05"/>
<circle cx="406.3" cy="8" r="1.05"/>
<circle cx="408.9" cy="9.4" r="1.05"/>
<circle cx="411.6" cy="10.5" r="1.05"/>
<circle cx="414.2" cy="11.4" r="1.05"/>
<circle cx="416.9" cy="11.9" r="1.05"/>
<circle cx="419.5" cy="12.3" r="1.05"/>
<circle cx="422.2" cy="12.4" r="1.05"/>
<circle cx="424.8" cy="12.2" r="1.05"/>
<circle cx="427.5" cy="11.8" r="1.05"/>
<circle cx="430.1" cy="11.3" r="1.05"/>
<circle cx="432.8" cy="10.8" r="1.05"/>
<circle cx="435.4" cy="10.2" r="1.05"/>
<circle cx="438.1" cy="9.5" r="1.05"/>
<circle cx="440.7" cy="8.8" r="1.05"/>
<circle cx="443.4" cy="8.1" r="1.05"/>
<circle cx="446" cy="7.5" r="1.05"/>
<circle cx="448.7" cy="6.9" r="1.05"/>
<circle cx="451.3" cy="6.4" r="1.05"/>
<circle cx="403.8" cy="19.2" r="1.05"/>
<circle cx="406.3" cy="23.1" r="1.05"/>
<circle cx="408.9" cy="28.3" r="1.05"/>
<circle cx="411.6" cy="32.9" r="1.05"/>
<circle cx="414.2" cy="37.5" r="1.05"/>
<circle cx="416.9" cy="42.4" r="1.05"/>
<circle cx="419.5" cy="46.3" r="1.05"/>
<circle cx="422.2" cy="48.9" r="1.05"/>
<circle cx="424.8" cy="50.8" r="1.05"/>
<circle cx="427.5" cy="52" r="1.05"/>
<circle cx="430.1" cy="51.7" r="1.05"/>
<circle cx="432.8" cy="50" r="1.05"/>
<circle cx="435.4" cy="46.7" r="1.05"/>
<circle cx="438.1" cy="42.2" r="1.05"/>
<circle cx="440.7" cy="36.8" r="1.05"/>
<circle cx="443.4" cy="32.9" r="1.05"/>
<circle cx="446" cy="27.5" r="1.05"/>
<circle cx="448.7" cy="21.8" r="1.05"/>
<circle cx="451.3" cy="17.3" r="1.05"/>
</g>
<g fill="#a3142a" stroke="#6a0c1a" stroke-width="0.35">
<circle cx="340" cy="11" r="1.05"/>
<circle cx="342.7" cy="11.4" r="1.05"/>
<circle cx="345.3" cy="12.1" r="1.05"/>
<circle cx="348" cy="12.8" r="1.05"/>
<circle cx="350.6" cy="13.6" r="1.05"/>
<circle cx="353.3" cy="14.9" r="1.05"/>
<circle cx="355.9" cy="16.7" r="1.05"/>
<circle cx="358.6" cy="18.9" r="1.05"/>
<circle cx="361.2" cy="21.6" r="1.05"/>
<circle cx="340" cy="12.7" r="1.05"/>
<circle cx="342.7" cy="13.5" r="1.05"/>
<circle cx="345.3" cy="14.3" r="1.05"/>
<circle cx="348" cy="14.4" r="1.05"/>
<circle cx="350.6" cy="14.2" r="1.05"/>
<circle cx="353.3" cy="12.6" r="1.05"/>
<circle cx="355.9" cy="10.5" r="1.05"/>
</g>
</g>
<rect x="299.7" y="6" width="152.1" height="180.9" fill="none" stroke="#6c6c6c" stroke-width="1.0"/>
<path d="M297.5 186.9H299.7 M298.4 178.7H299.7 M298.4 170.4H299.7 M298.4 162.2H299.7 M297.5 154H299.7 M298.4 145.8H299.7 M298.4 137.6H299.7 M298.4 129.3H299.7 M297.5 121.1H299.7 M298.4 112.9H299.7 M298.4 104.7H299.7 M298.4 96.4H299.7 M297.5 88.2H299.7 M298.4 80H299.7 M298.4 71.8H299.7 M298.4 63.5H299.7 M297.5 55.3H299.7 M298.4 47.1H299.7 M298.4 38.9H299.7 M298.4 30.6H299.7 M297.5 22.4H299.7 M298.4 14.2H299.7 M298.4 6H299.7 M299.7 186.9V188.7 M337.4 186.9V188.7 M351.4 186.9V188.7 M389.6 186.9V188.7 M403.6 186.9V188.7 M427.8 186.9V188.7 M451.8 186.9V188.7" stroke="#666" stroke-width="0.6" fill="none"/>
<g font-family="'DejaVu Sans', 'Liberation Sans', sans-serif" font-size="6.1" fill="#262626" stroke="#262626" stroke-width="0.1"><text x="296.3" y="24.9" text-anchor="end">8</text><text x="296.3" y="57.8" text-anchor="end">6</text><text x="296.3" y="90.7" text-anchor="end">4</text><text x="296.3" y="123.6" text-anchor="end">2</text><text x="296.3" y="156.5" text-anchor="end">0</text><text x="296.3" y="189.4" text-anchor="end">−2</text><text x="299.7" y="195.5" text-anchor="middle">Γ</text><text x="337.4" y="195.5" text-anchor="middle">Y</text><text x="351.4" y="195.5" text-anchor="middle">M</text><text x="389.6" y="195.5" text-anchor="middle">A</text><text x="403.6" y="195.5" text-anchor="middle">Γ|L</text><text x="427.8" y="195.5" text-anchor="middle">Γ</text><text x="451.8" y="195.5" text-anchor="middle">N</text></g>
<text font-family="'DejaVu Sans', 'Liberation Sans', sans-serif" font-size="5.7" fill="#262626" stroke="#262626" stroke-width="0.08" text-anchor="middle" transform="translate(282.3 96) rotate(-90)">Energy (eV)</text>
<text font-family="'Liberation Sans', Arial, sans-serif" font-size="7.9" font-weight="bold" fill="#1a1a1a" stroke="#1a1a1a" stroke-width="0.2" x="280.3" y="17.8">(b)</text>
<g>
<rect x="422.3" y="9.6" width="27.9" height="20.8" rx="1.3" fill="#ffffff" fill-opacity="0.8" stroke="#d6d6d6" stroke-width="0.5"/>
<circle cx="430.2" cy="13.5" r="1.85" fill="#0c0cc8"/>
<text font-family="'DejaVu Sans', 'Liberation Sans', sans-serif" font-size="5.8" font-style="italic" fill="#151515" stroke="#151515" stroke-width="0.13" x="439.4" y="15.6">Cu</text>
<circle cx="430.2" cy="19.8" r="1.85" fill="#38e8e8"/>
<text font-family="'DejaVu Sans', 'Liberation Sans', sans-serif" font-size="5.8" font-style="italic" fill="#151515" stroke="#151515" stroke-width="0.13" x="439.4" y="21.9">P</text>
<circle cx="430.2" cy="26.1" r="1.85" fill="#e8161c"/>
<text font-family="'DejaVu Sans', 'Liberation Sans', sans-serif" font-size="5.8" font-style="italic" fill="#151515" stroke="#151515" stroke-width="0.13" x="439.4" y="28.2">O</text>
</g>
</g>
<defs><clipPath id="clipc"><rect x="24.5" y="203.9" width="154" height="182.6"/></clipPath></defs>
<g>
<path d="M24.5 353.3H178.5 M62.8 203.9V386.5 M77.4 203.9V386.5 M115.3 203.9V386.5 M129.4 203.9V386.5 M154.6 203.9V386.5" stroke="#cfcfcf" stroke-width="0.8" fill="none"/>
<g clip-path="url(#clipc)">
<path d="M24.5 387.5 L24.5 353.7 L25.9 354.1 L27.2 354.5 L28.5 354.9 L30 355.3 L31.6 355.6 L33.3 355.8 L35.1 356 L37 356.2 L39.2 356.3 L41.8 356.4 L44.9 356.5 L48.5 356.5 L52.3 356.6 L56.2 356.6 L60 356.6 L63.7 356.6 L67.5 356.6 L71.2 356.6 L74.8 356.5 L78.2 356.4 L81.5 356.2 L84.6 355.9 L87.6 355.5 L90.3 355.2 L92.7 354.9 L94.6 354.7 L96.1 354.5 L97.4 354.4 L98.6 354.3 L100 354.3 L101.6 354.4 L103.2 354.6 L104.8 354.9 L106.4 355.3 L108 355.6 L109.5 356 L110.9 356.5 L112.3 357 L113.7 357.4 L115.1 357.6 L116.5 357.5 L117.9 357.2 L119.2 356.8 L120.6 356.4 L122 356 L123.4 355.6 L124.9 355.1 L126.4 354.6 L127.8 354.2 L129 354 L130 354.1 L130.7 354.5 L131.4 355 L132.3 355.4 L133.6 355.6 L135.5 355.6 L137.8 355.4 L140.3 355.1 L142.7 354.8 L145 354.6 L147 354.5 L148.8 354.3 L150.6 354.3 L152.5 354.2 L154.5 354.3 L156.7 354.5 L158.9 354.7 L161.2 355.1 L163.6 355.4 L166 355.8 L168.4 356.2 L170.9 356.6 L173.5 357 L176 357.4 L178.5 357.8 L178.5 387.5 Z" fill="#f20b0b"/>
<path d="M25.8 358.8 L26.1 358.9 L26.3 359 L26.6 359.1 L26.8 359.2 L27.1 359.3 L27.3 359.3 L27.6 359.4 L27.8 359.4 L28.1 359.5 L28.3 359.5 L28.6 359.5 L28.8 359.5 L29.1 359.5 L29.3 359.5 L29.6 359.4 L29.8 359.4 L30.1 359.3 L30.3 359.3 L30.6 359.2 L30.8 359.1 L31.1 359 L31.3 358.9 L31.6 358.8 L31.6 358.8 L31.3 358.7 L31.1 358.6 L30.8 358.5 L30.6 358.4 L30.3 358.3 L30.1 358.3 L29.8 358.2 L29.6 358.2 L29.3 358.1 L29.1 358.1 L28.8 358.1 L28.6 358.1 L28.3 358.1 L28.1 358.1 L27.8 358.2 L27.6 358.2 L27.3 358.3 L27.1 358.3 L26.8 358.4 L26.6 358.5 L26.3 358.6 L26.1 358.7 L25.8 358.8Z" fill="#fff"/>
<path d="M47.6 369 L48.7 369.1 L49.8 369.1 L50.8 369.1 L51.9 369.1 L53 369.1 L54 369.1 L55.1 369 L56.2 369 L57.2 369 L58.3 368.9 L59.4 368.8 L60.4 368.7 L61.5 368.6 L62.5 368.4 L63.6 368.3 L64.7 368.1 L65.7 367.9 L66.8 367.7 L67.8 367.5 L68.9 367.3 L69.9 367.1 L71 366.9 L72 366.6 L72 366.6 L70.9 366.5 L69.8 366.4 L68.8 366.4 L67.7 366.4 L66.6 366.4 L65.6 366.4 L64.5 366.4 L63.4 366.4 L62.3 366.5 L61.3 366.6 L60.2 366.7 L59.2 366.8 L58.1 366.9 L57.1 367.1 L56 367.2 L54.9 367.4 L53.9 367.5 L52.8 367.7 L51.8 367.9 L50.7 368.2 L49.7 368.4 L48.6 368.7 L47.6 369Z" fill="#fff"/>
<path d="M60.7 384.6 L61 384.8 L61.3 384.9 L61.7 385 L62 385 L62.3 385.1 L62.6 385.2 L62.9 385.2 L63.3 385.3 L63.6 385.3 L63.9 385.3 L64.2 385.3 L64.5 385.3 L64.8 385.3 L65.2 385.2 L65.5 385.2 L65.8 385.1 L66.1 385.1 L66.4 385 L66.7 384.9 L67.1 384.8 L67.4 384.7 L67.7 384.6 L68 384.4 L68 384.4 L67.7 384.2 L67.4 384.1 L67 384 L66.7 384 L66.4 383.9 L66.1 383.8 L65.8 383.8 L65.4 383.7 L65.1 383.7 L64.8 383.7 L64.5 383.7 L64.2 383.7 L63.9 383.7 L63.5 383.8 L63.2 383.8 L62.9 383.9 L62.6 383.9 L62.3 384 L62 384.1 L61.6 384.2 L61.3 384.3 L61 384.4 L60.7 384.6Z" fill="#fff"/>
<path d="M70.9 383.2 L71.5 383.4 L72.2 383.5 L72.8 383.5 L73.5 383.6 L74.1 383.7 L74.7 383.7 L75.4 383.7 L76 383.8 L76.6 383.8 L77.3 383.8 L77.9 383.8 L78.5 383.8 L79.1 383.8 L79.8 383.8 L80.4 383.7 L81 383.7 L81.7 383.7 L82.3 383.6 L82.9 383.5 L83.6 383.5 L84.2 383.4 L84.9 383.3 L85.5 383.1 L85.5 383.1 L84.9 382.9 L84.2 382.7 L83.6 382.6 L83 382.5 L82.3 382.4 L81.7 382.3 L81.1 382.2 L80.4 382.1 L79.8 382.1 L79.2 382 L78.5 382 L77.9 382 L77.2 382 L76.6 382.1 L75.9 382.1 L75.3 382.2 L74.7 382.3 L74 382.4 L73.4 382.5 L72.8 382.7 L72.2 382.8 L71.5 383 L70.9 383.2Z" fill="#fff"/>
<path d="M136.7 361.2 L138 361.3 L139.3 361.3 L140.6 361.3 L141.9 361.3 L143.1 361.3 L144.4 361.2 L145.7 361.2 L147 361.2 L148.3 361.1 L149.6 361.1 L150.8 361 L152.1 360.9 L153.3 360.9 L154.6 360.9 L155.8 360.9 L157.1 361 L158.4 361 L159.6 361 L160.9 361 L162.2 361 L163.5 361 L164.8 360.9 L166.1 360.8 L166.1 360.8 L164.8 360.4 L163.6 360.1 L162.3 359.8 L161.1 359.6 L159.8 359.3 L158.5 359.1 L157.2 358.9 L155.9 358.8 L154.6 358.7 L153.3 358.7 L152 358.8 L150.7 358.9 L149.4 359 L148.1 359.1 L146.8 359.3 L145.6 359.5 L144.3 359.7 L143 359.9 L141.7 360.1 L140.5 360.3 L139.2 360.6 L138 360.9 L136.7 361.2Z" fill="#fff"/>
<path d="M124.4 358.9 L124.6 359 L124.7 359.1 L124.9 359.2 L125.1 359.3 L125.2 359.3 L125.4 359.4 L125.6 359.4 L125.7 359.4 L125.9 359.5 L126.1 359.5 L126.2 359.5 L126.4 359.5 L126.5 359.5 L126.7 359.5 L126.9 359.4 L127 359.4 L127.2 359.4 L127.4 359.3 L127.5 359.3 L127.7 359.2 L127.9 359.1 L128 359 L128.2 358.9 L128.2 358.9 L128 358.8 L127.9 358.7 L127.7 358.6 L127.5 358.5 L127.4 358.5 L127.2 358.4 L127 358.4 L126.9 358.4 L126.7 358.3 L126.5 358.3 L126.4 358.3 L126.2 358.3 L126.1 358.3 L125.9 358.3 L125.7 358.4 L125.6 358.4 L125.4 358.4 L125.2 358.5 L125.1 358.5 L124.9 358.6 L124.7 358.7 L124.6 358.8 L124.4 358.9Z" fill="#fff"/>
<path d="M109.7 373.6 L110.1 373.7 L110.6 373.8 L111 373.9 L111.4 374 L111.9 374.1 L112.3 374.1 L112.7 374.2 L113.2 374.2 L113.6 374.3 L114 374.3 L114.5 374.3 L114.9 374.3 L115.4 374.3 L115.8 374.3 L116.2 374.2 L116.7 374.2 L117.1 374.1 L117.5 374.1 L118 374 L118.4 373.9 L118.8 373.8 L119.3 373.7 L119.7 373.6 L119.7 373.6 L119.3 373.5 L118.8 373.4 L118.4 373.3 L118 373.2 L117.5 373.1 L117.1 373.1 L116.7 373 L116.2 373 L115.8 372.9 L115.4 372.9 L114.9 372.9 L114.5 372.9 L114 372.9 L113.6 372.9 L113.2 373 L112.7 373 L112.3 373.1 L111.9 373.1 L111.4 373.2 L111 373.3 L110.6 373.4 L110.1 373.5 L109.7 373.6Z" fill="#fff"/>
<path d="M109.7 377.8 L110.1 377.9 L110.6 378 L111 378.1 L111.4 378.2 L111.9 378.3 L112.3 378.3 L112.7 378.4 L113.2 378.4 L113.6 378.5 L114 378.5 L114.5 378.5 L114.9 378.5 L115.4 378.5 L115.8 378.5 L116.2 378.4 L116.7 378.4 L117.1 378.3 L117.5 378.3 L118 378.2 L118.4 378.1 L118.8 378 L119.3 377.9 L119.7 377.8 L119.7 377.8 L119.3 377.7 L118.8 377.6 L118.4 377.5 L118 377.4 L117.5 377.3 L117.1 377.3 L116.7 377.2 L116.2 377.2 L115.8 377.1 L115.4 377.1 L114.9 377.1 L114.5 377.1 L114 377.1 L113.6 377.1 L113.2 377.2 L112.7 377.2 L112.3 377.3 L111.9 377.3 L111.4 377.4 L111 377.5 L110.6 377.6 L110.1 377.7 L109.7 377.8Z" fill="#fff"/>
<path d="M30 362.3H100 M100 366H170 M25 372H178 M40 376H175" stroke="#ffffff" stroke-opacity="0.45" stroke-width="0.8" stroke-dasharray="0.9 1.9" fill="none"/>
<path d="M25.8 378.5H36 M25 384.3H33 M44.7 380.6H52 M63.6 380.2H78.2 M95 382.1H109 M122 384.6H178 M124 381.8H178" stroke="#3a2ad0" stroke-opacity="0.9" stroke-width="1.3" stroke-dasharray="1.3 1.5" fill="none"/>
<path d="M62.8 352.3V386.5 M77.4 352.3V386.5 M115.3 352.3V386.5 M129.4 352.3V386.5 M154.6 352.3V386.5" stroke="#700000" stroke-opacity="0.22" stroke-width="0.7" fill="none"/>
<path d="M24.9 295.6 L25.1 295.6 L25.4 295.6 L25.6 295.6 L25.8 295.6 L26.1 295.6 L26.3 295.6 L26.6 295.6 L26.8 295.5 L27 295.5 L27.3 295.5 L27.5 295.5 L27.7 295.5 L28 295.4 L28.2 295.4 L28.4 295.4 L28.7 295.4 L28.9 295.3 L29.1 295.3 L29.4 295.3 L29.6 295.2 L29.9 295.2 L30.1 295.1 L30.3 295.1 L30.6 295.1 L30.8 295 L31 295 L31.3 294.9 L31.5 294.9 L31.7 294.8 L32 294.8 L32.2 294.7 L32.4 294.7 L32.7 294.6 L32.9 294.5 L33.2 294.5 L33.4 294.4 L33.6 294.3 L33.9 294.3 L34.1 294.2 L34.3 294.1 L34.6 294.1 L34.8 294 L35 293.9 L35.3 293.8 L35.5 293.8 L35.8 293.7 L36 293.6 L36.2 293.5 L36.5 293.4 L36.7 293.4 L36.9 293.3 L37.2 293.2 L37.4 293.1 L37.6 293 L37.9 292.9 L38.1 292.8 L38.3 292.7 L38.6 292.6 L38.8 292.5 L39.1 292.4 L39.3 292.3 L39.5 292.2 L39.8 292.1 L40 292 L40.2 291.9 L40.5 291.8 L40.7 291.7 L40.9 291.6 L41.2 291.5 L41.4 291.4 L41.6 291.3 L41.9 291.2 L42.1 291.1 L42.4 290.9 L42.6 290.8 L42.8 290.7 L43.1 290.5 L43.3 290.4" fill="none" stroke="#0c0cb4" stroke-width="4.8" stroke-linecap="round"/>
<path d="M24.9 295.6 L25.1 295.6 L25.4 295.6 L25.6 295.6 L25.8 295.6 L26.1 295.6 L26.3 295.6 L26.6 295.6 L26.8 295.5 L27 295.5 L27.3 295.5 L27.5 295.5 L27.7 295.5 L28 295.4 L28.2 295.4 L28.4 295.4 L28.7 295.4 L28.9 295.3 L29.1 295.3 L29.4 295.3 L29.6 295.2 L29.9 295.2 L30.1 295.1 L30.3 295.1 L30.6 295.1 L30.8 295 L31 295 L31.3 294.9 L31.5 294.9 L31.7 294.8 L32 294.8 L32.2 294.7 L32.4 294.7 L32.7 294.6 L32.9 294.5 L33.2 294.5 L33.4 294.4 L33.6 294.3 L33.9 294.3 L34.1 294.2 L34.3 294.1 L34.6 294.1 L34.8 294 L35 293.9 L35.3 293.8 L35.5 293.8 L35.8 293.7 L36 293.6 L36.2 293.5 L36.5 293.4 L36.7 293.4 L36.9 293.3 L37.2 293.2 L37.4 293.1 L37.6 293 L37.9 292.9 L38.1 292.8 L38.3 292.7 L38.6 292.6 L38.8 292.5 L39.1 292.4 L39.3 292.3 L39.5 292.2 L39.8 292.1 L40 292 L40.2 291.9 L40.5 291.8 L40.7 291.7 L40.9 291.6 L41.2 291.5 L41.4 291.4 L41.6 291.3 L41.9 291.2 L42.1 291.1 L42.4 290.9 L42.6 290.8 L42.8 290.7 L43.1 290.5 L43.3 290.4" fill="none" stroke="#1d1de0" stroke-width="3.6" stroke-linecap="round"/>
<g fill="#1f1fe4" stroke="#0a0a9a" stroke-width="0.45"><circle cx="25.4" cy="295.6" r="2.2"/><circle cx="28.4" cy="295.4" r="2.2"/><circle cx="31.4" cy="294.9" r="2.2"/><circle cx="34.4" cy="294.1" r="2.2"/><circle cx="37.4" cy="293.1" r="2.2"/><circle cx="40.4" cy="291.9" r="2.2"/><circle cx="43.3" cy="290.4" r="2.2"/></g>
<g fill="#5a5af0"><circle cx="25.4" cy="295.6" r="0.6"/><circle cx="28.4" cy="295.4" r="0.6"/><circle cx="31.4" cy="294.9" r="0.6"/><circle cx="34.4" cy="294.1" r="0.6"/><circle cx="37.4" cy="293.1" r="0.6"/><circle cx="40.4" cy="291.9" r="0.6"/><circle cx="43.3" cy="290.4" r="0.6"/></g>
<path d="M43.3 290.4 L43.7 290.6 L44.1 290.9 L44.6 291.1 L45 291.4 L45.4 291.6 L45.8 291.8 L46.2 292 L46.7 292.3 L47.1 292.5 L47.5 292.6 L47.9 292.8 L48.3 293 L48.8 293.2 L49.2 293.4 L49.6 293.5 L50 293.7 L50.4 293.8 L50.8 294 L51.3 294.1 L51.7 294.3 L52.1 294.4 L52.5 294.5 L52.9 294.7 L53.4 294.8 L53.8 294.9 L54.2 295 L54.6 295.1 L55 295.1 L55.5 295.2 L55.9 295.3 L56.3 295.4 L56.7 295.4 L57.1 295.5 L57.6 295.5 L58 295.5 L58.4 295.6 L58.8 295.6 L59.2 295.6 L59.7 295.6 L60.1 295.6 L60.5 295.6 L60.9 295.6 L61.3 295.5 L61.7 295.5 L62.2 295.5 L62.6 295.4 L63 295.4 L63.4 295.3 L63.8 295.2 L64.3 295.1 L64.7 295.1 L65.1 295 L65.5 294.9 L65.9 294.8 L66.4 294.7 L66.8 294.5 L67.2 294.4 L67.6 294.3 L68 294.1 L68.5 294 L68.9 293.8 L69.3 293.7 L69.7 293.5 L70.1 293.4 L70.5 293.2 L71 293 L71.4 292.8 L71.8 292.6 L72.2 292.5 L72.6 292.3 L73.1 292 L73.5 291.8 L73.9 291.6 L74.3 291.4 L74.7 291.1 L75.2 290.9 L75.6 290.6 L76 290.4" fill="none" stroke="#0c0cb4" stroke-width="4.8" stroke-linecap="round"/>
<path d="M43.3 290.4 L43.7 290.6 L44.1 290.9 L44.6 291.1 L45 291.4 L45.4 291.6 L45.8 291.8 L46.2 292 L46.7 292.3 L47.1 292.5 L47.5 292.6 L47.9 292.8 L48.3 293 L48.8 293.2 L49.2 293.4 L49.6 293.5 L50 293.7 L50.4 293.8 L50.8 294 L51.3 294.1 L51.7 294.3 L52.1 294.4 L52.5 294.5 L52.9 294.7 L53.4 294.8 L53.8 294.9 L54.2 295 L54.6 295.1 L55 295.1 L55.5 295.2 L55.9 295.3 L56.3 295.4 L56.7 295.4 L57.1 295.5 L57.6 295.5 L58 295.5 L58.4 295.6 L58.8 295.6 L59.2 295.6 L59.7 295.6 L60.1 295.6 L60.5 295.6 L60.9 295.6 L61.3 295.5 L61.7 295.5 L62.2 295.5 L62.6 295.4 L63 295.4 L63.4 295.3 L63.8 295.2 L64.3 295.1 L64.7 295.1 L65.1 295 L65.5 294.9 L65.9 294.8 L66.4 294.7 L66.8 294.5 L67.2 294.4 L67.6 294.3 L68 294.1 L68.5 294 L68.9 293.8 L69.3 293.7 L69.7 293.5 L70.1 293.4 L70.5 293.2 L71 293 L71.4 292.8 L71.8 292.6 L72.2 292.5 L72.6 292.3 L73.1 292 L73.5 291.8 L73.9 291.6 L74.3 291.4 L74.7 291.1 L75.2 290.9 L75.6 290.6 L76 290.4" fill="none" stroke="#1d1de0" stroke-width="3.6" stroke-linecap="round"/>
<g fill="#1f1fe4" stroke="#0a0a9a" stroke-width="0.45"><circle cx="43.4" cy="290.5" r="2.2"/><circle cx="46.4" cy="292.1" r="2.2"/><circle cx="49.4" cy="293.5" r="2.2"/><circle cx="52.4" cy="294.5" r="2.2"/><circle cx="55.4" cy="295.2" r="2.2"/><circle cx="58.4" cy="295.6" r="2.2"/><circle cx="61.4" cy="295.5" r="2.2"/><circle cx="64.4" cy="295.1" r="2.2"/><circle cx="67.4" cy="294.3" r="2.2"/><circle cx="70.4" cy="293.2" r="2.2"/><circle cx="73.4" cy="291.9" r="2.2"/><circle cx="76" cy="290.4" r="2.2"/></g>
<g fill="#5a5af0"><circle cx="43.4" cy="290.5" r="0.6"/><circle cx="46.4" cy="292.1" r="0.6"/><circle cx="49.4" cy="293.5" r="0.6"/><circle cx="52.4" cy="294.5" r="0.6"/><circle cx="55.4" cy="295.2" r="0.6"/><circle cx="58.4" cy="295.6" r="0.6"/><circle cx="61.4" cy="295.5" r="0.6"/><circle cx="64.4" cy="295.1" r="0.6"/><circle cx="67.4" cy="294.3" r="0.6"/><circle cx="70.4" cy="293.2" r="0.6"/><circle cx="73.4" cy="291.9" r="0.6"/><circle cx="76" cy="290.4" r="0.6"/></g>
<path d="M76 290.4 L76.5 290.6 L77 290.9 L77.5 291.1 L78.1 291.4 L78.6 291.6 L79.1 291.8 L79.6 292 L80.1 292.3 L80.6 292.5 L81.2 292.6 L81.7 292.8 L82.2 293 L82.7 293.2 L83.2 293.4 L83.7 293.5 L84.2 293.7 L84.8 293.8 L85.3 294 L85.8 294.1 L86.3 294.3 L86.8 294.4 L87.3 294.5 L87.9 294.7 L88.4 294.8 L88.9 294.9 L89.4 295 L89.9 295.1 L90.4 295.1 L90.9 295.2 L91.5 295.3 L92 295.4 L92.5 295.4 L93 295.5 L93.5 295.5 L94 295.5 L94.6 295.6 L95.1 295.6 L95.6 295.6 L96.1 295.6 L96.6 295.6 L97.1 295.6 L97.6 295.6 L98.2 295.5 L98.7 295.5 L99.2 295.5 L99.7 295.4 L100.2 295.4 L100.7 295.3 L101.3 295.2 L101.8 295.1 L102.3 295.1 L102.8 295 L103.3 294.9 L103.8 294.8 L104.3 294.7 L104.9 294.5 L105.4 294.4 L105.9 294.3 L106.4 294.1 L106.9 294 L107.4 293.8 L108 293.7 L108.5 293.5 L109 293.4 L109.5 293.2 L110 293 L110.5 292.8 L111 292.6 L111.6 292.5 L112.1 292.3 L112.6 292 L113.1 291.8 L113.6 291.6 L114.1 291.4 L114.7 291.1 L115.2 290.9 L115.7 290.6 L116.2 290.4" fill="none" stroke="#0c0cb4" stroke-width="4.8" stroke-linecap="round"/>
<path d="M76 290.4 L76.5 290.6 L77 290.9 L77.5 291.1 L78.1 291.4 L78.6 291.6 L79.1 291.8 L79.6 292 L80.1 292.3 L80.6 292.5 L81.2 292.6 L81.7 292.8 L82.2 293 L82.7 293.2 L83.2 293.4 L83.7 293.5 L84.2 293.7 L84.8 293.8 L85.3 294 L85.8 294.1 L86.3 294.3 L86.8 294.4 L87.3 294.5 L87.9 294.7 L88.4 294.8 L88.9 294.9 L89.4 295 L89.9 295.1 L90.4 295.1 L90.9 295.2 L91.5 295.3 L92 295.4 L92.5 295.4 L93 295.5 L93.5 295.5 L94 295.5 L94.6 295.6 L95.1 295.6 L95.6 295.6 L96.1 295.6 L96.6 295.6 L97.1 295.6 L97.6 295.6 L98.2 295.5 L98.7 295.5 L99.2 295.5 L99.7 295.4 L100.2 295.4 L100.7 295.3 L101.3 295.2 L101.8 295.1 L102.3 295.1 L102.8 295 L103.3 294.9 L103.8 294.8 L104.3 294.7 L104.9 294.5 L105.4 294.4 L105.9 294.3 L106.4 294.1 L106.9 294 L107.4 293.8 L108 293.7 L108.5 293.5 L109 293.4 L109.5 293.2 L110 293 L110.5 292.8 L111 292.6 L111.6 292.5 L112.1 292.3 L112.6 292 L113.1 291.8 L113.6 291.6 L114.1 291.4 L114.7 291.1 L115.2 290.9 L115.7 290.6 L116.2 290.4" fill="none" stroke="#1d1de0" stroke-width="3.6" stroke-linecap="round"/>
<g fill="#1f1fe4" stroke="#0a0a9a" stroke-width="0.45"><circle cx="76.4" cy="290.6" r="2.2"/><circle cx="79.4" cy="292" r="2.2"/><circle cx="82.4" cy="293.1" r="2.2"/><circle cx="85.4" cy="294" r="2.2"/><circle cx="88.4" cy="294.8" r="2.2"/><circle cx="91.4" cy="295.3" r="2.2"/><circle cx="94.4" cy="295.6" r="2.2"/><circle cx="97.4" cy="295.6" r="2.2"/><circle cx="100.4" cy="295.3" r="2.2"/><circle cx="103.4" cy="294.9" r="2.2"/><circle cx="106.4" cy="294.1" r="2.2"/><circle cx="109.4" cy="293.2" r="2.2"/><circle cx="112.4" cy="292.1" r="2.2"/><circle cx="115.4" cy="290.8" r="2.2"/></g>
<g fill="#5a5af0"><circle cx="76.4" cy="290.6" r="0.6"/><circle cx="79.4" cy="292" r="0.6"/><circle cx="82.4" cy="293.1" r="0.6"/><circle cx="85.4" cy="294" r="0.6"/><circle cx="88.4" cy="294.8" r="0.6"/><circle cx="91.4" cy="295.3" r="0.6"/><circle cx="94.4" cy="295.6" r="0.6"/><circle cx="97.4" cy="295.6" r="0.6"/><circle cx="100.4" cy="295.3" r="0.6"/><circle cx="103.4" cy="294.9" r="0.6"/><circle cx="106.4" cy="294.1" r="0.6"/><circle cx="109.4" cy="293.2" r="0.6"/><circle cx="112.4" cy="292.1" r="0.6"/><circle cx="115.4" cy="290.8" r="0.6"/></g>
<path d="M116.2 290.4 L116.4 290.5 L116.5 290.7 L116.7 290.8 L116.9 290.9 L117.1 291.1 L117.2 291.2 L117.4 291.3 L117.6 291.4 L117.7 291.5 L117.9 291.6 L118.1 291.7 L118.3 291.8 L118.4 291.9 L118.6 292 L118.8 292.1 L118.9 292.2 L119.1 292.3 L119.3 292.4 L119.5 292.5 L119.6 292.6 L119.8 292.7 L120 292.8 L120.2 292.9 L120.3 293 L120.5 293.1 L120.7 293.2 L120.8 293.3 L121 293.4 L121.2 293.4 L121.4 293.5 L121.5 293.6 L121.7 293.7 L121.9 293.8 L122 293.8 L122.2 293.9 L122.4 294 L122.6 294.1 L122.7 294.1 L122.9 294.2 L123.1 294.3 L123.2 294.3 L123.4 294.4 L123.6 294.5 L123.8 294.5 L123.9 294.6 L124.1 294.7 L124.3 294.7 L124.4 294.8 L124.6 294.8 L124.8 294.9 L125 294.9 L125.1 295 L125.3 295 L125.5 295.1 L125.6 295.1 L125.8 295.1 L126 295.2 L126.2 295.2 L126.3 295.3 L126.5 295.3 L126.7 295.3 L126.9 295.4 L127 295.4 L127.2 295.4 L127.4 295.4 L127.5 295.5 L127.7 295.5 L127.9 295.5 L128.1 295.5 L128.2 295.5 L128.4 295.6 L128.6 295.6 L128.7 295.6 L128.9 295.6 L129.1 295.6 L129.3 295.6 L129.4 295.6 L129.6 295.6" fill="none" stroke="#0c0cb4" stroke-width="4.8" stroke-linecap="round"/>
<path d="M116.2 290.4 L116.4 290.5 L116.5 290.7 L116.7 290.8 L116.9 290.9 L117.1 291.1 L117.2 291.2 L117.4 291.3 L117.6 291.4 L117.7 291.5 L117.9 291.6 L118.1 291.7 L118.3 291.8 L118.4 291.9 L118.6 292 L118.8 292.1 L118.9 292.2 L119.1 292.3 L119.3 292.4 L119.5 292.5 L119.6 292.6 L119.8 292.7 L120 292.8 L120.2 292.9 L120.3 293 L120.5 293.1 L120.7 293.2 L120.8 293.3 L121 293.4 L121.2 293.4 L121.4 293.5 L121.5 293.6 L121.7 293.7 L121.9 293.8 L122 293.8 L122.2 293.9 L122.4 294 L122.6 294.1 L122.7 294.1 L122.9 294.2 L123.1 294.3 L123.2 294.3 L123.4 294.4 L123.6 294.5 L123.8 294.5 L123.9 294.6 L124.1 294.7 L124.3 294.7 L124.4 294.8 L124.6 294.8 L124.8 294.9 L125 294.9 L125.1 295 L125.3 295 L125.5 295.1 L125.6 295.1 L125.8 295.1 L126 295.2 L126.2 295.2 L126.3 295.3 L126.5 295.3 L126.7 295.3 L126.9 295.4 L127 295.4 L127.2 295.4 L127.4 295.4 L127.5 295.5 L127.7 295.5 L127.9 295.5 L128.1 295.5 L128.2 295.5 L128.4 295.6 L128.6 295.6 L128.7 295.6 L128.9 295.6 L129.1 295.6 L129.3 295.6 L129.4 295.6 L129.6 295.6" fill="none" stroke="#1d1de0" stroke-width="3.6" stroke-linecap="round"/>
<g fill="#1f1fe4" stroke="#0a0a9a" stroke-width="0.45"><circle cx="118.4" cy="291.9" r="2.2"/><circle cx="121.4" cy="293.5" r="2.2"/><circle cx="124.4" cy="294.7" r="2.2"/><circle cx="127.4" cy="295.4" r="2.2"/></g>
<g fill="#5a5af0"><circle cx="118.4" cy="291.9" r="0.6"/><circle cx="121.4" cy="293.5" r="0.6"/><circle cx="124.4" cy="294.7" r="0.6"/><circle cx="127.4" cy="295.4" r="0.6"/></g>
<path d="M129.4 290.4 L130 290.6 L130.7 290.9 L131.3 291.1 L131.9 291.4 L132.5 291.6 L133.2 291.8 L133.8 292 L134.4 292.3 L135 292.5 L135.7 292.6 L136.3 292.8 L136.9 293 L137.5 293.2 L138.2 293.4 L138.8 293.5 L139.4 293.7 L140 293.8 L140.7 294 L141.3 294.1 L141.9 294.3 L142.5 294.4 L143.2 294.5 L143.8 294.7 L144.4 294.8 L145 294.9 L145.7 295 L146.3 295.1 L146.9 295.1 L147.5 295.2 L148.2 295.3 L148.8 295.4 L149.4 295.4 L150 295.5 L150.7 295.5 L151.3 295.5 L151.9 295.6 L152.5 295.6 L153.2 295.6 L153.8 295.6 L154.4 295.6 L155.1 295.6 L155.7 295.6 L156.3 295.5 L156.9 295.5 L157.6 295.5 L158.2 295.4 L158.8 295.4 L159.4 295.3 L160.1 295.2 L160.7 295.1 L161.3 295.1 L161.9 295 L162.6 294.9 L163.2 294.8 L163.8 294.7 L164.4 294.5 L165.1 294.4 L165.7 294.3 L166.3 294.1 L166.9 294 L167.6 293.8 L168.2 293.7 L168.8 293.5 L169.4 293.4 L170.1 293.2 L170.7 293 L171.3 292.8 L171.9 292.6 L172.6 292.5 L173.2 292.3 L173.8 292 L174.4 291.8 L175.1 291.6 L175.7 291.4 L176.3 291.1 L176.9 290.9 L177.6 290.6 L178.2 290.4" fill="none" stroke="#0c0cb4" stroke-width="4.8" stroke-linecap="round"/>
<path d="M129.4 290.4 L130 290.6 L130.7 290.9 L131.3 291.1 L131.9 291.4 L132.5 291.6 L133.2 291.8 L133.8 292 L134.4 292.3 L135 292.5 L135.7 292.6 L136.3 292.8 L136.9 293 L137.5 293.2 L138.2 293.4 L138.8 293.5 L139.4 293.7 L140 293.8 L140.7 294 L141.3 294.1 L141.9 294.3 L142.5 294.4 L143.2 294.5 L143.8 294.7 L144.4 294.8 L145 294.9 L145.7 295 L146.3 295.1 L146.9 295.1 L147.5 295.2 L148.2 295.3 L148.8 295.4 L149.4 295.4 L150 295.5 L150.7 295.5 L151.3 295.5 L151.9 295.6 L152.5 295.6 L153.2 295.6 L153.8 295.6 L154.4 295.6 L155.1 295.6 L155.7 295.6 L156.3 295.5 L156.9 295.5 L157.6 295.5 L158.2 295.4 L158.8 295.4 L159.4 295.3 L160.1 295.2 L160.7 295.1 L161.3 295.1 L161.9 295 L162.6 294.9 L163.2 294.8 L163.8 294.7 L164.4 294.5 L165.1 294.4 L165.7 294.3 L166.3 294.1 L166.9 294 L167.6 293.8 L168.2 293.7 L168.8 293.5 L169.4 293.4 L170.1 293.2 L170.7 293 L171.3 292.8 L171.9 292.6 L172.6 292.5 L173.2 292.3 L173.8 292 L174.4 291.8 L175.1 291.6 L175.7 291.4 L176.3 291.1 L176.9 290.9 L177.6 290.6 L178.2 290.4" fill="none" stroke="#1d1de0" stroke-width="3.6" stroke-linecap="round"/>
<g fill="#1f1fe4" stroke="#0a0a9a" stroke-width="0.45"><circle cx="130.4" cy="290.8" r="2.2"/><circle cx="133.4" cy="291.9" r="2.2"/><circle cx="136.4" cy="292.9" r="2.2"/><circle cx="139.4" cy="293.7" r="2.2"/><circle cx="142.4" cy="294.4" r="2.2"/><circle cx="145.4" cy="294.9" r="2.2"/><circle cx="148.4" cy="295.3" r="2.2"/><circle cx="151.4" cy="295.5" r="2.2"/><circle cx="154.4" cy="295.6" r="2.2"/><circle cx="157.4" cy="295.5" r="2.2"/><circle cx="160.4" cy="295.2" r="2.2"/><circle cx="163.4" cy="294.7" r="2.2"/><circle cx="166.4" cy="294.1" r="2.2"/><circle cx="169.4" cy="293.4" r="2.2"/><circle cx="172.4" cy="292.5" r="2.2"/><circle cx="175.4" cy="291.5" r="2.2"/><circle cx="178.2" cy="290.4" r="2.2"/></g>
<g fill="#5a5af0"><circle cx="130.4" cy="290.8" r="0.6"/><circle cx="133.4" cy="291.9" r="0.6"/><circle cx="136.4" cy="292.9" r="0.6"/><circle cx="139.4" cy="293.7" r="0.6"/><circle cx="142.4" cy="294.4" r="0.6"/><circle cx="145.4" cy="294.9" r="0.6"/><circle cx="148.4" cy="295.3" r="0.6"/><circle cx="151.4" cy="295.5" r="0.6"/><circle cx="154.4" cy="295.6" r="0.6"/><circle cx="157.4" cy="295.5" r="0.6"/><circle cx="160.4" cy="295.2" r="0.6"/><circle cx="163.4" cy="294.7" r="0.6"/><circle cx="166.4" cy="294.1" r="0.6"/><circle cx="169.4" cy="293.4" r="0.6"/><circle cx="172.4" cy="292.5" r="0.6"/><circle cx="175.4" cy="291.5" r="0.6"/><circle cx="178.2" cy="290.4" r="0.6"/></g>
<path d="M24.9 285.2 L25.1 285.2 L25.4 285.2 L25.6 285.2 L25.8 285.2 L26.1 285.2 L26.3 285.2 L26.6 285.2 L26.8 285.3 L27 285.3 L27.3 285.3 L27.5 285.3 L27.7 285.3 L28 285.4 L28.2 285.4 L28.4 285.4 L28.7 285.4 L28.9 285.5 L29.1 285.5 L29.4 285.5 L29.6 285.6 L29.9 285.6 L30.1 285.7 L30.3 285.7 L30.6 285.7 L30.8 285.8 L31 285.8 L31.3 285.9 L31.5 285.9 L31.7 286 L32 286 L32.2 286.1 L32.4 286.1 L32.7 286.2 L32.9 286.3 L33.2 286.3 L33.4 286.4 L33.6 286.5 L33.9 286.5 L34.1 286.6 L34.3 286.7 L34.6 286.7 L34.8 286.8 L35 286.9 L35.3 287 L35.5 287 L35.8 287.1 L36 287.2 L36.2 287.3 L36.5 287.4 L36.7 287.4 L36.9 287.5 L37.2 287.6 L37.4 287.7 L37.6 287.8 L37.9 287.9 L38.1 288 L38.3 288.1 L38.6 288.2 L38.8 288.3 L39.1 288.4 L39.3 288.5 L39.5 288.6 L39.8 288.7 L40 288.8 L40.2 288.9 L40.5 289 L40.7 289.1 L40.9 289.2 L41.2 289.3 L41.4 289.4 L41.6 289.5 L41.9 289.6 L42.1 289.7 L42.4 289.9 L42.6 290 L42.8 290.1 L43.1 290.3 L43.3 290.4" fill="none" stroke="#0c0cb4" stroke-width="4.8" stroke-linecap="round"/>
<path d="M24.9 285.2 L25.1 285.2 L25.4 285.2 L25.6 285.2 L25.8 285.2 L26.1 285.2 L26.3 285.2 L26.6 285.2 L26.8 285.3 L27 285.3 L27.3 285.3 L27.5 285.3 L27.7 285.3 L28 285.4 L28.2 285.4 L28.4 285.4 L28.7 285.4 L28.9 285.5 L29.1 285.5 L29.4 285.5 L29.6 285.6 L29.9 285.6 L30.1 285.7 L30.3 285.7 L30.6 285.7 L30.8 285.8 L31 285.8 L31.3 285.9 L31.5 285.9 L31.7 286 L32 286 L32.2 286.1 L32.4 286.1 L32.7 286.2 L32.9 286.3 L33.2 286.3 L33.4 286.4 L33.6 286.5 L33.9 286.5 L34.1 286.6 L34.3 286.7 L34.6 286.7 L34.8 286.8 L35 286.9 L35.3 287 L35.5 287 L35.8 287.1 L36 287.2 L36.2 287.3 L36.5 287.4 L36.7 287.4 L36.9 287.5 L37.2 287.6 L37.4 287.7 L37.6 287.8 L37.9 287.9 L38.1 288 L38.3 288.1 L38.6 288.2 L38.8 288.3 L39.1 288.4 L39.3 288.5 L39.5 288.6 L39.8 288.7 L40 288.8 L40.2 288.9 L40.5 289 L40.7 289.1 L40.9 289.2 L41.2 289.3 L41.4 289.4 L41.6 289.5 L41.9 289.6 L42.1 289.7 L42.4 289.9 L42.6 290 L42.8 290.1 L43.1 290.3 L43.3 290.4" fill="none" stroke="#1d1de0" stroke-width="3.6" stroke-linecap="round"/>
<g fill="#1f1fe4" stroke="#0a0a9a" stroke-width="0.45"><circle cx="25.4" cy="285.2" r="2.2"/><circle cx="28.4" cy="285.4" r="2.2"/><circle cx="31.4" cy="285.9" r="2.2"/><circle cx="34.4" cy="286.7" r="2.2"/><circle cx="37.4" cy="287.7" r="2.2"/><circle cx="40.4" cy="288.9" r="2.2"/><circle cx="43.3" cy="290.4" r="2.2"/></g>
<g fill="#dc1c50"><circle cx="25.4" cy="285.2" r="1.2"/><circle cx="28.4" cy="285.4" r="1.2"/><circle cx="31.4" cy="285.9" r="1.2"/><circle cx="34.4" cy="286.7" r="1.2"/><circle cx="37.4" cy="287.7" r="1.2"/><circle cx="40.4" cy="288.9" r="1.2"/><circle cx="43.3" cy="290.4" r="1.2"/></g>
<path d="M43.3 290.4 L43.7 290.2 L44.1 289.9 L44.6 289.7 L45 289.4 L45.4 289.2 L45.8 289 L46.2 288.8 L46.7 288.5 L47.1 288.3 L47.5 288.2 L47.9 288 L48.3 287.8 L48.8 287.6 L49.2 287.4 L49.6 287.3 L50 287.1 L50.4 287 L50.8 286.8 L51.3 286.7 L51.7 286.5 L52.1 286.4 L52.5 286.3 L52.9 286.1 L53.4 286 L53.8 285.9 L54.2 285.8 L54.6 285.7 L55 285.7 L55.5 285.6 L55.9 285.5 L56.3 285.4 L56.7 285.4 L57.1 285.3 L57.6 285.3 L58 285.3 L58.4 285.2 L58.8 285.2 L59.2 285.2 L59.7 285.2 L60.1 285.2 L60.5 285.2 L60.9 285.2 L61.3 285.3 L61.7 285.3 L62.2 285.3 L62.6 285.4 L63 285.4 L63.4 285.5 L63.8 285.6 L64.3 285.7 L64.7 285.7 L65.1 285.8 L65.5 285.9 L65.9 286 L66.4 286.1 L66.8 286.3 L67.2 286.4 L67.6 286.5 L68 286.7 L68.5 286.8 L68.9 287 L69.3 287.1 L69.7 287.3 L70.1 287.4 L70.5 287.6 L71 287.8 L71.4 288 L71.8 288.2 L72.2 288.3 L72.6 288.5 L73.1 288.8 L73.5 289 L73.9 289.2 L74.3 289.4 L74.7 289.7 L75.2 289.9 L75.6 290.2 L76 290.4" fill="none" stroke="#0c0cb4" stroke-width="4.8" stroke-linecap="round"/>
<path d="M43.3 290.4 L43.7 290.2 L44.1 289.9 L44.6 289.7 L45 289.4 L45.4 289.2 L45.8 289 L46.2 288.8 L46.7 288.5 L47.1 288.3 L47.5 288.2 L47.9 288 L48.3 287.8 L48.8 287.6 L49.2 287.4 L49.6 287.3 L50 287.1 L50.4 287 L50.8 286.8 L51.3 286.7 L51.7 286.5 L52.1 286.4 L52.5 286.3 L52.9 286.1 L53.4 286 L53.8 285.9 L54.2 285.8 L54.6 285.7 L55 285.7 L55.5 285.6 L55.9 285.5 L56.3 285.4 L56.7 285.4 L57.1 285.3 L57.6 285.3 L58 285.3 L58.4 285.2 L58.8 285.2 L59.2 285.2 L59.7 285.2 L60.1 285.2 L60.5 285.2 L60.9 285.2 L61.3 285.3 L61.7 285.3 L62.2 285.3 L62.6 285.4 L63 285.4 L63.4 285.5 L63.8 285.6 L64.3 285.7 L64.7 285.7 L65.1 285.8 L65.5 285.9 L65.9 286 L66.4 286.1 L66.8 286.3 L67.2 286.4 L67.6 286.5 L68 286.7 L68.5 286.8 L68.9 287 L69.3 287.1 L69.7 287.3 L70.1 287.4 L70.5 287.6 L71 287.8 L71.4 288 L71.8 288.2 L72.2 288.3 L72.6 288.5 L73.1 288.8 L73.5 289 L73.9 289.2 L74.3 289.4 L74.7 289.7 L75.2 289.9 L75.6 290.2 L76 290.4" fill="none" stroke="#1d1de0" stroke-width="3.6" stroke-linecap="round"/>
<g fill="#1f1fe4" stroke="#0a0a9a" stroke-width="0.45"><circle cx="43.4" cy="290.3" r="2.2"/><circle cx="46.4" cy="288.7" r="2.2"/><circle cx="49.4" cy="287.3" r="2.2"/><circle cx="52.4" cy="286.3" r="2.2"/><circle cx="55.4" cy="285.6" r="2.2"/><circle cx="58.4" cy="285.2" r="2.2"/><circle cx="61.4" cy="285.3" r="2.2"/><circle cx="64.4" cy="285.7" r="2.2"/><circle cx="67.4" cy="286.5" r="2.2"/><circle cx="70.4" cy="287.6" r="2.2"/><circle cx="73.4" cy="288.9" r="2.2"/><circle cx="76" cy="290.4" r="2.2"/></g>
<g fill="#dc1c50"><circle cx="43.4" cy="290.3" r="1.2"/><circle cx="46.4" cy="288.7" r="1.2"/><circle cx="49.4" cy="287.3" r="1.2"/><circle cx="52.4" cy="286.3" r="1.2"/><circle cx="55.4" cy="285.6" r="1.2"/><circle cx="58.4" cy="285.2" r="1.2"/><circle cx="61.4" cy="285.3" r="1.2"/><circle cx="64.4" cy="285.7" r="1.2"/><circle cx="67.4" cy="286.5" r="1.2"/><circle cx="70.4" cy="287.6" r="1.2"/><circle cx="73.4" cy="288.9" r="1.2"/><circle cx="76" cy="290.4" r="1.2"/></g>
<path d="M76 290.4 L76.5 290.2 L77 289.9 L77.5 289.7 L78.1 289.4 L78.6 289.2 L79.1 289 L79.6 288.8 L80.1 288.5 L80.6 288.3 L81.2 288.2 L81.7 288 L82.2 287.8 L82.7 287.6 L83.2 287.4 L83.7 287.3 L84.2 287.1 L84.8 287 L85.3 286.8 L85.8 286.7 L86.3 286.5 L86.8 286.4 L87.3 286.3 L87.9 286.1 L88.4 286 L88.9 285.9 L89.4 285.8 L89.9 285.7 L90.4 285.7 L90.9 285.6 L91.5 285.5 L92 285.4 L92.5 285.4 L93 285.3 L93.5 285.3 L94 285.3 L94.6 285.2 L95.1 285.2 L95.6 285.2 L96.1 285.2 L96.6 285.2 L97.1 285.2 L97.6 285.2 L98.2 285.3 L98.7 285.3 L99.2 285.3 L99.7 285.4 L100.2 285.4 L100.7 285.5 L101.3 285.6 L101.8 285.7 L102.3 285.7 L102.8 285.8 L103.3 285.9 L103.8 286 L104.3 286.1 L104.9 286.3 L105.4 286.4 L105.9 286.5 L106.4 286.7 L106.9 286.8 L107.4 287 L108 287.1 L108.5 287.3 L109 287.4 L109.5 287.6 L110 287.8 L110.5 288 L111 288.2 L111.6 288.3 L112.1 288.5 L112.6 288.8 L113.1 289 L113.6 289.2 L114.1 289.4 L114.7 289.7 L115.2 289.9 L115.7 290.2 L116.2 290.4" fill="none" stroke="#0c0cb4" stroke-width="4.8" stroke-linecap="round"/>
<path d="M76 290.4 L76.5 290.2 L77 289.9 L77.5 289.7 L78.1 289.4 L78.6 289.2 L79.1 289 L79.6 288.8 L80.1 288.5 L80.6 288.3 L81.2 288.2 L81.7 288 L82.2 287.8 L82.7 287.6 L83.2 287.4 L83.7 287.3 L84.2 287.1 L84.8 287 L85.3 286.8 L85.8 286.7 L86.3 286.5 L86.8 286.4 L87.3 286.3 L87.9 286.1 L88.4 286 L88.9 285.9 L89.4 285.8 L89.9 285.7 L90.4 285.7 L90.9 285.6 L91.5 285.5 L92 285.4 L92.5 285.4 L93 285.3 L93.5 285.3 L94 285.3 L94.6 285.2 L95.1 285.2 L95.6 285.2 L96.1 285.2 L96.6 285.2 L97.1 285.2 L97.6 285.2 L98.2 285.3 L98.7 285.3 L99.2 285.3 L99.7 285.4 L100.2 285.4 L100.7 285.5 L101.3 285.6 L101.8 285.7 L102.3 285.7 L102.8 285.8 L103.3 285.9 L103.8 286 L104.3 286.1 L104.9 286.3 L105.4 286.4 L105.9 286.5 L106.4 286.7 L106.9 286.8 L107.4 287 L108 287.1 L108.5 287.3 L109 287.4 L109.5 287.6 L110 287.8 L110.5 288 L111 288.2 L111.6 288.3 L112.1 288.5 L112.6 288.8 L113.1 289 L113.6 289.2 L114.1 289.4 L114.7 289.7 L115.2 289.9 L115.7 290.2 L116.2 290.4" fill="none" stroke="#1d1de0" stroke-width="3.6" stroke-linecap="round"/>
<g fill="#1f1fe4" stroke="#0a0a9a" stroke-width="0.45"><circle cx="76.4" cy="290.2" r="2.2"/><circle cx="79.4" cy="288.8" r="2.2"/><circle cx="82.4" cy="287.7" r="2.2"/><circle cx="85.4" cy="286.8" r="2.2"/><circle cx="88.4" cy="286" r="2.2"/><circle cx="91.4" cy="285.5" r="2.2"/><circle cx="94.4" cy="285.2" r="2.2"/><circle cx="97.4" cy="285.2" r="2.2"/><circle cx="100.4" cy="285.5" r="2.2"/><circle cx="103.4" cy="285.9" r="2.2"/><circle cx="106.4" cy="286.7" r="2.2"/><circle cx="109.4" cy="287.6" r="2.2"/><circle cx="112.4" cy="288.7" r="2.2"/><circle cx="115.4" cy="290" r="2.2"/></g>
<g fill="#dc1c50"><circle cx="76.4" cy="290.2" r="1.2"/><circle cx="79.4" cy="288.8" r="1.2"/><circle cx="82.4" cy="287.7" r="1.2"/><circle cx="85.4" cy="286.8" r="1.2"/><circle cx="88.4" cy="286" r="1.2"/><circle cx="91.4" cy="285.5" r="1.2"/><circle cx="94.4" cy="285.2" r="1.2"/><circle cx="97.4" cy="285.2" r="1.2"/><circle cx="100.4" cy="285.5" r="1.2"/><circle cx="103.4" cy="285.9" r="1.2"/><circle cx="106.4" cy="286.7" r="1.2"/><circle cx="109.4" cy="287.6" r="1.2"/><circle cx="112.4" cy="288.7" r="1.2"/><circle cx="115.4" cy="290" r="1.2"/></g>
<path d="M116.2 290.4 L116.4 290.3 L116.5 290.1 L116.7 290 L116.9 289.9 L117.1 289.7 L117.2 289.6 L117.4 289.5 L117.6 289.4 L117.7 289.3 L117.9 289.2 L118.1 289.1 L118.3 289 L118.4 288.9 L118.6 288.8 L118.8 288.7 L118.9 288.6 L119.1 288.5 L119.3 288.4 L119.5 288.3 L119.6 288.2 L119.8 288.1 L120 288 L120.2 287.9 L120.3 287.8 L120.5 287.7 L120.7 287.6 L120.8 287.5 L121 287.4 L121.2 287.4 L121.4 287.3 L121.5 287.2 L121.7 287.1 L121.9 287 L122 287 L122.2 286.9 L122.4 286.8 L122.6 286.7 L122.7 286.7 L122.9 286.6 L123.1 286.5 L123.2 286.5 L123.4 286.4 L123.6 286.3 L123.8 286.3 L123.9 286.2 L124.1 286.1 L124.3 286.1 L124.4 286 L124.6 286 L124.8 285.9 L125 285.9 L125.1 285.8 L125.3 285.8 L125.5 285.7 L125.6 285.7 L125.8 285.7 L126 285.6 L126.2 285.6 L126.3 285.5 L126.5 285.5 L126.7 285.5 L126.9 285.4 L127 285.4 L127.2 285.4 L127.4 285.4 L127.5 285.3 L127.7 285.3 L127.9 285.3 L128.1 285.3 L128.2 285.3 L128.4 285.2 L128.6 285.2 L128.7 285.2 L128.9 285.2 L129.1 285.2 L129.3 285.2 L129.4 285.2 L129.6 285.2" fill="none" stroke="#0c0cb4" stroke-width="4.8" stroke-linecap="round"/>
<path d="M116.2 290.4 L116.4 290.3 L116.5 290.1 L116.7 290 L116.9 289.9 L117.1 289.7 L117.2 289.6 L117.4 289.5 L117.6 289.4 L117.7 289.3 L117.9 289.2 L118.1 289.1 L118.3 289 L118.4 288.9 L118.6 288.8 L118.8 288.7 L118.9 288.6 L119.1 288.5 L119.3 288.4 L119.5 288.3 L119.6 288.2 L119.8 288.1 L120 288 L120.2 287.9 L120.3 287.8 L120.5 287.7 L120.7 287.6 L120.8 287.5 L121 287.4 L121.2 287.4 L121.4 287.3 L121.5 287.2 L121.7 287.1 L121.9 287 L122 287 L122.2 286.9 L122.4 286.8 L122.6 286.7 L122.7 286.7 L122.9 286.6 L123.1 286.5 L123.2 286.5 L123.4 286.4 L123.6 286.3 L123.8 286.3 L123.9 286.2 L124.1 286.1 L124.3 286.1 L124.4 286 L124.6 286 L124.8 285.9 L125 285.9 L125.1 285.8 L125.3 285.8 L125.5 285.7 L125.6 285.7 L125.8 285.7 L126 285.6 L126.2 285.6 L126.3 285.5 L126.5 285.5 L126.7 285.5 L126.9 285.4 L127 285.4 L127.2 285.4 L127.4 285.4 L127.5 285.3 L127.7 285.3 L127.9 285.3 L128.1 285.3 L128.2 285.3 L128.4 285.2 L128.6 285.2 L128.7 285.2 L128.9 285.2 L129.1 285.2 L129.3 285.2 L129.4 285.2 L129.6 285.2" fill="none" stroke="#1d1de0" stroke-width="3.6" stroke-linecap="round"/>
<g fill="#1f1fe4" stroke="#0a0a9a" stroke-width="0.45"><circle cx="118.4" cy="288.9" r="2.2"/><circle cx="121.4" cy="287.3" r="2.2"/><circle cx="124.4" cy="286.1" r="2.2"/><circle cx="127.4" cy="285.4" r="2.2"/></g>
<g fill="#dc1c50"><circle cx="118.4" cy="288.9" r="1.2"/><circle cx="121.4" cy="287.3" r="1.2"/><circle cx="124.4" cy="286.1" r="1.2"/><circle cx="127.4" cy="285.4" r="1.2"/></g>
<path d="M129.4 290.4 L130 290.2 L130.7 289.9 L131.3 289.7 L131.9 289.4 L132.5 289.2 L133.2 289 L133.8 288.8 L134.4 288.5 L135 288.3 L135.7 288.2 L136.3 288 L136.9 287.8 L137.5 287.6 L138.2 287.4 L138.8 287.3 L139.4 287.1 L140 287 L140.7 286.8 L141.3 286.7 L141.9 286.5 L142.5 286.4 L143.2 286.3 L143.8 286.1 L144.4 286 L145 285.9 L145.7 285.8 L146.3 285.7 L146.9 285.7 L147.5 285.6 L148.2 285.5 L148.8 285.4 L149.4 285.4 L150 285.3 L150.7 285.3 L151.3 285.3 L151.9 285.2 L152.5 285.2 L153.2 285.2 L153.8 285.2 L154.4 285.2 L155.1 285.2 L155.7 285.2 L156.3 285.3 L156.9 285.3 L157.6 285.3 L158.2 285.4 L158.8 285.4 L159.4 285.5 L160.1 285.6 L160.7 285.7 L161.3 285.7 L161.9 285.8 L162.6 285.9 L163.2 286 L163.8 286.1 L164.4 286.3 L165.1 286.4 L165.7 286.5 L166.3 286.7 L166.9 286.8 L167.6 287 L168.2 287.1 L168.8 287.3 L169.4 287.4 L170.1 287.6 L170.7 287.8 L171.3 288 L171.9 288.2 L172.6 288.3 L173.2 288.5 L173.8 288.8 L174.4 289 L175.1 289.2 L175.7 289.4 L176.3 289.7 L176.9 289.9 L177.6 290.2 L178.2 290.4" fill="none" stroke="#0c0cb4" stroke-width="4.8" stroke-linecap="round"/>
<path d="M129.4 290.4 L130 290.2 L130.7 289.9 L131.3 289.7 L131.9 289.4 L132.5 289.2 L133.2 289 L133.8 288.8 L134.4 288.5 L135 288.3 L135.7 288.2 L136.3 288 L136.9 287.8 L137.5 287.6 L138.2 287.4 L138.8 287.3 L139.4 287.1 L140 287 L140.7 286.8 L141.3 286.7 L141.9 286.5 L142.5 286.4 L143.2 286.3 L143.8 286.1 L144.4 286 L145 285.9 L145.7 285.8 L146.3 285.7 L146.9 285.7 L147.5 285.6 L148.2 285.5 L148.8 285.4 L149.4 285.4 L150 285.3 L150.7 285.3 L151.3 285.3 L151.9 285.2 L152.5 285.2 L153.2 285.2 L153.8 285.2 L154.4 285.2 L155.1 285.2 L155.7 285.2 L156.3 285.3 L156.9 285.3 L157.6 285.3 L158.2 285.4 L158.8 285.4 L159.4 285.5 L160.1 285.6 L160.7 285.7 L161.3 285.7 L161.9 285.8 L162.6 285.9 L163.2 286 L163.8 286.1 L164.4 286.3 L165.1 286.4 L165.7 286.5 L166.3 286.7 L166.9 286.8 L167.6 287 L168.2 287.1 L168.8 287.3 L169.4 287.4 L170.1 287.6 L170.7 287.8 L171.3 288 L171.9 288.2 L172.6 288.3 L173.2 288.5 L173.8 288.8 L174.4 289 L175.1 289.2 L175.7 289.4 L176.3 289.7 L176.9 289.9 L177.6 290.2 L178.2 290.4" fill="none" stroke="#1d1de0" stroke-width="3.6" stroke-linecap="round"/>
<g fill="#1f1fe4" stroke="#0a0a9a" stroke-width="0.45"><circle cx="130.4" cy="290" r="2.2"/><circle cx="133.4" cy="288.9" r="2.2"/><circle cx="136.4" cy="287.9" r="2.2"/><circle cx="139.4" cy="287.1" r="2.2"/><circle cx="142.4" cy="286.4" r="2.2"/><circle cx="145.4" cy="285.9" r="2.2"/><circle cx="148.4" cy="285.5" r="2.2"/><circle cx="151.4" cy="285.3" r="2.2"/><circle cx="154.4" cy="285.2" r="2.2"/><circle cx="157.4" cy="285.3" r="2.2"/><circle cx="160.4" cy="285.6" r="2.2"/><circle cx="163.4" cy="286.1" r="2.2"/><circle cx="166.4" cy="286.7" r="2.2"/><circle cx="169.4" cy="287.4" r="2.2"/><circle cx="172.4" cy="288.3" r="2.2"/><circle cx="175.4" cy="289.3" r="2.2"/><circle cx="178.2" cy="290.4" r="2.2"/></g>
<g fill="#dc1c50"><circle cx="130.4" cy="290" r="1.2"/><circle cx="133.4" cy="288.9" r="1.2"/><circle cx="136.4" cy="287.9" r="1.2"/><circle cx="139.4" cy="287.1" r="1.2"/><circle cx="142.4" cy="286.4" r="1.2"/><circle cx="145.4" cy="285.9" r="1.2"/><circle cx="148.4" cy="285.5" r="1.2"/><circle cx="151.4" cy="285.3" r="1.2"/><circle cx="154.4" cy="285.2" r="1.2"/><circle cx="157.4" cy="285.3" r="1.2"/><circle cx="160.4" cy="285.6" r="1.2"/><circle cx="163.4" cy="286.1" r="1.2"/><circle cx="166.4" cy="286.7" r="1.2"/><circle cx="169.4" cy="287.4" r="1.2"/><circle cx="172.4" cy="288.3" r="1.2"/><circle cx="175.4" cy="289.3" r="1.2"/><circle cx="178.2" cy="290.4" r="1.2"/></g>
<g fill="none" stroke="#ecc4c4" stroke-width="0.45">
<path d="M25.1 247.1 L25.7 246.9 L26.2 246.7 L26.8 246.6 L27.4 246.4 L28 246.2 L28.5 245.9 L29 245.6 L29.6 245.3 L30.1 244.9 L30.6 244.5 L31.1 244.1 L31.6 243.6 L32.1 243.1 L32.6 242.5 L33.2 241.8 L33.7 241.1 L34.2 240.4 L34.7 239.7 L35.2 239 L35.7 238.2 L36.2 237.4 L36.8 236.5 L37.3 235.7 L37.8 234.8 L38.3 233.9 L38.8 232.9 L39.3 231.9 L39.9 230.9 L40.4 229.9 L40.9 228.9 L41.4 227.9 L41.9 226.8 L42.5 225.8 L43 224.7 L43.5 223.7 L44 222.7 L44.5 221.7 L45 220.7 L45.5 219.7 L46 218.8 L46.5 217.8 L47 216.9 L47.5 216 L48 215 L48.5 214.1 L49.1 213.3 L49.6 212.4 L50.1 211.6 L50.6 210.8 L51.1 210.1 L51.6 209.3 L52.1 208.7 L52.6 208.1 L53.2 207.6 L53.8 207.2 L54.4 207 L55.1 206.8 L55.7 206.7 L56.4 206.6 L57 206.4"/>
<path d="M24.9 206.8 L26.6 206.8 L28.3 206.8 L30 206.8 L31.6 206.8 L33.3 206.8 L35 206.8 L36.7 206.8 L38.4 206.8 L40.1 206.8 L41.8 206.8 L43.4 206.8 L45 206.8 L46.5 206.8 L48 206.8 L49.4 206.9 L50.8 206.9 L52.1 206.8 L53.2 206.8 L54.2 206.7 L55.1 206.6 L55.8 206.4 L56.5 206.3 L57.2 206.1 L58 206 L58.8 205.9 L59.6 205.7 L60.4 205.6 L61.2 205.5 L61.9 205.4 L62.7 205.3 L63.4 205.3 L64.2 205.2 L64.9 205.2 L65.6 205.3 L66.3 205.3 L67 205.3 L67.7 205.3 L68.4 205.4 L69 205.4 L69.7 205.5 L70.3 205.5 L71 205.6 L71.7 205.7 L72.4 205.8 L73.1 205.9 L73.8 206.1 L74.4 206.2 L75 206.4 L75.5 206.6 L75.8 206.7 L76.2 206.9 L76.5 207.1 L76.8 207.3 L77.2 207.6 L77.7 208 L78.2 208.4 L78.7 208.9 L79.2 209.4 L79.8 209.9 L80.3 210.4 L80.8 210.9 L81.3 211.4 L81.8 212 L82.4 212.5 L82.9 213 L83.4 213.5 L83.9 213.9 L84.4 214.3 L85 214.7 L85.5 215.1 L86 215.4 L86.5 215.8 L87 216.2 L87.5 216.5 L88.1 216.9 L88.6 217.2 L89.1 217.6 L89.6 218.1 L90.1 218.7 L90.6 219.3 L91.1 220 L91.6 220.6 L92.1 221.3 L92.6 222 L93.1 222.6 L93.6 223.3 L94.1 224 L94.7 224.6 L95.2 225.2 L95.7 225.8 L96.2 226.4 L96.7 226.9 L97.2 227.4 L97.8 228 L98.3 228.4 L98.8 228.9 L99.3 229.3 L99.8 229.8 L100.3 230.2 L100.8 230.5 L101.4 230.9 L101.9 231.2 L102.5 231.5 L103.1 231.7 L103.7 232 L104.3 232.2 L104.9 232.4 L105.5 232.6 L106.1 232.8 L106.7 233 L107.4 233.2 L108 233.4 L108.6 233.5 L109.1 233.6 L109.6 233.6 L110 233.6 L110.4 233.6 L110.9 233.5 L111.3 233.4 L111.8 233.2 L112.4 233 L113 232.9 L113.6 232.7 L114.3 232.4 L114.9 232 L115.5 231.4 L116 230.6 L116.5 229.6 L117 228.5 L117.5 227.3 L118 226.1 L118.5 225 L119 223.9 L119.5 222.9 L120 221.9 L120.6 220.8 L121.2 219.7 L121.8 218.6 L122.5 217.4 L123.3 216.2 L124.1 214.9 L124.9 213.6 L125.7 212.5 L126.4 211.4 L127 210.5 L127.5 209.7 L128 208.9 L128.4 208.2 L128.8 207.5 L129.3 206.8"/>
<path d="M93.5 204.4 L93.9 204.5 L94.2 204.5 L94.5 204.6 L94.9 204.7 L95.3 204.9 L95.7 205.2 L96.2 205.7 L96.7 206.4 L97.2 207.1 L97.7 207.9 L98.3 208.8 L98.8 209.6 L99.3 210.4 L99.8 211.3 L100.3 212.2 L100.8 213.2 L101.4 214.1 L101.9 215 L102.5 215.9 L103 216.7 L103.6 217.6 L104.1 218.5 L104.8 219.4 L105.5 220.5 L106.3 221.8 L107.2 223.2 L108.1 224.7 L109.1 226.1 L110 227.5 L110.9 228.6 L111.7 229.5 L112.5 230.1 L113.3 230.6 L114.1 231.1 L114.8 231.6 L115.5 232.3 L116.2 233.1 L116.8 234 L117.4 234.9 L117.9 235.9 L118.5 236.8 L119.1 237.7 L119.7 238.5 L120.3 239.3 L120.9 240.1 L121.5 240.9 L122.1 241.6 L122.7 242.3 L123.3 243 L124 243.7 L124.6 244.3 L125.2 244.9 L125.8 245.4 L126.4 245.9 L126.9 246.3 L127.4 246.6 L127.9 246.8 L128.4 247 L128.8 247.2 L129.3 247.4"/>
<path d="M77.5 207 L77.8 206.7 L78.2 206.5 L78.5 206.2 L78.8 206 L79.1 205.7 L79.5 205.5 L79.9 205.3 L80.2 205.1 L80.6 204.9 L81 204.8 L81.4 204.6 L81.8 204.4"/>
<path d="M63.5 205.6 L63.9 205.8 L64.3 205.9 L64.7 206.1 L65.1 206.2 L65.5 206.4 L66 206.6 L66.6 206.8 L67.2 207.1 L67.9 207.4 L68.6 207.7 L69.3 208 L70 208.2 L70.7 208.3 L71.4 208.4 L72.1 208.5 L72.8 208.5 L73.4 208.5 L74 208.5 L74.5 208.5 L75 208.4 L75.5 208.3 L75.9 208.1 L76.3 208 L76.8 207.9"/>
<path d="M130 204.2 L130.4 204.4 L130.7 204.6 L130.9 204.8 L131.3 204.9 L131.9 205.1 L132.7 205.3 L133.9 205.5 L135.3 205.7 L137 205.8 L138.7 206 L140.3 206.2 L141.8 206.3 L143.1 206.4 L144.4 206.5 L145.6 206.6 L146.8 206.7 L147.9 206.8 L149 206.8 L150.1 206.8 L151.1 206.8 L152 206.8 L153 206.7 L154 206.7 L155 206.6 L156.1 206.5 L157.2 206.5 L158.4 206.4 L159.6 206.4 L160.8 206.3 L162 206.2 L163.3 206.1 L164.7 206 L166.1 205.9 L167.4 205.8 L168.8 205.6 L170 205.5 L171.1 205.4 L172.1 205.2 L173.1 205 L174.1 204.8 L175 204.7 L176 204.5"/>
<path d="M130 212.3 L130.6 213.3 L131.2 214.3 L131.7 215.3 L132.3 216.4 L132.9 217.4 L133.6 218.6 L134.3 219.8 L135 221.2 L135.8 222.5 L136.6 223.9 L137.4 225.4 L138.2 226.8 L139.1 228.3 L139.9 229.8 L140.8 231.4 L141.8 233 L142.7 234.5 L143.6 235.9 L144.5 237.3 L145.4 238.6 L146.3 239.9 L147.2 241.1 L148.1 242.2 L149 243.2 L149.9 244.1 L150.8 244.9 L151.7 245.6 L152.7 246.2 L153.6 246.6 L154.5 246.8 L155.4 246.7 L156.4 246.5 L157.3 246 L158.2 245.4 L159.1 244.8 L160 244.1 L160.8 243.4 L161.6 242.5 L162.4 241.6 L163.1 240.6 L163.8 239.6 L164.5 238.6 L165.2 237.6 L165.8 236.6 L166.3 235.6 L166.9 234.6 L167.5 233.5 L168.2 232.3 L168.9 231.1 L169.7 229.7 L170.4 228.4 L171.2 227 L172 225.5 L172.7 224.1 L173.4 222.6 L174.1 221 L174.7 219.4 L175.3 217.8 L175.9 216.3 L176.4 215 L176.8 213.9 L177.1 212.9 L177.4 212 L177.7 211.2 L177.9 210.4 L178.2 209.5"/>
</g>
<g fill="#74ecea">
<circle cx="55.4" cy="206.8" r="2.0"/>
<circle cx="55.4" cy="206.5" r="2.0"/>
<circle cx="58.4" cy="205.9" r="2.0"/>
<circle cx="61.4" cy="205.4" r="2.0"/>
<circle cx="64.4" cy="205.2" r="2.0"/>
<circle cx="67.4" cy="205.3" r="2.0"/>
<circle cx="70.4" cy="205.5" r="2.0"/>
<circle cx="73.4" cy="206" r="2.0"/>
<circle cx="76.4" cy="207" r="2.0"/>
<circle cx="79.4" cy="209.5" r="2.0"/>
<circle cx="82.4" cy="212.5" r="2.0"/>
<circle cx="79.4" cy="205.6" r="2.0"/>
<circle cx="64.4" cy="206" r="2.0"/>
<circle cx="67.4" cy="207.2" r="2.0"/>
<circle cx="70.4" cy="208.3" r="2.0"/>
<circle cx="73.4" cy="208.5" r="2.0"/>
<circle cx="76.4" cy="208" r="2.0"/>
</g>
<g fill="#b3121d" stroke="#8c0c14" stroke-width="0.35">
<circle cx="25.4" cy="247" r="1.05"/>
<circle cx="28.4" cy="246" r="1.05"/>
<circle cx="31.4" cy="243.8" r="1.05"/>
<circle cx="34.4" cy="240.1" r="1.05"/>
<circle cx="37.4" cy="235.5" r="1.05"/>
<circle cx="40.4" cy="229.9" r="1.05"/>
<circle cx="43.4" cy="223.9" r="1.05"/>
<circle cx="46.4" cy="218" r="1.05"/>
<circle cx="49.4" cy="212.7" r="1.05"/>
<circle cx="52.4" cy="208.3" r="1.05"/>
<circle cx="25.4" cy="206.8" r="1.05"/>
<circle cx="28.4" cy="206.8" r="1.05"/>
<circle cx="31.4" cy="206.8" r="1.05"/>
<circle cx="34.4" cy="206.8" r="1.05"/>
<circle cx="37.4" cy="206.8" r="1.05"/>
<circle cx="40.4" cy="206.8" r="1.05"/>
<circle cx="43.4" cy="206.8" r="1.05"/>
<circle cx="46.4" cy="206.8" r="1.05"/>
<circle cx="49.4" cy="206.8" r="1.05"/>
<circle cx="52.4" cy="206.8" r="1.05"/>
<circle cx="85.4" cy="215" r="1.05"/>
<circle cx="88.4" cy="217.1" r="1.05"/>
<circle cx="91.4" cy="220.4" r="1.05"/>
<circle cx="94.4" cy="224.3" r="1.05"/>
<circle cx="97.4" cy="227.6" r="1.05"/>
<circle cx="100.4" cy="230.2" r="1.05"/>
<circle cx="103.4" cy="231.9" r="1.05"/>
<circle cx="106.4" cy="232.9" r="1.05"/>
<circle cx="109.4" cy="233.6" r="1.05"/>
<circle cx="112.4" cy="233" r="1.05"/>
<circle cx="115.4" cy="231.5" r="1.05"/>
<circle cx="118.4" cy="225.2" r="1.05"/>
<circle cx="121.4" cy="219.3" r="1.05"/>
<circle cx="124.4" cy="214.5" r="1.05"/>
<circle cx="127.4" cy="209.8" r="1.05"/>
<circle cx="94.4" cy="204.6" r="1.05"/>
<circle cx="97.4" cy="207.4" r="1.05"/>
<circle cx="100.4" cy="212.4" r="1.05"/>
<circle cx="103.4" cy="217.3" r="1.05"/>
<circle cx="106.4" cy="221.9" r="1.05"/>
<circle cx="109.4" cy="226.6" r="1.05"/>
<circle cx="112.4" cy="230" r="1.05"/>
<circle cx="115.4" cy="232.2" r="1.05"/>
<circle cx="118.4" cy="236.6" r="1.05"/>
<circle cx="121.4" cy="240.8" r="1.05"/>
<circle cx="124.4" cy="244.1" r="1.05"/>
<circle cx="127.4" cy="246.5" r="1.05"/>
<circle cx="130.4" cy="204.4" r="1.05"/>
<circle cx="133.4" cy="205.4" r="1.05"/>
<circle cx="136.4" cy="205.8" r="1.05"/>
<circle cx="139.4" cy="206.1" r="1.05"/>
<circle cx="142.4" cy="206.4" r="1.05"/>
<circle cx="145.4" cy="206.6" r="1.05"/>
<circle cx="148.4" cy="206.8" r="1.05"/>
<circle cx="151.4" cy="206.8" r="1.05"/>
<circle cx="154.4" cy="206.6" r="1.05"/>
<circle cx="157.4" cy="206.5" r="1.05"/>
<circle cx="160.4" cy="206.3" r="1.05"/>
<circle cx="163.4" cy="206.1" r="1.05"/>
<circle cx="166.4" cy="205.9" r="1.05"/>
<circle cx="169.4" cy="205.6" r="1.05"/>
<circle cx="172.4" cy="205.1" r="1.05"/>
<circle cx="175.4" cy="204.6" r="1.05"/>
<circle cx="130.4" cy="213" r="1.05"/>
<circle cx="133.4" cy="218.2" r="1.05"/>
<circle cx="136.4" cy="223.6" r="1.05"/>
<circle cx="139.4" cy="228.9" r="1.05"/>
<circle cx="142.4" cy="234" r="1.05"/>
<circle cx="145.4" cy="238.6" r="1.05"/>
<circle cx="148.4" cy="242.6" r="1.05"/>
<circle cx="151.4" cy="245.4" r="1.05"/>
<circle cx="154.4" cy="246.8" r="1.05"/>
<circle cx="157.4" cy="246" r="1.05"/>
<circle cx="160.4" cy="243.8" r="1.05"/>
<circle cx="163.4" cy="240.2" r="1.05"/>
<circle cx="166.4" cy="235.5" r="1.05"/>
<circle cx="169.4" cy="230.2" r="1.05"/>
<circle cx="172.4" cy="224.7" r="1.05"/>
<circle cx="175.4" cy="217.6" r="1.05"/>
<circle cx="178.2" cy="209.5" r="1.05"/>
</g>
<g fill="#a3142a" stroke="#6a0c1a" stroke-width="0.35">
<circle cx="55.4" cy="206.8" r="1.05"/>
<circle cx="55.4" cy="206.5" r="1.05"/>
<circle cx="58.4" cy="205.9" r="1.05"/>
<circle cx="61.4" cy="205.4" r="1.05"/>
<circle cx="64.4" cy="205.2" r="1.05"/>
<circle cx="67.4" cy="205.3" r="1.05"/>
<circle cx="70.4" cy="205.5" r="1.05"/>
<circle cx="73.4" cy="206" r="1.05"/>
<circle cx="76.4" cy="207" r="1.05"/>
<circle cx="79.4" cy="209.5" r="1.05"/>
<circle cx="82.4" cy="212.5" r="1.05"/>
<circle cx="79.4" cy="205.6" r="1.05"/>
<circle cx="64.4" cy="206" r="1.05"/>
<circle cx="67.4" cy="207.2" r="1.05"/>
<circle cx="70.4" cy="208.3" r="1.05"/>
<circle cx="73.4" cy="208.5" r="1.05"/>
<circle cx="76.4" cy="208" r="1.05"/>
</g>
</g>
<rect x="24.5" y="203.9" width="154" height="182.6" fill="none" stroke="#6c6c6c" stroke-width="1.0"/>
<path d="M22.3 386.5H24.5 M23.2 378.2H24.5 M23.2 369.9H24.5 M23.2 361.6H24.5 M22.3 353.3H24.5 M23.2 345H24.5 M23.2 336.7H24.5 M23.2 328.4H24.5 M22.3 320.1H24.5 M23.2 311.8H24.5 M23.2 303.5H24.5 M23.2 295.2H24.5 M22.3 286.9H24.5 M23.2 278.6H24.5 M23.2 270.3H24.5 M23.2 262H24.5 M22.3 253.7H24.5 M23.2 245.4H24.5 M23.2 237.1H24.5 M23.2 228.8H24.5 M22.3 220.5H24.5 M23.2 212.2H24.5 M23.2 203.9H24.5 M24.5 386.5V388.3 M62.8 386.5V388.3 M77.4 386.5V388.3 M115.3 386.5V388.3 M129.4 386.5V388.3 M154.6 386.5V388.3 M178.5 386.5V388.3" stroke="#666" stroke-width="0.6" fill="none"/>
<g font-family="'DejaVu Sans', 'Liberation Sans', sans-serif" font-size="6.1" fill="#262626" stroke="#262626" stroke-width="0.1"><text x="21.1" y="223" text-anchor="end">8</text><text x="21.1" y="256.2" text-anchor="end">6</text><text x="21.1" y="289.4" text-anchor="end">4</text><text x="21.1" y="322.6" text-anchor="end">2</text><text x="21.1" y="355.8" text-anchor="end">0</text><text x="21.1" y="389" text-anchor="end">−2</text><text x="24.5" y="395.1" text-anchor="middle">Γ</text><text x="62.8" y="395.1" text-anchor="middle">Y</text><text x="77.4" y="395.1" text-anchor="middle">M</text><text x="115.3" y="395.1" text-anchor="middle">A</text><text x="129.4" y="395.1" text-anchor="middle">Γ|L</text><text x="154.6" y="395.1" text-anchor="middle">Γ</text><text x="178.5" y="395.1" text-anchor="middle">N</text></g>
<text font-family="'DejaVu Sans', 'Liberation Sans', sans-serif" font-size="5.7" fill="#262626" stroke="#262626" stroke-width="0.08" text-anchor="middle" transform="translate(8.9 295) rotate(-90)">Energy (eV)</text>
<text font-family="'Liberation Sans', Arial, sans-serif" font-size="7.9" font-weight="bold" fill="#1a1a1a" stroke="#1a1a1a" stroke-width="0.2" x="5.6" y="212.4">(c)</text>
<g>
<rect x="149" y="207.5" width="27.9" height="20.8" rx="1.3" fill="#ffffff" fill-opacity="0.8" stroke="#d6d6d6" stroke-width="0.5"/>
<circle cx="156.9" cy="211.4" r="1.85" fill="#0c0cc8"/>
<text font-family="'DejaVu Sans', 'Liberation Sans', sans-serif" font-size="5.8" font-style="italic" fill="#151515" stroke="#151515" stroke-width="0.13" x="166.1" y="213.5">Cu</text>
<circle cx="156.9" cy="217.7" r="1.85" fill="#38e8e8"/>
<text font-family="'DejaVu Sans', 'Liberation Sans', sans-serif" font-size="5.8" font-style="italic" fill="#151515" stroke="#151515" stroke-width="0.13" x="166.1" y="219.8">P</text>
<circle cx="156.9" cy="224" r="1.85" fill="#e8161c"/>
<text font-family="'DejaVu Sans', 'Liberation Sans', sans-serif" font-size="5.8" font-style="italic" fill="#151515" stroke="#151515" stroke-width="0.13" x="166.1" y="226.1">O</text>
</g>
</g>
<defs><clipPath id="clipd"><rect x="208.2" y="205.5" width="151.3" height="180.4"/></clipPath></defs>
<g>
<path d="M208.2 353.1H359.5 M245.8 205.5V385.9 M260.1 205.5V385.9 M297.3 205.5V385.9 M311.5 205.5V385.9 M336.1 205.5V385.9" stroke="#cfcfcf" stroke-width="0.8" fill="none"/>
<g clip-path="url(#clipd)">
<path d="M208.2 386.9 L208.2 353.4 L214.7 353.4 L221.5 353.4 L228.1 353.4 L234.4 353.4 L240 353.4 L244.8 353.4 L249.1 353.3 L252.9 353.3 L256.5 353.3 L260 353.2 L263.4 353.1 L266.5 353 L269.5 352.9 L272.3 352.8 L275 352.7 L277.6 352.7 L280.1 352.7 L282.5 352.8 L284.8 352.9 L287 353 L289.2 353.3 L291.4 353.6 L293.4 354 L295.4 354.3 L297.3 354.5 L299 354.5 L300.7 354.3 L302.2 354 L303.6 353.7 L305 353.5 L306.4 353.3 L307.7 353.2 L308.9 353.1 L310 352.9 L310.8 352.8 L311.2 352.7 L311.3 352.5 L311.3 352.4 L311.4 352.3 L312 352.2 L313 352.2 L314.1 352.3 L315.6 352.4 L317.5 352.5 L320 352.6 L323.2 352.7 L327.2 352.8 L331.5 352.9 L335.8 352.9 L340 353 L343.9 353 L347.8 353 L351.7 353 L355.6 353 L359.5 353 L359.5 386.9 Z" fill="#f20b0b"/>
<path d="M228.3 359.9 L228.8 360 L229.3 360.1 L229.8 360.1 L230.3 360.2 L230.7 360.2 L231.2 360.2 L231.7 360.2 L232.2 360.2 L232.7 360.2 L233.1 360.2 L233.6 360.1 L234.1 360.1 L234.6 360 L235 359.9 L235.5 359.8 L236 359.7 L236.4 359.6 L236.9 359.5 L237.4 359.3 L237.8 359.2 L238.3 359 L238.7 358.8 L239.2 358.6 L239.2 358.6 L238.7 358.5 L238.2 358.4 L237.7 358.3 L237.2 358.3 L236.8 358.2 L236.3 358.2 L235.8 358.2 L235.3 358.2 L234.8 358.2 L234.4 358.3 L233.9 358.3 L233.4 358.3 L232.9 358.4 L232.5 358.5 L232 358.6 L231.5 358.7 L231.1 358.8 L230.6 359 L230.1 359.1 L229.7 359.3 L229.2 359.5 L228.7 359.7 L228.3 359.9Z" fill="#fff"/>
<path d="M239.2 362.5 L239.7 362.8 L240.2 362.9 L240.7 363.1 L241.2 363.2 L241.7 363.3 L242.1 363.4 L242.6 363.5 L243.1 363.5 L243.6 363.6 L244.1 363.6 L244.5 363.5 L245 363.5 L245.5 363.4 L245.9 363.4 L246.4 363.3 L246.9 363.1 L247.3 363 L247.8 362.8 L248.3 362.6 L248.7 362.4 L249.2 362.2 L249.6 361.9 L250.1 361.6 L250.1 361.6 L249.6 361.3 L249.1 361.1 L248.6 361 L248.1 360.9 L247.6 360.7 L247.2 360.7 L246.7 360.6 L246.2 360.5 L245.7 360.5 L245.2 360.5 L244.8 360.5 L244.3 360.6 L243.8 360.6 L243.3 360.7 L242.9 360.8 L242.4 360.9 L241.9 361.1 L241.5 361.3 L241 361.5 L240.6 361.7 L240.1 361.9 L239.6 362.2 L239.2 362.5Z" fill="#fff"/>
<path d="M266.1 362.3 L267 362.5 L267.9 362.6 L268.7 362.7 L269.6 362.8 L270.5 362.8 L271.4 362.9 L272.2 362.9 L273.1 363 L274 363 L274.8 363 L275.7 363 L276.6 363 L277.4 362.9 L278.3 362.9 L279.2 362.8 L280 362.7 L280.9 362.6 L281.8 362.5 L282.6 362.4 L283.5 362.3 L284.3 362.2 L285.2 362.1 L286 362.2 L286 362.2 L285.3 361.6 L284.4 361.4 L283.5 361.3 L282.6 361.1 L281.7 361 L280.9 360.9 L280 360.9 L279.1 360.8 L278.3 360.8 L277.4 360.8 L276.5 360.8 L275.6 360.8 L274.8 360.8 L273.9 360.9 L273 361 L272.1 361.1 L271.3 361.2 L270.4 361.3 L269.5 361.5 L268.7 361.6 L267.8 361.8 L267 362 L266.1 362.3Z" fill="#fff"/>
<path d="M219.5 373.9 L219.9 374 L220.3 374.1 L220.7 374.2 L221.1 374.2 L221.5 374.3 L221.9 374.3 L222.3 374.3 L222.7 374.3 L223.1 374.3 L223.5 374.3 L223.9 374.2 L224.2 374.2 L224.6 374.1 L225 374 L225.4 373.9 L225.7 373.8 L226.1 373.7 L226.5 373.5 L226.8 373.4 L227.2 373.2 L227.6 373.1 L227.9 372.9 L228.3 372.6 L228.3 372.6 L227.9 372.5 L227.5 372.4 L227.1 372.3 L226.7 372.2 L226.3 372.2 L225.9 372.1 L225.5 372.1 L225.1 372.1 L224.7 372.1 L224.3 372.2 L223.9 372.2 L223.6 372.3 L223.2 372.3 L222.8 372.4 L222.4 372.5 L222 372.6 L221.7 372.8 L221.3 372.9 L220.9 373.1 L220.6 373.2 L220.2 373.4 L219.9 373.6 L219.5 373.9Z" fill="#fff"/>
<path d="M228.3 375.5 L228.6 375.6 L228.9 375.7 L229.2 375.7 L229.6 375.8 L229.9 375.8 L230.2 375.9 L230.5 375.9 L230.8 376 L231.1 376 L231.4 376 L231.7 376 L232.1 376 L232.4 376 L232.7 376 L233 376 L233.3 375.9 L233.6 375.9 L233.9 375.8 L234.2 375.8 L234.6 375.7 L234.9 375.7 L235.2 375.6 L235.5 375.5 L235.5 375.5 L235.2 375.4 L234.9 375.3 L234.6 375.3 L234.2 375.2 L233.9 375.2 L233.6 375.1 L233.3 375.1 L233 375 L232.7 375 L232.4 375 L232.1 375 L231.7 375 L231.4 375 L231.1 375 L230.8 375 L230.5 375.1 L230.2 375.1 L229.9 375.2 L229.6 375.2 L229.2 375.3 L228.9 375.3 L228.6 375.4 L228.3 375.5Z" fill="#fff"/>
<path d="M253 376.5 L253.5 376.7 L254 376.8 L254.5 376.9 L254.9 377 L255.4 377 L255.9 377 L256.3 377 L256.8 377 L257.2 377 L257.7 377 L258.1 376.9 L258.5 376.8 L259 376.8 L259.4 376.7 L259.8 376.5 L260.2 376.4 L260.7 376.2 L261.1 376.1 L261.5 375.9 L261.9 375.6 L262.4 375.4 L262.8 375.1 L263.2 374.8 L263.2 374.8 L262.7 374.6 L262.2 374.4 L261.8 374.3 L261.3 374.2 L260.8 374.1 L260.4 374.1 L259.9 374 L259.5 374 L259 374 L258.5 374 L258.1 374.1 L257.6 374.2 L257.2 374.3 L256.7 374.4 L256.3 374.5 L255.9 374.7 L255.4 374.9 L255 375.1 L254.6 375.3 L254.2 375.6 L253.8 375.8 L253.4 376.1 L253 376.5Z" fill="#fff"/>
<path d="M263.9 379.2 L264.3 379.3 L264.7 379.4 L265.1 379.4 L265.5 379.4 L265.8 379.4 L266.2 379.4 L266.6 379.4 L266.9 379.3 L267.3 379.3 L267.7 379.2 L268 379.1 L268.3 379 L268.7 378.9 L269 378.8 L269.4 378.7 L269.7 378.5 L270 378.4 L270.3 378.2 L270.7 378 L271 377.8 L271.3 377.6 L271.6 377.3 L271.9 377 L271.9 377 L271.5 376.9 L271.1 376.8 L270.7 376.8 L270.3 376.7 L270 376.7 L269.6 376.7 L269.2 376.7 L268.9 376.7 L268.5 376.8 L268.1 376.8 L267.8 376.9 L267.4 377 L267.1 377.1 L266.7 377.3 L266.4 377.4 L266.1 377.6 L265.7 377.8 L265.4 378 L265.1 378.2 L264.8 378.4 L264.5 378.6 L264.2 378.9 L263.9 379.2Z" fill="#fff"/>
<path d="M241.4 381.8 L241.9 382 L242.3 382.1 L242.8 382.2 L243.3 382.3 L243.7 382.3 L244.2 382.4 L244.6 382.4 L245.1 382.4 L245.5 382.4 L245.9 382.4 L246.4 382.3 L246.8 382.3 L247.2 382.2 L247.6 382.1 L248.1 382 L248.5 381.9 L248.9 381.8 L249.4 381.7 L249.8 381.5 L250.2 381.3 L250.6 381.1 L251.1 380.9 L251.5 380.6 L251.5 380.6 L251 380.4 L250.6 380.2 L250.1 380.1 L249.7 380 L249.2 379.9 L248.8 379.8 L248.3 379.7 L247.9 379.7 L247.4 379.7 L247 379.7 L246.5 379.7 L246 379.8 L245.6 379.8 L245.1 379.9 L244.7 380.1 L244.3 380.2 L243.9 380.4 L243.4 380.6 L243 380.8 L242.6 381 L242.2 381.2 L241.8 381.5 L241.4 381.8Z" fill="#fff"/>
<path d="M231.2 382.3 L231.6 382.6 L232 382.9 L232.4 383.2 L232.8 383.4 L233.2 383.7 L233.6 383.9 L234 384.1 L234.5 384.3 L234.9 384.4 L235.3 384.6 L235.8 384.7 L236.2 384.8 L236.7 384.9 L237.2 384.9 L237.6 385 L238.1 385 L238.5 385 L239 385 L239.5 384.9 L240 384.9 L240.4 384.8 L240.9 384.7 L241.4 384.6 L241.4 384.6 L241 384.3 L240.6 384 L240.2 383.8 L239.8 383.5 L239.3 383.3 L238.9 383.2 L238.5 383 L238 382.8 L237.6 382.7 L237.2 382.6 L236.8 382.4 L236.3 382.3 L235.9 382.3 L235.4 382.2 L235 382.1 L234.5 382.1 L234.1 382.1 L233.6 382.1 L233.1 382.1 L232.7 382.1 L232.2 382.1 L231.7 382.2 L231.2 382.3Z" fill="#fff"/>
<path d="M257.4 380.6 L257.6 380.7 L257.7 380.8 L257.9 380.9 L258 381 L258.2 381 L258.3 381.1 L258.5 381.1 L258.7 381.1 L258.8 381.2 L259 381.2 L259.1 381.2 L259.3 381.2 L259.4 381.2 L259.6 381.2 L259.7 381.1 L259.9 381.1 L260.1 381.1 L260.2 381 L260.4 381 L260.5 380.9 L260.7 380.8 L260.8 380.7 L261 380.6 L261 380.6 L260.8 380.5 L260.7 380.4 L260.5 380.3 L260.4 380.2 L260.2 380.2 L260.1 380.1 L259.9 380.1 L259.7 380.1 L259.6 380 L259.4 380 L259.3 380 L259.1 380 L259 380 L258.8 380 L258.7 380.1 L258.5 380.1 L258.3 380.1 L258.2 380.2 L258 380.2 L257.9 380.3 L257.7 380.4 L257.6 380.5 L257.4 380.6Z" fill="#fff"/>
<path d="M286.4 370.6 L287 370.7 L287.7 370.7 L288.3 370.7 L289 370.8 L289.6 370.8 L290.3 370.7 L290.9 370.7 L291.5 370.7 L292.2 370.7 L292.8 370.6 L293.4 370.6 L294 370.5 L294.7 370.4 L295.3 370.3 L295.9 370.2 L296.5 370.1 L297.2 370 L297.8 369.9 L298.4 369.7 L299 369.6 L299.7 369.4 L300.3 369.2 L300.9 369 L300.9 369 L300.3 368.9 L299.6 368.8 L299 368.8 L298.3 368.8 L297.7 368.8 L297.1 368.8 L296.4 368.8 L295.8 368.8 L295.1 368.8 L294.5 368.8 L293.9 368.9 L293.2 369 L292.6 369.1 L292 369.1 L291.4 369.3 L290.7 369.4 L290.1 369.5 L289.5 369.7 L288.9 369.8 L288.2 370 L287.6 370.2 L287 370.4 L286.4 370.6Z" fill="#fff"/>
<path d="M292.9 373.4 L293.3 373.6 L293.6 373.7 L294 373.9 L294.3 374 L294.7 374 L295 374.1 L295.4 374.2 L295.7 374.2 L296.1 374.2 L296.4 374.2 L296.8 374.2 L297.1 374.2 L297.5 374.2 L297.8 374.1 L298.1 374.1 L298.5 374 L298.8 373.9 L299.2 373.8 L299.5 373.7 L299.9 373.6 L300.2 373.4 L300.6 373.2 L300.9 373 L300.9 373 L300.5 372.8 L300.2 372.6 L299.8 372.5 L299.5 372.4 L299.1 372.3 L298.8 372.2 L298.4 372.1 L298.1 372.1 L297.7 372 L297.4 372 L297 372 L296.7 372 L296.3 372.1 L296 372.1 L295.6 372.2 L295.3 372.3 L294.9 372.4 L294.6 372.5 L294.2 372.7 L293.9 372.8 L293.6 373 L293.2 373.2 L292.9 373.4Z" fill="#fff"/>
<path d="M290.7 382.9 L291.3 383.2 L291.8 383.4 L292.4 383.6 L293 383.8 L293.6 383.9 L294.1 384 L294.7 384.1 L295.3 384.2 L295.8 384.3 L296.4 384.3 L297 384.3 L297.6 384.3 L298.1 384.3 L298.7 384.2 L299.3 384.1 L299.8 384 L300.4 383.9 L301 383.8 L301.5 383.6 L302.1 383.4 L302.7 383.2 L303.2 383 L303.8 382.7 L303.8 382.7 L303.2 382.4 L302.7 382.2 L302.1 382 L301.5 381.8 L300.9 381.7 L300.4 381.6 L299.8 381.5 L299.2 381.4 L298.7 381.3 L298.1 381.3 L297.5 381.3 L296.9 381.3 L296.4 381.3 L295.8 381.4 L295.2 381.5 L294.7 381.6 L294.1 381.7 L293.5 381.8 L293 382 L292.4 382.2 L291.8 382.4 L291.3 382.6 L290.7 382.9Z" fill="#fff"/>
<path d="M351.8 371.6 L352.1 371.7 L352.5 371.9 L352.8 371.9 L353.2 372 L353.5 372.1 L353.9 372.2 L354.2 372.2 L354.6 372.3 L354.9 372.4 L355.3 372.4 L355.6 372.4 L356 372.5 L356.3 372.5 L356.7 372.5 L357 372.5 L357.4 372.5 L357.7 372.5 L358.1 372.4 L358.4 372.3 L358.8 372.2 L359.1 372 L359.5 371.8 L359.8 371.6 L359.8 371.6 L359.5 371.4 L359.1 371.2 L358.8 371 L358.4 370.9 L358.1 370.8 L357.7 370.7 L357.4 370.7 L357 370.7 L356.7 370.7 L356.3 370.7 L356 370.7 L355.6 370.8 L355.3 370.8 L354.9 370.8 L354.6 370.9 L354.2 371 L353.9 371 L353.5 371.1 L353.2 371.2 L352.8 371.3 L352.5 371.3 L352.1 371.5 L351.8 371.6Z" fill="#fff"/>
<path d="M314 357.4 L314.1 357.5 L314.3 357.6 L314.4 357.6 L314.5 357.7 L314.7 357.7 L314.8 357.8 L314.9 357.8 L315 357.9 L315.2 357.9 L315.3 357.9 L315.4 357.9 L315.6 357.9 L315.7 357.9 L315.8 357.9 L316 357.9 L316.1 357.8 L316.2 357.8 L316.3 357.7 L316.5 357.7 L316.6 357.6 L316.7 357.6 L316.9 357.5 L317 357.4 L317 357.4 L316.9 357.3 L316.7 357.2 L316.6 357.2 L316.5 357.1 L316.3 357.1 L316.2 357 L316.1 357 L316 356.9 L315.8 356.9 L315.7 356.9 L315.6 356.9 L315.4 356.9 L315.3 356.9 L315.2 356.9 L315 356.9 L314.9 357 L314.8 357 L314.7 357.1 L314.5 357.1 L314.4 357.2 L314.3 357.2 L314.1 357.3 L314 357.4Z" fill="#fff"/>
<path d="M300 362.5H359 M312 366H359" stroke="#ffffff" stroke-opacity="0.45" stroke-width="0.8" stroke-dasharray="0.9 1.9" fill="none"/>
<path d="M209.4 377H219.5 M209.4 382.5H221 M303.8 377H315.5 M331.5 376.3H340.2 M321.3 382.8H346" stroke="#3a2ad0" stroke-opacity="0.9" stroke-width="1.3" stroke-dasharray="1.3 1.5" fill="none"/>
<path d="M245.8 352.1V385.9 M260.1 352.1V385.9 M297.3 352.1V385.9 M311.5 352.1V385.9 M336.1 352.1V385.9" stroke="#700000" stroke-opacity="0.22" stroke-width="0.7" fill="none"/>
<path d="M208.6 286.3 L210.2 286.4 L211.7 286.5 L213.3 286.6 L214.8 286.7 L216.4 286.8 L218 286.9 L219.7 287 L221.4 287.1 L223.1 287.2 L224.8 287.4 L226.4 287.4 L228 287.5 L229.4 287.5 L230.8 287.5 L232 287.5 L233.3 287.5 L234.6 287.5 L236 287.4 L237.5 287.3 L239.2 287.2 L240.9 287 L242.6 286.9 L244.2 286.8 L245.7 286.7 L247.1 286.7 L248.3 286.8 L249.5 286.9 L250.7 287 L251.8 287.1 L253 287.2 L254.2 287.3 L255.3 287.4 L256.5 287.6 L257.7 287.7 L258.9 287.8 L260.3 287.8 L261.8 287.8 L263.3 287.7 L264.9 287.6 L266.5 287.5 L268.2 287.3 L270 287.2 L271.9 287.1 L274 286.9 L276.1 286.8 L278.2 286.6 L280.2 286.5 L282 286.4 L283.6 286.4 L285 286.4 L286.2 286.4 L287.5 286.4 L288.7 286.5 L290 286.5 L291.3 286.5 L292.5 286.5 L293.7 286.6 L294.9 286.6 L296.4 286.6 L298 286.6 L299.9 286.6 L302 286.5 L304.3 286.5 L306.7 286.4 L309 286.4 L311.3 286.3" fill="none" stroke="#0c0cb4" stroke-width="4.9" stroke-linecap="round"/>
<path d="M208.6 286.3 L210.2 286.4 L211.7 286.5 L213.3 286.6 L214.8 286.7 L216.4 286.8 L218 286.9 L219.7 287 L221.4 287.1 L223.1 287.2 L224.8 287.4 L226.4 287.4 L228 287.5 L229.4 287.5 L230.8 287.5 L232 287.5 L233.3 287.5 L234.6 287.5 L236 287.4 L237.5 287.3 L239.2 287.2 L240.9 287 L242.6 286.9 L244.2 286.8 L245.7 286.7 L247.1 286.7 L248.3 286.8 L249.5 286.9 L250.7 287 L251.8 287.1 L253 287.2 L254.2 287.3 L255.3 287.4 L256.5 287.6 L257.7 287.7 L258.9 287.8 L260.3 287.8 L261.8 287.8 L263.3 287.7 L264.9 287.6 L266.5 287.5 L268.2 287.3 L270 287.2 L271.9 287.1 L274 286.9 L276.1 286.8 L278.2 286.6 L280.2 286.5 L282 286.4 L283.6 286.4 L285 286.4 L286.2 286.4 L287.5 286.4 L288.7 286.5 L290 286.5 L291.3 286.5 L292.5 286.5 L293.7 286.6 L294.9 286.6 L296.4 286.6 L298 286.6 L299.9 286.6 L302 286.5 L304.3 286.5 L306.7 286.4 L309 286.4 L311.3 286.3" fill="none" stroke="#1d1de0" stroke-width="3.7" stroke-linecap="round"/>
<g fill="#1f1fe4" stroke="#0a0a9a" stroke-width="0.45"><circle cx="208.7" cy="286.3" r="2.3"/><circle cx="211.3" cy="286.5" r="2.3"/><circle cx="214" cy="286.6" r="2.3"/><circle cx="216.6" cy="286.8" r="2.3"/><circle cx="219.2" cy="287" r="2.3"/><circle cx="221.8" cy="287.2" r="2.3"/><circle cx="224.5" cy="287.3" r="2.3"/><circle cx="227.1" cy="287.5" r="2.3"/><circle cx="229.7" cy="287.5" r="2.3"/><circle cx="232.4" cy="287.5" r="2.3"/><circle cx="235" cy="287.4" r="2.3"/><circle cx="237.6" cy="287.3" r="2.3"/><circle cx="240.3" cy="287.1" r="2.3"/><circle cx="242.9" cy="286.8" r="2.3"/><circle cx="245.5" cy="286.7" r="2.3"/><circle cx="248.1" cy="286.8" r="2.3"/><circle cx="250.8" cy="287" r="2.3"/><circle cx="253.4" cy="287.2" r="2.3"/><circle cx="256" cy="287.5" r="2.3"/><circle cx="258.7" cy="287.8" r="2.3"/><circle cx="261.3" cy="287.8" r="2.3"/><circle cx="263.9" cy="287.7" r="2.3"/><circle cx="266.6" cy="287.5" r="2.3"/><circle cx="269.2" cy="287.3" r="2.3"/><circle cx="271.8" cy="287.1" r="2.3"/><circle cx="274.4" cy="286.9" r="2.3"/><circle cx="277.1" cy="286.7" r="2.3"/><circle cx="279.7" cy="286.5" r="2.3"/><circle cx="282.3" cy="286.4" r="2.3"/><circle cx="285" cy="286.4" r="2.3"/><circle cx="287.6" cy="286.4" r="2.3"/><circle cx="290.2" cy="286.5" r="2.3"/><circle cx="292.9" cy="286.6" r="2.3"/><circle cx="295.5" cy="286.6" r="2.3"/><circle cx="298.1" cy="286.6" r="2.3"/><circle cx="300.7" cy="286.6" r="2.3"/><circle cx="303.4" cy="286.5" r="2.3"/><circle cx="306" cy="286.4" r="2.3"/><circle cx="308.6" cy="286.4" r="2.3"/><circle cx="311.3" cy="286.3" r="2.3"/></g>
<g fill="#dc1c50"><circle cx="208.7" cy="286.3" r="1.2"/><circle cx="211.3" cy="286.5" r="1.2"/><circle cx="214" cy="286.6" r="1.2"/><circle cx="216.6" cy="286.8" r="1.2"/><circle cx="219.2" cy="287" r="1.2"/><circle cx="221.8" cy="287.2" r="1.2"/><circle cx="224.5" cy="287.3" r="1.2"/><circle cx="227.1" cy="287.5" r="1.2"/><circle cx="229.7" cy="287.5" r="1.2"/><circle cx="232.4" cy="287.5" r="1.2"/><circle cx="235" cy="287.4" r="1.2"/><circle cx="237.6" cy="287.3" r="1.2"/><circle cx="240.3" cy="287.1" r="1.2"/><circle cx="242.9" cy="286.8" r="1.2"/><circle cx="245.5" cy="286.7" r="1.2"/><circle cx="248.1" cy="286.8" r="1.2"/><circle cx="250.8" cy="287" r="1.2"/><circle cx="253.4" cy="287.2" r="1.2"/><circle cx="256" cy="287.5" r="1.2"/><circle cx="258.7" cy="287.8" r="1.2"/><circle cx="261.3" cy="287.8" r="1.2"/><circle cx="263.9" cy="287.7" r="1.2"/><circle cx="266.6" cy="287.5" r="1.2"/><circle cx="269.2" cy="287.3" r="1.2"/><circle cx="271.8" cy="287.1" r="1.2"/><circle cx="274.4" cy="286.9" r="1.2"/><circle cx="277.1" cy="286.7" r="1.2"/><circle cx="279.7" cy="286.5" r="1.2"/><circle cx="282.3" cy="286.4" r="1.2"/><circle cx="285" cy="286.4" r="1.2"/><circle cx="287.6" cy="286.4" r="1.2"/><circle cx="290.2" cy="286.5" r="1.2"/><circle cx="292.9" cy="286.6" r="1.2"/><circle cx="295.5" cy="286.6" r="1.2"/><circle cx="298.1" cy="286.6" r="1.2"/><circle cx="300.7" cy="286.6" r="1.2"/><circle cx="303.4" cy="286.5" r="1.2"/><circle cx="306" cy="286.4" r="1.2"/><circle cx="308.6" cy="286.4" r="1.2"/><circle cx="311.3" cy="286.3" r="1.2"/></g>
<path d="M311.7 287.6 L313.4 287.5 L315 287.4 L316.7 287.3 L318.4 287.2 L320.1 287.1 L322 287 L324 286.9 L326.2 286.7 L328.5 286.6 L330.8 286.5 L333 286.4 L335.2 286.4 L337.2 286.4 L339.2 286.5 L341.2 286.7 L343.1 286.8 L345 287 L347 287.2 L349 287.4 L351 287.6 L353 287.9 L355.1 288.2 L357.1 288.4 L359.1 288.7" fill="none" stroke="#0c0cb4" stroke-width="4.9" stroke-linecap="round"/>
<path d="M311.7 287.6 L313.4 287.5 L315 287.4 L316.7 287.3 L318.4 287.2 L320.1 287.1 L322 287 L324 286.9 L326.2 286.7 L328.5 286.6 L330.8 286.5 L333 286.4 L335.2 286.4 L337.2 286.4 L339.2 286.5 L341.2 286.7 L343.1 286.8 L345 287 L347 287.2 L349 287.4 L351 287.6 L353 287.9 L355.1 288.2 L357.1 288.4 L359.1 288.7" fill="none" stroke="#1d1de0" stroke-width="3.7" stroke-linecap="round"/>
<g fill="#1f1fe4" stroke="#0a0a9a" stroke-width="0.45"><circle cx="313.9" cy="287.5" r="2.3"/><circle cx="316.5" cy="287.3" r="2.3"/><circle cx="319.2" cy="287.2" r="2.3"/><circle cx="321.8" cy="287" r="2.3"/><circle cx="324.4" cy="286.9" r="2.3"/><circle cx="327" cy="286.7" r="2.3"/><circle cx="329.7" cy="286.5" r="2.3"/><circle cx="332.3" cy="286.4" r="2.3"/><circle cx="334.9" cy="286.4" r="2.3"/><circle cx="337.6" cy="286.5" r="2.3"/><circle cx="340.2" cy="286.6" r="2.3"/><circle cx="342.8" cy="286.8" r="2.3"/><circle cx="345.5" cy="287.1" r="2.3"/><circle cx="348.1" cy="287.3" r="2.3"/><circle cx="350.7" cy="287.6" r="2.3"/><circle cx="353.3" cy="287.9" r="2.3"/><circle cx="356" cy="288.3" r="2.3"/><circle cx="358.6" cy="288.6" r="2.3"/></g>
<g fill="#dc1c50"><circle cx="313.9" cy="287.5" r="1.2"/><circle cx="316.5" cy="287.3" r="1.2"/><circle cx="319.2" cy="287.2" r="1.2"/><circle cx="321.8" cy="287" r="1.2"/><circle cx="324.4" cy="286.9" r="1.2"/><circle cx="327" cy="286.7" r="1.2"/><circle cx="329.7" cy="286.5" r="1.2"/><circle cx="332.3" cy="286.4" r="1.2"/><circle cx="334.9" cy="286.4" r="1.2"/><circle cx="337.6" cy="286.5" r="1.2"/><circle cx="340.2" cy="286.6" r="1.2"/><circle cx="342.8" cy="286.8" r="1.2"/><circle cx="345.5" cy="287.1" r="1.2"/><circle cx="348.1" cy="287.3" r="1.2"/><circle cx="350.7" cy="287.6" r="1.2"/><circle cx="353.3" cy="287.9" r="1.2"/><circle cx="356" cy="288.3" r="1.2"/><circle cx="358.6" cy="288.6" r="1.2"/></g>
<g fill="none" stroke="#ecc4c4" stroke-width="0.45">
<path d="M208.7 244.5 L209.1 244.4 L209.6 244.2 L210 244.1 L210.4 244 L210.9 243.8 L211.3 243.6 L211.7 243.4 L212.2 243.1 L212.7 242.8 L213.1 242.5 L213.6 242.2 L214 241.8 L214.4 241.4 L214.9 241 L215.3 240.6 L215.7 240.1 L216.2 239.6 L216.6 239.1 L217 238.6 L217.5 238 L217.9 237.4 L218.3 236.7 L218.8 236.1 L219.2 235.4 L219.6 234.7 L220.1 234 L220.6 233.2 L221 232.5 L221.5 231.7 L221.9 230.9 L222.3 230.1 L222.7 229.3 L223.2 228.5 L223.6 227.7 L224 226.9 L224.4 226.1 L224.8 225.3 L225.3 224.4 L225.7 223.5 L226.2 222.6 L226.6 221.8 L227.1 220.9 L227.5 220 L228 219.2 L228.4 218.3 L228.9 217.4 L229.3 216.6 L229.8 215.7 L230.3 214.8 L230.7 214 L231.2 213.1 L231.7 212.3 L232.1 211.5 L232.6 210.7 L233.1 209.9 L233.6 209.2 L234 208.5 L234.5 207.8 L234.9 207.2 L235.3 206.7 L235.6 206.3 L235.9 206.1 L236.1 206 L236.3 205.9 L236.6 205.7 L236.8 205.6"/>
<path d="M259.5 205.6 L260.1 206 L260.7 206.4 L261.4 206.9 L262 207.3 L262.6 207.7 L263.2 208.2 L263.8 208.7 L264.3 209.2 L264.8 209.8 L265.3 210.4 L265.9 210.9 L266.5 211.5 L267.2 212.1 L267.9 212.7 L268.6 213.2 L269.4 213.8 L270.1 214.4 L270.7 214.9 L271.3 215.4 L271.8 215.9 L272.3 216.3 L272.8 216.7 L273.2 217.2 L273.7 217.6 L274.2 218 L274.6 218.4 L275 218.8 L275.4 219.2 L275.9 219.7 L276.3 220.1 L276.7 220.6 L277.2 221.1 L277.6 221.6 L278 222.1 L278.5 222.6 L278.9 223.1 L279.3 223.6 L279.7 224 L280.1 224.4 L280.6 224.8 L281 225.3 L281.4 225.7 L281.8 226.1 L282.3 226.6 L282.7 227 L283.2 227.5 L283.6 228 L284.1 228.4 L284.6 228.9 L285.1 229.3 L285.6 229.8 L286.2 230.2 L286.7 230.6 L287.3 231 L287.9 231.3 L288.5 231.6 L289.1 231.9 L289.7 232.1 L290.3 232.2 L290.9 232.3 L291.5 232.3 L292.1 232.2 L292.8 232.1 L293.4 231.9 L293.9 231.6 L294.5 231.4 L295 231.2 L295.5 231 L295.9 230.8 L296.3 230.5 L296.8 230.1 L297.3 229.5 L297.9 228.7 L298.4 227.8 L299 226.7 L299.7 225.5 L300.3 224.4 L300.9 223.2 L301.5 222 L302.1 220.7 L302.8 219.4 L303.4 218.2 L303.9 217 L304.5 215.9 L305 215 L305.5 214.2 L305.9 213.4 L306.3 212.8 L306.8 212.1 L307.3 211.4 L307.9 210.7 L308.5 209.9 L309.2 209.2 L309.9 208.5 L310.4 207.9 L310.9 207.4 L311.2 207 L311.4 206.8 L311.5 206.6 L311.6 206.5 L311.7 206.4 L311.8 206.2"/>
<path d="M280.5 205.6 L280.7 205.9 L281 206.2 L281.2 206.5 L281.5 206.8 L281.7 207.2 L282 207.6 L282.3 208.1 L282.6 208.6 L282.9 209.2 L283.3 209.8 L283.7 210.5 L284.1 211.2 L284.6 212 L285.1 212.9 L285.6 213.9 L286.2 214.9 L286.7 215.8 L287.3 216.8 L287.9 217.7 L288.5 218.7 L289.1 219.6 L289.7 220.5 L290.3 221.4 L290.9 222.3 L291.5 223.1 L292.1 223.9 L292.8 224.7 L293.4 225.5 L293.9 226.2 L294.5 226.8 L295 227.3 L295.5 227.8 L296 228.1 L296.4 228.5 L296.8 229 L297.3 229.5 L297.7 230.2 L298.2 230.9 L298.6 231.7 L299 232.5 L299.5 233.3 L300 234.1 L300.5 234.9 L301.1 235.6 L301.7 236.4 L302.4 237.2 L303 237.9 L303.6 238.6 L304.2 239.3 L304.8 239.9 L305.4 240.6 L306 241.2 L306.6 241.8 L307.3 242.3 L308 242.8 L308.7 243.1 L309.5 243.5 L310.3 243.8 L311 244.2 L311.8 244.5"/>
<path d="M311.8 205.4 L313.1 205.4 L314.5 205.5 L315.8 205.5 L317.1 205.5 L318.5 205.6 L320 205.6 L321.6 205.6 L323.2 205.6 L324.9 205.6 L326.6 205.6 L328.3 205.6 L330 205.6 L331.7 205.6 L333.5 205.5 L335.2 205.5 L337 205.5 L338.6 205.4 L340 205.4 L341.2 205.4 L342.3 205.4 L343.2 205.3 L344.1 205.3 L345 205.3 L346 205.3"/>
<path d="M311.8 212.3 L312.4 213.3 L313 214.4 L313.7 215.4 L314.3 216.4 L314.9 217.5 L315.5 218.6 L316.1 219.8 L316.7 221 L317.2 222.2 L317.8 223.4 L318.4 224.7 L319.1 225.9 L319.8 227.1 L320.5 228.4 L321.3 229.6 L322.1 230.8 L322.8 232 L323.6 233.2 L324.4 234.3 L325.1 235.5 L325.9 236.6 L326.7 237.7 L327.4 238.6 L328.2 239.5 L329 240.2 L329.7 240.8 L330.5 241.3 L331.3 241.8 L332 242.2 L332.7 242.6 L333.4 243 L334 243.3 L334.5 243.6 L335.1 243.9 L335.7 244 L336.4 244.1 L337.1 244.1 L337.9 243.9 L338.7 243.7 L339.4 243.4 L340.2 243 L340.9 242.6 L341.6 242.1 L342.2 241.5 L342.7 240.8 L343.3 240.1 L343.9 239.4 L344.5 238.6 L345.1 237.8 L345.7 237 L346.3 236.1 L347 235.2 L347.6 234.2 L348.2 233.2 L348.8 232.1 L349.4 230.9 L350 229.7 L350.6 228.5 L351.2 227.2 L351.8 225.9 L352.4 224.6 L353.1 223.2 L353.7 221.8 L354.3 220.4 L354.9 219 L355.5 217.7 L356 216.4 L356.5 215.1 L357 213.8 L357.4 212.6 L357.8 211.5 L358.2 210.5 L358.5 209.7 L358.7 209 L358.9 208.4 L359.1 207.9 L359.3 207.4 L359.5 206.8"/>
</g>
<g fill="#74ecea">
<circle cx="261.3" cy="206.8" r="2.0"/>
<circle cx="263.9" cy="208.9" r="2.0"/>
<circle cx="266.6" cy="211.6" r="2.0"/>
<circle cx="269.2" cy="213.7" r="2.0"/>
<circle cx="271.8" cy="215.9" r="2.0"/>
</g>
<g fill="#b3121d" stroke="#8c0c14" stroke-width="0.35">
<circle cx="208.7" cy="244.5" r="1.05"/>
<circle cx="211.3" cy="243.6" r="1.05"/>
<circle cx="214" cy="241.8" r="1.05"/>
<circle cx="216.6" cy="239.1" r="1.05"/>
<circle cx="219.2" cy="235.4" r="1.05"/>
<circle cx="221.8" cy="231" r="1.05"/>
<circle cx="224.5" cy="225.9" r="1.05"/>
<circle cx="227.1" cy="220.9" r="1.05"/>
<circle cx="229.7" cy="215.8" r="1.05"/>
<circle cx="232.4" cy="211.1" r="1.05"/>
<circle cx="235" cy="207.1" r="1.05"/>
<circle cx="274.4" cy="218.3" r="1.05"/>
<circle cx="277.1" cy="221" r="1.05"/>
<circle cx="279.7" cy="224" r="1.05"/>
<circle cx="282.3" cy="226.7" r="1.05"/>
<circle cx="285" cy="229.2" r="1.05"/>
<circle cx="287.6" cy="231.2" r="1.05"/>
<circle cx="290.2" cy="232.2" r="1.05"/>
<circle cx="292.9" cy="232" r="1.05"/>
<circle cx="295.5" cy="231" r="1.05"/>
<circle cx="298.1" cy="228.3" r="1.05"/>
<circle cx="300.7" cy="223.5" r="1.05"/>
<circle cx="303.4" cy="218.1" r="1.05"/>
<circle cx="306" cy="213.3" r="1.05"/>
<circle cx="308.6" cy="209.8" r="1.05"/>
<circle cx="311.3" cy="207" r="1.05"/>
<circle cx="282.3" cy="208.1" r="1.05"/>
<circle cx="285" cy="212.7" r="1.05"/>
<circle cx="287.6" cy="217.3" r="1.05"/>
<circle cx="290.2" cy="221.3" r="1.05"/>
<circle cx="292.9" cy="224.9" r="1.05"/>
<circle cx="295.5" cy="227.8" r="1.05"/>
<circle cx="298.1" cy="230.8" r="1.05"/>
<circle cx="300.7" cy="235.1" r="1.05"/>
<circle cx="303.4" cy="238.4" r="1.05"/>
<circle cx="306" cy="241.2" r="1.05"/>
<circle cx="308.6" cy="243.1" r="1.05"/>
<circle cx="311.3" cy="244.3" r="1.05"/>
<circle cx="313.9" cy="215.8" r="1.05"/>
<circle cx="316.5" cy="220.7" r="1.05"/>
<circle cx="319.2" cy="226" r="1.05"/>
<circle cx="321.8" cy="230.4" r="1.05"/>
<circle cx="324.4" cy="234.4" r="1.05"/>
<circle cx="327" cy="238.2" r="1.05"/>
<circle cx="329.7" cy="240.8" r="1.05"/>
<circle cx="332.3" cy="242.4" r="1.05"/>
<circle cx="334.9" cy="243.8" r="1.05"/>
<circle cx="337.6" cy="244" r="1.05"/>
<circle cx="340.2" cy="243" r="1.05"/>
<circle cx="342.8" cy="240.7" r="1.05"/>
<circle cx="345.5" cy="237.3" r="1.05"/>
<circle cx="348.1" cy="233.4" r="1.05"/>
<circle cx="350.7" cy="228.2" r="1.05"/>
<circle cx="353.3" cy="222.6" r="1.05"/>
<circle cx="356" cy="216.5" r="1.05"/>
<circle cx="358.6" cy="209.4" r="1.05"/>
</g>
<g fill="#a3142a" stroke="#6a0c1a" stroke-width="0.35">
<circle cx="261.3" cy="206.8" r="1.05"/>
<circle cx="263.9" cy="208.9" r="1.05"/>
<circle cx="266.6" cy="211.6" r="1.05"/>
<circle cx="269.2" cy="213.7" r="1.05"/>
<circle cx="271.8" cy="215.9" r="1.05"/>
</g>
</g>
<rect x="208.2" y="205.5" width="151.3" height="180.4" fill="none" stroke="#6c6c6c" stroke-width="1.0"/>
<path d="M206 385.9H208.2 M206.9 377.7H208.2 M206.9 369.5H208.2 M206.9 361.3H208.2 M206 353.1H208.2 M206.9 344.9H208.2 M206.9 336.7H208.2 M206.9 328.5H208.2 M206 320.3H208.2 M206.9 312.1H208.2 M206.9 303.9H208.2 M206.9 295.7H208.2 M206 287.5H208.2 M206.9 279.3H208.2 M206.9 271.1H208.2 M206.9 262.9H208.2 M206 254.7H208.2 M206.9 246.5H208.2 M206.9 238.3H208.2 M206.9 230.1H208.2 M206 221.9H208.2 M206.9 213.7H208.2 M206.9 205.5H208.2 M208.2 385.9V387.7 M245.8 385.9V387.7 M260.1 385.9V387.7 M297.3 385.9V387.7 M311.5 385.9V387.7 M336.1 385.9V387.7 M359.5 385.9V387.7" stroke="#666" stroke-width="0.6" fill="none"/>
<g font-family="'DejaVu Sans', 'Liberation Sans', sans-serif" font-size="6.1" fill="#262626" stroke="#262626" stroke-width="0.1"><text x="204.8" y="224.4" text-anchor="end">8</text><text x="204.8" y="257.2" text-anchor="end">6</text><text x="204.8" y="290" text-anchor="end">4</text><text x="204.8" y="322.8" text-anchor="end">2</text><text x="204.8" y="355.6" text-anchor="end">0</text><text x="204.8" y="388.4" text-anchor="end">−2</text><text x="208.2" y="394.5" text-anchor="middle">Γ</text><text x="245.8" y="394.5" text-anchor="middle">Y</text><text x="260.1" y="394.5" text-anchor="middle">M</text><text x="297.3" y="394.5" text-anchor="middle">A</text><text x="311.5" y="394.5" text-anchor="middle">Γ|L</text><text x="336.1" y="394.5" text-anchor="middle">Γ</text><text x="359.5" y="394.5" text-anchor="middle">N</text></g>
<text font-family="'DejaVu Sans', 'Liberation Sans', sans-serif" font-size="5.7" fill="#262626" stroke="#262626" stroke-width="0.08" text-anchor="middle" transform="translate(193 295.3) rotate(-90)">Energy (eV)</text>
<text font-family="'Liberation Sans', Arial, sans-serif" font-size="7.9" font-weight="bold" fill="#1a1a1a" stroke="#1a1a1a" stroke-width="0.2" x="190.2" y="212.4">(d)</text>
<g>
<rect x="330" y="209.1" width="27.9" height="20.8" rx="1.3" fill="#ffffff" fill-opacity="0.8" stroke="#d6d6d6" stroke-width="0.5"/>
<circle cx="337.9" cy="213" r="1.85" fill="#0c0cc8"/>
<text font-family="'DejaVu Sans', 'Liberation Sans', sans-serif" font-size="5.8" font-style="italic" fill="#151515" stroke="#151515" stroke-width="0.13" x="347.1" y="215.1">Cu</text>
<circle cx="337.9" cy="219.3" r="1.85" fill="#38e8e8"/>
<text font-family="'DejaVu Sans', 'Liberation Sans', sans-serif" font-size="5.8" font-style="italic" fill="#151515" stroke="#151515" stroke-width="0.13" x="347.1" y="221.4">P</text>
<circle cx="337.9" cy="225.6" r="1.85" fill="#e8161c"/>
<text font-family="'DejaVu Sans', 'Liberation Sans', sans-serif" font-size="5.8" font-style="italic" fill="#151515" stroke="#151515" stroke-width="0.13" x="347.1" y="227.7">O</text>
</g>
</g>
<defs><clipPath id="clipe"><rect x="387.6" y="205.3" width="153.3" height="183.2"/></clipPath></defs>
<g>
<path d="M387.6 355.1H540.9 M425.5 205.3V388.4 M440 205.3V388.4 M477.8 205.3V388.4 M492.4 205.3V388.4 M516.9 205.3V388.4" stroke="#cfcfcf" stroke-width="0.8" fill="none"/>
<g clip-path="url(#clipe)">
<path d="M387.6 389.4 L387.6 354 L396.1 354 L404.7 354 L413.2 354 L421.7 354 L430 354 L438.5 354 L447.1 354.1 L455.6 354.1 L463.3 354.2 L470 354.2 L475.6 354.2 L480.3 354.1 L484.3 354 L487.5 354 L490 353.9 L491.5 353.8 L492 353.7 L492 353.6 L491.8 353.6 L492 353.6 L491.8 353.7 L491.1 353.8 L490.7 354 L491.6 354.2 L495 354.3 L501.4 354.3 L510.3 354.4 L520.5 354.3 L531 354.3 L540.9 354.3 L540.9 389.4 Z" fill="#f20b0b"/>
<path d="M395.6 363.7 L396.6 363.8 L397.5 363.9 L398.5 364 L399.4 364 L400.4 364.1 L401.3 364.1 L402.3 364.1 L403.2 364.2 L404.2 364.2 L405.1 364.2 L406.1 364.2 L407 364.2 L408 364.2 L408.9 364.2 L409.9 364.2 L410.8 364.2 L411.8 364.2 L412.7 364.1 L413.7 364.1 L414.6 364 L415.6 364 L416.5 363.9 L417.5 363.8 L417.5 363.8 L416.6 363.7 L415.6 363.6 L414.6 363.5 L413.7 363.4 L412.7 363.3 L411.8 363.2 L410.8 363.2 L409.9 363.1 L408.9 363.1 L408 363 L407 363 L406.1 363 L405.1 363 L404.2 363 L403.2 363.1 L402.3 363.1 L401.3 363.2 L400.4 363.2 L399.4 363.3 L398.5 363.4 L397.5 363.5 L396.6 363.6 L395.6 363.7Z" fill="#fff"/>
<path d="M445 382.8 L445.3 383 L445.7 383.1 L446 383.2 L446.4 383.2 L446.7 383.3 L447 383.3 L447.3 383.4 L447.7 383.4 L448 383.4 L448.3 383.4 L448.6 383.4 L448.9 383.4 L449.2 383.3 L449.6 383.3 L449.9 383.2 L450.2 383.2 L450.5 383.1 L450.8 383 L451.1 382.8 L451.5 382.7 L451.8 382.6 L452.1 382.4 L452.4 382.2 L452.4 382.2 L452.1 382 L451.7 381.9 L451.4 381.8 L451.1 381.7 L450.8 381.6 L450.4 381.5 L450.1 381.5 L449.8 381.4 L449.4 381.4 L449.1 381.4 L448.8 381.4 L448.4 381.4 L448.1 381.4 L447.8 381.5 L447.5 381.6 L447.1 381.7 L446.8 381.8 L446.5 381.9 L446.2 382.1 L445.9 382.2 L445.6 382.4 L445.3 382.6 L445 382.8Z" fill="#fff"/>
<path d="M423.3 386 L423.6 386.2 L423.9 386.3 L424.2 386.4 L424.6 386.5 L424.9 386.6 L425.2 386.7 L425.5 386.8 L425.8 386.8 L426.1 386.9 L426.4 386.9 L426.7 386.9 L427.1 386.9 L427.4 386.9 L427.7 386.9 L428 386.8 L428.3 386.8 L428.6 386.7 L428.9 386.6 L429.2 386.5 L429.6 386.4 L429.9 386.3 L430.2 386.2 L430.5 386 L430.5 386 L430.2 385.8 L429.9 385.7 L429.6 385.6 L429.2 385.5 L428.9 385.4 L428.6 385.3 L428.3 385.2 L428 385.2 L427.7 385.1 L427.4 385.1 L427.1 385.1 L426.7 385.1 L426.4 385.1 L426.1 385.1 L425.8 385.2 L425.5 385.2 L425.2 385.3 L424.9 385.4 L424.6 385.5 L424.2 385.6 L423.9 385.7 L423.6 385.8 L423.3 386Z" fill="#fff"/>
<path d="M411.6 378.3 L411.9 378.4 L412.1 378.5 L412.4 378.6 L412.6 378.7 L412.9 378.8 L413.1 378.8 L413.4 378.9 L413.7 378.9 L413.9 379 L414.2 379 L414.4 379 L414.7 379 L414.9 379 L415.2 379 L415.4 378.9 L415.7 378.9 L416 378.8 L416.2 378.8 L416.5 378.7 L416.7 378.6 L417 378.5 L417.2 378.4 L417.5 378.3 L417.5 378.3 L417.2 378.2 L417 378.1 L416.7 378 L416.5 377.9 L416.2 377.8 L416 377.8 L415.7 377.7 L415.4 377.7 L415.2 377.6 L414.9 377.6 L414.7 377.6 L414.4 377.6 L414.2 377.6 L413.9 377.6 L413.7 377.7 L413.4 377.7 L413.1 377.8 L412.9 377.8 L412.6 377.9 L412.4 378 L412.1 378.1 L411.9 378.2 L411.6 378.3Z" fill="#fff"/>
<path d="M500.5 371 L500.8 371.2 L501.1 371.3 L501.3 371.4 L501.6 371.5 L501.9 371.6 L502.2 371.6 L502.5 371.7 L502.8 371.7 L503 371.8 L503.3 371.8 L503.6 371.8 L503.9 371.8 L504.2 371.8 L504.5 371.8 L504.7 371.7 L505 371.7 L505.3 371.6 L505.6 371.6 L505.9 371.5 L506.2 371.4 L506.4 371.3 L506.7 371.2 L507 371 L507 371 L506.7 370.8 L506.4 370.7 L506.2 370.6 L505.9 370.5 L505.6 370.4 L505.3 370.4 L505 370.3 L504.7 370.3 L504.5 370.2 L504.2 370.2 L503.9 370.2 L503.6 370.2 L503.3 370.2 L503 370.2 L502.8 370.3 L502.5 370.3 L502.2 370.4 L501.9 370.4 L501.6 370.5 L501.3 370.6 L501.1 370.7 L500.8 370.8 L500.5 371Z" fill="#fff"/>
<path d="M495.5 378.3 L495.9 378.5 L496.3 378.6 L496.6 378.7 L497 378.8 L497.4 378.9 L497.8 378.9 L498.1 379 L498.5 379 L498.9 379.1 L499.3 379.1 L499.7 379.1 L500 379.1 L500.4 379.1 L500.8 379.1 L501.2 379 L501.6 379 L501.9 378.9 L502.3 378.9 L502.7 378.8 L503.1 378.7 L503.4 378.6 L503.8 378.5 L504.2 378.3 L504.2 378.3 L503.8 378.1 L503.4 378 L503.1 377.9 L502.7 377.8 L502.3 377.7 L501.9 377.7 L501.6 377.6 L501.2 377.6 L500.8 377.5 L500.4 377.5 L500 377.5 L499.7 377.5 L499.3 377.5 L498.9 377.5 L498.5 377.6 L498.1 377.6 L497.8 377.7 L497.4 377.7 L497 377.8 L496.6 377.9 L496.3 378 L495.9 378.1 L495.5 378.3Z" fill="#fff"/>
<path d="M534.7 373.2 L535 373.3 L535.3 373.4 L535.6 373.5 L535.9 373.6 L536.2 373.6 L536.5 373.7 L536.8 373.8 L537.1 373.8 L537.4 373.8 L537.7 373.9 L538 373.9 L538.2 373.9 L538.5 374 L538.8 374 L539.1 374 L539.4 374 L539.7 374 L540 373.9 L540.3 373.9 L540.6 373.8 L540.9 373.6 L541.2 373.4 L541.5 373.2 L541.5 373.2 L541.2 373 L540.9 372.8 L540.6 372.6 L540.3 372.5 L540 372.5 L539.7 372.4 L539.4 372.4 L539.1 372.4 L538.8 372.4 L538.5 372.4 L538.2 372.5 L538 372.5 L537.7 372.5 L537.4 372.6 L537.1 372.6 L536.8 372.6 L536.5 372.7 L536.2 372.8 L535.9 372.8 L535.6 372.9 L535.3 373 L535 373.1 L534.7 373.2Z" fill="#fff"/>
<path d="M388 361.9H541 M388 365.7H541 M388 369.5H541 M388 373.2H541 M388 376.9H541 M388 380.6H541 M419 360.1H432" stroke="#ffffff" stroke-opacity="0.45" stroke-width="0.8" stroke-dasharray="0.9 1.9" fill="none"/>
<path d="M388 358.3H541" stroke="#ffffff" stroke-opacity="0.85" stroke-width="1.2" stroke-dasharray="1.6 1.2" fill="none"/>
<path d="M388 383.3H399 M388 386.2H399 M432 378H445 M457 385.6H541 M470 383H500 M505 383H541" stroke="#3a2ad0" stroke-opacity="0.9" stroke-width="1.3" stroke-dasharray="1.3 1.5" fill="none"/>
<path d="M425.5 354.1V388.4 M440 354.1V388.4 M477.8 354.1V388.4 M492.4 354.1V388.4 M516.9 354.1V388.4" stroke="#700000" stroke-opacity="0.22" stroke-width="0.7" fill="none"/>
<path d="M388 293.6 L391.7 293.6 L395.4 293.6 L399.1 293.6 L402.8 293.6 L406.4 293.6 L410 293.6 L413.4 293.6 L416.8 293.5 L420.1 293.5 L423.4 293.4 L426.7 293.4 L430 293.4 L433.3 293.4 L436.7 293.5 L440 293.5 L443.3 293.6 L446.7 293.7 L450 293.7 L453.3 293.7 L456.6 293.7 L459.9 293.6 L463.2 293.6 L466.6 293.5 L470 293.5 L473.6 293.5 L477.2 293.5 L480.9 293.4 L484.6 293.4 L488.3 293.4 L492 293.4" fill="none" stroke="#0c0cb4" stroke-width="4.8" stroke-linecap="round"/>
<path d="M388 293.6 L391.7 293.6 L395.4 293.6 L399.1 293.6 L402.8 293.6 L406.4 293.6 L410 293.6 L413.4 293.6 L416.8 293.5 L420.1 293.5 L423.4 293.4 L426.7 293.4 L430 293.4 L433.3 293.4 L436.7 293.5 L440 293.5 L443.3 293.6 L446.7 293.7 L450 293.7 L453.3 293.7 L456.6 293.7 L459.9 293.6 L463.2 293.6 L466.6 293.5 L470 293.5 L473.6 293.5 L477.2 293.5 L480.9 293.4 L484.6 293.4 L488.3 293.4 L492 293.4" fill="none" stroke="#1d1de0" stroke-width="3.6" stroke-linecap="round"/>
<g fill="#1f1fe4" stroke="#0a0a9a" stroke-width="0.45"><circle cx="388" cy="293.6" r="2.2"/><circle cx="391" cy="293.6" r="2.2"/><circle cx="394.1" cy="293.6" r="2.2"/><circle cx="397.1" cy="293.6" r="2.2"/><circle cx="400.1" cy="293.6" r="2.2"/><circle cx="403.1" cy="293.6" r="2.2"/><circle cx="406.2" cy="293.6" r="2.2"/><circle cx="409.2" cy="293.6" r="2.2"/><circle cx="412.2" cy="293.6" r="2.2"/><circle cx="415.3" cy="293.6" r="2.2"/><circle cx="418.3" cy="293.5" r="2.2"/><circle cx="421.3" cy="293.5" r="2.2"/><circle cx="424.4" cy="293.4" r="2.2"/><circle cx="427.4" cy="293.4" r="2.2"/><circle cx="430.4" cy="293.4" r="2.2"/><circle cx="433.4" cy="293.4" r="2.2"/><circle cx="436.5" cy="293.5" r="2.2"/><circle cx="439.5" cy="293.5" r="2.2"/><circle cx="442.5" cy="293.6" r="2.2"/><circle cx="445.6" cy="293.7" r="2.2"/><circle cx="448.6" cy="293.7" r="2.2"/><circle cx="451.6" cy="293.7" r="2.2"/><circle cx="454.7" cy="293.7" r="2.2"/><circle cx="457.7" cy="293.7" r="2.2"/><circle cx="460.7" cy="293.6" r="2.2"/><circle cx="463.7" cy="293.6" r="2.2"/><circle cx="466.8" cy="293.5" r="2.2"/><circle cx="469.8" cy="293.5" r="2.2"/><circle cx="472.8" cy="293.5" r="2.2"/><circle cx="475.9" cy="293.5" r="2.2"/><circle cx="478.9" cy="293.5" r="2.2"/><circle cx="481.9" cy="293.4" r="2.2"/><circle cx="485" cy="293.4" r="2.2"/><circle cx="488" cy="293.4" r="2.2"/><circle cx="491" cy="293.4" r="2.2"/></g>
<g fill="#5a5af0"><circle cx="388" cy="293.6" r="0.6"/><circle cx="391" cy="293.6" r="0.6"/><circle cx="394.1" cy="293.6" r="0.6"/><circle cx="397.1" cy="293.6" r="0.6"/><circle cx="400.1" cy="293.6" r="0.6"/><circle cx="403.1" cy="293.6" r="0.6"/><circle cx="406.2" cy="293.6" r="0.6"/><circle cx="409.2" cy="293.6" r="0.6"/><circle cx="412.2" cy="293.6" r="0.6"/><circle cx="415.3" cy="293.6" r="0.6"/><circle cx="418.3" cy="293.5" r="0.6"/><circle cx="421.3" cy="293.5" r="0.6"/><circle cx="424.4" cy="293.4" r="0.6"/><circle cx="427.4" cy="293.4" r="0.6"/><circle cx="430.4" cy="293.4" r="0.6"/><circle cx="433.4" cy="293.4" r="0.6"/><circle cx="436.5" cy="293.5" r="0.6"/><circle cx="439.5" cy="293.5" r="0.6"/><circle cx="442.5" cy="293.6" r="0.6"/><circle cx="445.6" cy="293.7" r="0.6"/><circle cx="448.6" cy="293.7" r="0.6"/><circle cx="451.6" cy="293.7" r="0.6"/><circle cx="454.7" cy="293.7" r="0.6"/><circle cx="457.7" cy="293.7" r="0.6"/><circle cx="460.7" cy="293.6" r="0.6"/><circle cx="463.7" cy="293.6" r="0.6"/><circle cx="466.8" cy="293.5" r="0.6"/><circle cx="469.8" cy="293.5" r="0.6"/><circle cx="472.8" cy="293.5" r="0.6"/><circle cx="475.9" cy="293.5" r="0.6"/><circle cx="478.9" cy="293.5" r="0.6"/><circle cx="481.9" cy="293.4" r="0.6"/><circle cx="485" cy="293.4" r="0.6"/><circle cx="488" cy="293.4" r="0.6"/><circle cx="491" cy="293.4" r="0.6"/></g>
<path d="M388 286 L391.7 286 L395.4 286.1 L399.1 286.1 L402.8 286.1 L406.4 286.2 L410 286.2 L413.5 286.2 L417.1 286.2 L420.6 286.2 L424 286.2 L427.2 286.2 L430 286.2 L432.4 286.3 L434.4 286.4 L436.1 286.5 L437.9 286.6 L439.7 286.7 L442 286.7 L444.6 286.7 L447.5 286.7 L450.5 286.6 L453.6 286.6 L456.8 286.5 L460 286.5 L463.3 286.5 L466.8 286.4 L470.3 286.4 L473.8 286.3 L477.1 286.3 L480 286.2 L482.5 286.1 L484.7 286.1 L486.7 286 L488.5 286 L490.4 285.9 L492.4 285.9" fill="none" stroke="#0c0cb4" stroke-width="4.8" stroke-linecap="round"/>
<path d="M388 286 L391.7 286 L395.4 286.1 L399.1 286.1 L402.8 286.1 L406.4 286.2 L410 286.2 L413.5 286.2 L417.1 286.2 L420.6 286.2 L424 286.2 L427.2 286.2 L430 286.2 L432.4 286.3 L434.4 286.4 L436.1 286.5 L437.9 286.6 L439.7 286.7 L442 286.7 L444.6 286.7 L447.5 286.7 L450.5 286.6 L453.6 286.6 L456.8 286.5 L460 286.5 L463.3 286.5 L466.8 286.4 L470.3 286.4 L473.8 286.3 L477.1 286.3 L480 286.2 L482.5 286.1 L484.7 286.1 L486.7 286 L488.5 286 L490.4 285.9 L492.4 285.9" fill="none" stroke="#1d1de0" stroke-width="3.6" stroke-linecap="round"/>
<g fill="#1f1fe4" stroke="#0a0a9a" stroke-width="0.45"><circle cx="388" cy="286" r="2.2"/><circle cx="391" cy="286" r="2.2"/><circle cx="394.1" cy="286.1" r="2.2"/><circle cx="397.1" cy="286.1" r="2.2"/><circle cx="400.1" cy="286.1" r="2.2"/><circle cx="403.1" cy="286.2" r="2.2"/><circle cx="406.2" cy="286.2" r="2.2"/><circle cx="409.2" cy="286.2" r="2.2"/><circle cx="412.2" cy="286.2" r="2.2"/><circle cx="415.3" cy="286.2" r="2.2"/><circle cx="418.3" cy="286.2" r="2.2"/><circle cx="421.3" cy="286.2" r="2.2"/><circle cx="424.4" cy="286.2" r="2.2"/><circle cx="427.4" cy="286.2" r="2.2"/><circle cx="430.4" cy="286.2" r="2.2"/><circle cx="433.4" cy="286.3" r="2.2"/><circle cx="436.5" cy="286.5" r="2.2"/><circle cx="439.5" cy="286.6" r="2.2"/><circle cx="442.5" cy="286.7" r="2.2"/><circle cx="445.6" cy="286.7" r="2.2"/><circle cx="448.6" cy="286.7" r="2.2"/><circle cx="451.6" cy="286.6" r="2.2"/><circle cx="454.7" cy="286.6" r="2.2"/><circle cx="457.7" cy="286.5" r="2.2"/><circle cx="460.7" cy="286.5" r="2.2"/><circle cx="463.7" cy="286.4" r="2.2"/><circle cx="466.8" cy="286.4" r="2.2"/><circle cx="469.8" cy="286.4" r="2.2"/><circle cx="472.8" cy="286.3" r="2.2"/><circle cx="475.9" cy="286.3" r="2.2"/><circle cx="478.9" cy="286.2" r="2.2"/><circle cx="481.9" cy="286.2" r="2.2"/><circle cx="485" cy="286.1" r="2.2"/><circle cx="488" cy="286" r="2.2"/><circle cx="491" cy="285.9" r="2.2"/></g>
<g fill="#dc1c50"><circle cx="388" cy="286" r="1.2"/><circle cx="391" cy="286" r="1.2"/><circle cx="394.1" cy="286.1" r="1.2"/><circle cx="397.1" cy="286.1" r="1.2"/><circle cx="400.1" cy="286.1" r="1.2"/><circle cx="403.1" cy="286.2" r="1.2"/><circle cx="406.2" cy="286.2" r="1.2"/><circle cx="409.2" cy="286.2" r="1.2"/><circle cx="412.2" cy="286.2" r="1.2"/><circle cx="415.3" cy="286.2" r="1.2"/><circle cx="418.3" cy="286.2" r="1.2"/><circle cx="421.3" cy="286.2" r="1.2"/><circle cx="424.4" cy="286.2" r="1.2"/><circle cx="427.4" cy="286.2" r="1.2"/><circle cx="430.4" cy="286.2" r="1.2"/><circle cx="433.4" cy="286.3" r="1.2"/><circle cx="436.5" cy="286.5" r="1.2"/><circle cx="439.5" cy="286.6" r="1.2"/><circle cx="442.5" cy="286.7" r="1.2"/><circle cx="445.6" cy="286.7" r="1.2"/><circle cx="448.6" cy="286.7" r="1.2"/><circle cx="451.6" cy="286.6" r="1.2"/><circle cx="454.7" cy="286.6" r="1.2"/><circle cx="457.7" cy="286.5" r="1.2"/><circle cx="460.7" cy="286.5" r="1.2"/><circle cx="463.7" cy="286.4" r="1.2"/><circle cx="466.8" cy="286.4" r="1.2"/><circle cx="469.8" cy="286.4" r="1.2"/><circle cx="472.8" cy="286.3" r="1.2"/><circle cx="475.9" cy="286.3" r="1.2"/><circle cx="478.9" cy="286.2" r="1.2"/><circle cx="481.9" cy="286.2" r="1.2"/><circle cx="485" cy="286.1" r="1.2"/><circle cx="488" cy="286" r="1.2"/><circle cx="491" cy="285.9" r="1.2"/></g>
<path d="M493 290.5 L493.6 290.9 L494.3 291.2 L494.9 291.6 L495.5 292 L496.2 292.3 L497 292.6 L497.8 292.8 L498.7 293 L499.7 293.1 L500.7 293.2 L501.8 293.3 L503 293.4 L504.3 293.5 L505.7 293.5 L507.2 293.6 L508.8 293.6 L510.4 293.6 L512 293.6 L513.6 293.6 L515.3 293.6 L517.1 293.6 L518.8 293.5 L520.4 293.5 L522 293.4 L523.5 293.3 L524.9 293.1 L526.2 293 L527.6 292.8 L528.8 292.6 L530 292.4 L531.1 292.2 L532.2 292 L533.2 291.7 L534.2 291.5 L535.1 291.2 L536 291 L536.8 290.8 L537.6 290.6 L538.4 290.4 L539.1 290.3 L539.8 290.1 L540.6 289.9" fill="none" stroke="#0c0cb4" stroke-width="4.8" stroke-linecap="round"/>
<path d="M493 290.5 L493.6 290.9 L494.3 291.2 L494.9 291.6 L495.5 292 L496.2 292.3 L497 292.6 L497.8 292.8 L498.7 293 L499.7 293.1 L500.7 293.2 L501.8 293.3 L503 293.4 L504.3 293.5 L505.7 293.5 L507.2 293.6 L508.8 293.6 L510.4 293.6 L512 293.6 L513.6 293.6 L515.3 293.6 L517.1 293.6 L518.8 293.5 L520.4 293.5 L522 293.4 L523.5 293.3 L524.9 293.1 L526.2 293 L527.6 292.8 L528.8 292.6 L530 292.4 L531.1 292.2 L532.2 292 L533.2 291.7 L534.2 291.5 L535.1 291.2 L536 291 L536.8 290.8 L537.6 290.6 L538.4 290.4 L539.1 290.3 L539.8 290.1 L540.6 289.9" fill="none" stroke="#1d1de0" stroke-width="3.6" stroke-linecap="round"/>
<g fill="#1f1fe4" stroke="#0a0a9a" stroke-width="0.45"><circle cx="494.1" cy="291.1" r="2.2"/><circle cx="497.1" cy="292.6" r="2.2"/><circle cx="500.1" cy="293.2" r="2.2"/><circle cx="503.1" cy="293.4" r="2.2"/><circle cx="506.2" cy="293.5" r="2.2"/><circle cx="509.2" cy="293.6" r="2.2"/><circle cx="512.2" cy="293.6" r="2.2"/><circle cx="515.3" cy="293.6" r="2.2"/><circle cx="518.3" cy="293.6" r="2.2"/><circle cx="521.3" cy="293.4" r="2.2"/><circle cx="524.3" cy="293.2" r="2.2"/><circle cx="527.4" cy="292.8" r="2.2"/><circle cx="530.4" cy="292.3" r="2.2"/><circle cx="533.4" cy="291.6" r="2.2"/><circle cx="536.5" cy="290.9" r="2.2"/><circle cx="539.5" cy="290.2" r="2.2"/></g>
<g fill="#5a5af0"><circle cx="494.1" cy="291.1" r="0.6"/><circle cx="497.1" cy="292.6" r="0.6"/><circle cx="500.1" cy="293.2" r="0.6"/><circle cx="503.1" cy="293.4" r="0.6"/><circle cx="506.2" cy="293.5" r="0.6"/><circle cx="509.2" cy="293.6" r="0.6"/><circle cx="512.2" cy="293.6" r="0.6"/><circle cx="515.3" cy="293.6" r="0.6"/><circle cx="518.3" cy="293.6" r="0.6"/><circle cx="521.3" cy="293.4" r="0.6"/><circle cx="524.3" cy="293.2" r="0.6"/><circle cx="527.4" cy="292.8" r="0.6"/><circle cx="530.4" cy="292.3" r="0.6"/><circle cx="533.4" cy="291.6" r="0.6"/><circle cx="536.5" cy="290.9" r="0.6"/><circle cx="539.5" cy="290.2" r="0.6"/></g>
<path d="M493 290.2 L493.6 289.9 L494.2 289.7 L494.8 289.4 L495.4 289.2 L496.1 288.9 L496.7 288.7 L497.3 288.5 L497.9 288.3 L498.5 288.2 L499.1 288 L499.7 287.9 L500.3 287.7 L500.9 287.6 L501.5 287.4 L502.2 287.3 L502.8 287.2 L503.4 287.1 L504 287 L504.6 286.9 L505.2 286.8 L505.8 286.7 L506.4 286.6 L507 286.5 L507.6 286.4 L508.3 286.3 L508.9 286.2 L509.5 286.2 L510.1 286.1 L510.7 286.1 L511.3 286 L511.9 286 L512.5 285.9 L513.1 285.9 L513.7 285.9 L514.4 285.8 L515 285.8 L515.6 285.8 L516.2 285.8 L516.8 285.8 L517.4 285.8 L518 285.8 L518.6 285.8 L519.2 285.8 L519.9 285.9 L520.5 285.9 L521.1 285.9 L521.7 286 L522.3 286 L522.9 286.1 L523.5 286.1 L524.1 286.2 L524.7 286.2 L525.3 286.3 L526 286.4 L526.6 286.5 L527.2 286.6 L527.8 286.7 L528.4 286.8 L529 286.9 L529.6 287 L530.2 287.1 L530.8 287.2 L531.4 287.3 L532.1 287.4 L532.7 287.6 L533.3 287.7 L533.9 287.9 L534.5 288 L535.1 288.2 L535.7 288.3 L536.3 288.5 L536.9 288.7 L537.5 288.9 L538.2 289.2 L538.8 289.4 L539.4 289.7 L540 289.9 L540.6 290.2" fill="none" stroke="#0c0cb4" stroke-width="4.8" stroke-linecap="round"/>
<path d="M493 290.2 L493.6 289.9 L494.2 289.7 L494.8 289.4 L495.4 289.2 L496.1 288.9 L496.7 288.7 L497.3 288.5 L497.9 288.3 L498.5 288.2 L499.1 288 L499.7 287.9 L500.3 287.7 L500.9 287.6 L501.5 287.4 L502.2 287.3 L502.8 287.2 L503.4 287.1 L504 287 L504.6 286.9 L505.2 286.8 L505.8 286.7 L506.4 286.6 L507 286.5 L507.6 286.4 L508.3 286.3 L508.9 286.2 L509.5 286.2 L510.1 286.1 L510.7 286.1 L511.3 286 L511.9 286 L512.5 285.9 L513.1 285.9 L513.7 285.9 L514.4 285.8 L515 285.8 L515.6 285.8 L516.2 285.8 L516.8 285.8 L517.4 285.8 L518 285.8 L518.6 285.8 L519.2 285.8 L519.9 285.9 L520.5 285.9 L521.1 285.9 L521.7 286 L522.3 286 L522.9 286.1 L523.5 286.1 L524.1 286.2 L524.7 286.2 L525.3 286.3 L526 286.4 L526.6 286.5 L527.2 286.6 L527.8 286.7 L528.4 286.8 L529 286.9 L529.6 287 L530.2 287.1 L530.8 287.2 L531.4 287.3 L532.1 287.4 L532.7 287.6 L533.3 287.7 L533.9 287.9 L534.5 288 L535.1 288.2 L535.7 288.3 L536.3 288.5 L536.9 288.7 L537.5 288.9 L538.2 289.2 L538.8 289.4 L539.4 289.7 L540 289.9 L540.6 290.2" fill="none" stroke="#1d1de0" stroke-width="3.6" stroke-linecap="round"/>
<g fill="#1f1fe4" stroke="#0a0a9a" stroke-width="0.45"><circle cx="494.1" cy="289.8" r="2.2"/><circle cx="497.1" cy="288.6" r="2.2"/><circle cx="500.1" cy="287.8" r="2.2"/><circle cx="503.1" cy="287.1" r="2.2"/><circle cx="506.2" cy="286.6" r="2.2"/><circle cx="509.2" cy="286.2" r="2.2"/><circle cx="512.2" cy="285.9" r="2.2"/><circle cx="515.3" cy="285.8" r="2.2"/><circle cx="518.3" cy="285.8" r="2.2"/><circle cx="521.3" cy="285.9" r="2.2"/><circle cx="524.3" cy="286.2" r="2.2"/><circle cx="527.4" cy="286.6" r="2.2"/><circle cx="530.4" cy="287.1" r="2.2"/><circle cx="533.4" cy="287.8" r="2.2"/><circle cx="536.5" cy="288.5" r="2.2"/><circle cx="539.5" cy="289.7" r="2.2"/></g>
<g fill="#dc1c50"><circle cx="494.1" cy="289.8" r="1.2"/><circle cx="497.1" cy="288.6" r="1.2"/><circle cx="500.1" cy="287.8" r="1.2"/><circle cx="503.1" cy="287.1" r="1.2"/><circle cx="506.2" cy="286.6" r="1.2"/><circle cx="509.2" cy="286.2" r="1.2"/><circle cx="512.2" cy="285.9" r="1.2"/><circle cx="515.3" cy="285.8" r="1.2"/><circle cx="518.3" cy="285.8" r="1.2"/><circle cx="521.3" cy="285.9" r="1.2"/><circle cx="524.3" cy="286.2" r="1.2"/><circle cx="527.4" cy="286.6" r="1.2"/><circle cx="530.4" cy="287.1" r="1.2"/><circle cx="533.4" cy="287.8" r="1.2"/><circle cx="536.5" cy="288.5" r="1.2"/><circle cx="539.5" cy="289.7" r="1.2"/></g>
<g fill="none" stroke="#ecc4c4" stroke-width="0.45">
<path d="M388 206.3 L389.2 206.3 L390.3 206.3 L391.4 206.3 L392.6 206.3 L393.8 206.3 L395 206.3 L396.3 206.3 L397.6 206.3 L399 206.3 L400.4 206.3 L401.7 206.3 L403 206.3 L404.3 206.3 L405.6 206.3 L406.8 206.3 L408 206.3 L409.1 206.3 L410 206.3 L410.7 206.3 L411.3 206.3 L411.8 206.3 L412.1 206.3 L412.5 206.3 L413 206.3"/>
<path d="M388 246.6 L388.4 246.4 L388.9 246.3 L389.3 246.1 L389.7 245.9 L390.2 245.7 L390.7 245.5 L391.2 245.2 L391.8 244.9 L392.4 244.6 L392.9 244.2 L393.5 243.8 L394.1 243.3 L394.7 242.7 L395.2 242.1 L395.8 241.4 L396.3 240.6 L396.9 239.9 L397.4 239.1 L397.9 238.3 L398.4 237.6 L398.9 236.8 L399.4 236 L399.9 235.2 L400.4 234.3 L400.9 233.4 L401.4 232.4 L401.9 231.4 L402.4 230.4 L402.9 229.4 L403.4 228.4 L403.9 227.4 L404.5 226.4 L405 225.4 L405.6 224.4 L406.2 223.4 L406.7 222.4 L407.2 221.4 L407.7 220.4 L408.2 219.4 L408.8 218.3 L409.3 217.4 L409.8 216.4 L410.3 215.5 L410.9 214.6 L411.5 213.7 L412 212.9 L412.6 212 L413.1 211.2 L413.6 210.4 L414.2 209.5 L414.7 208.7 L415.2 207.9 L415.7 207.2 L416.1 206.7 L416.4 206.3 L416.7 206.1 L416.9 206 L417.1 206 L417.3 205.9 L417.5 205.8"/>
<path d="M430 205.6 L430.3 205.6 L430.6 205.7 L430.9 205.7 L431.2 205.7 L431.6 205.8 L432 205.8 L432.5 205.8 L433 205.9 L433.6 206 L434.2 206 L434.8 206.1 L435.5 206.2 L436.2 206.3 L437 206.4 L437.8 206.6 L438.6 206.8 L439.3 207 L440 207.2 L440.6 207.5 L441.1 207.8 L441.6 208.1 L442.1 208.5 L442.5 208.9 L443 209.3 L443.5 209.7 L443.9 210.1 L444.4 210.5 L444.9 211 L445.4 211.4 L445.9 211.9 L446.5 212.4 L447.1 212.9 L447.8 213.4 L448.5 213.9 L449.1 214.4 L449.7 214.9 L450.2 215.4 L450.8 215.9 L451.3 216.4 L451.7 216.9 L452.2 217.4 L452.7 217.9 L453.1 218.3 L453.6 218.7 L453.9 219.1 L454.4 219.4 L454.9 219.9 L455.5 220.5 L456.2 221.2 L457.1 222.1 L458 223.1 L459 224.1 L460 225 L460.9 225.9 L461.8 226.7 L462.8 227.6 L463.8 228.4 L464.7 229.1 L465.6 229.9 L466.4 230.5 L467.1 231.1 L467.7 231.6 L468.3 232.1 L468.9 232.6 L469.4 232.9 L470 233.2 L470.6 233.4 L471.2 233.5 L471.8 233.5 L472.4 233.5 L473 233.4 L473.6 233.2 L474.2 232.9 L474.8 232.6 L475.4 232.2 L476 231.8 L476.6 231.2 L477.3 230.5 L478 229.6 L478.8 228.6 L479.6 227.5 L480.3 226.4 L481.1 225.2 L481.8 224.1 L482.5 223 L483.1 222 L483.7 220.9 L484.3 219.8 L484.9 218.8 L485.5 217.7 L486.1 216.6 L486.7 215.5 L487.3 214.4 L487.9 213.4 L488.5 212.4 L489.1 211.4 L489.6 210.5 L490.2 209.7 L490.7 209 L491.2 208.3 L491.7 207.5 L492.2 206.8"/>
<path d="M458 205.7 L458.5 206.2 L458.9 206.6 L459.3 207 L459.8 207.4 L460.3 208 L460.9 208.6 L461.6 209.4 L462.3 210.2 L463.2 211.2 L464 212.2 L464.8 213.2 L465.5 214.1 L466.2 215 L466.8 215.9 L467.4 216.9 L467.9 217.8 L468.5 218.6 L469.1 219.5 L469.7 220.3 L470.3 221 L470.8 221.7 L471.4 222.5 L472 223.2 L472.7 224.1 L473.4 225.1 L474.2 226.1 L475 227.1 L475.8 228.2 L476.6 229.4 L477.3 230.5 L477.9 231.7 L478.5 232.9 L479.1 234.2 L479.7 235.5 L480.3 236.6 L480.9 237.7 L481.6 238.6 L482.4 239.5 L483.2 240.3 L484 241 L484.8 241.7 L485.5 242.3 L486.2 242.9 L486.8 243.4 L487.4 243.8 L488 244.3 L488.5 244.6 L489.1 245 L489.6 245.3 L490.2 245.6 L490.7 245.8 L491.2 246 L491.7 246.3 L492.2 246.5"/>
<path d="M492.6 212.3 L493.2 213.3 L493.9 214.4 L494.5 215.4 L495.1 216.4 L495.8 217.5 L496.4 218.6 L497 219.8 L497.6 221 L498.2 222.2 L498.8 223.5 L499.4 224.7 L500 225.9 L500.6 227 L501.2 228.1 L501.7 229.2 L502.3 230.2 L502.9 231.2 L503.6 232.3 L504.3 233.4 L505.1 234.4 L505.8 235.5 L506.6 236.6 L507.4 237.6 L508.2 238.6 L509 239.6 L509.7 240.6 L510.5 241.6 L511.2 242.5 L512 243.4 L512.7 244.1 L513.4 244.7 L514.1 245.3 L514.8 245.8 L515.5 246.2 L516.2 246.4 L516.9 246.5 L517.7 246.4 L518.5 246.1 L519.4 245.7 L520.3 245.2 L521.1 244.6 L521.8 244.1 L522.4 243.6 L523 243 L523.5 242.4 L524 241.8 L524.5 241.1 L525 240.5 L525.5 239.9 L526.1 239.3 L526.6 238.8 L527.2 238.2 L527.7 237.5 L528.2 236.8 L528.7 236 L529.1 235.2 L529.6 234.3 L530 233.4 L530.5 232.4 L530.9 231.4 L531.3 230.3 L531.8 229.1 L532.2 227.9 L532.7 226.6 L533.1 225.3 L533.6 224.1 L534.1 222.9 L534.5 221.6 L535 220.4 L535.5 219.2 L535.9 218 L536.4 216.8 L536.9 215.7 L537.3 214.5 L537.8 213.4 L538.3 212.3 L538.7 211.3 L539.1 210.5 L539.5 209.8 L539.8 209.3 L540.1 208.9 L540.3 208.5 L540.6 208.1 L540.9 207.7"/>
<path d="M501.5 206 L502.6 206.1 L503.6 206.1 L504.7 206.2 L505.7 206.2 L506.8 206.3 L508 206.3 L509.2 206.3 L510.6 206.3 L511.9 206.3 L513.3 206.3 L514.6 206.3 L516 206.3 L517.3 206.3 L518.7 206.2 L520 206.2 L521.3 206.1 L522.7 206.1 L524 206 L525.3 205.9 L526.7 205.9 L528 205.8 L529.3 205.8 L530.7 205.7 L532 205.7 L533.3 205.7 L534.7 205.6 L536 205.6 L537.3 205.6 L538.7 205.5 L540 205.5"/>
</g>
<g fill="#74ecea">
<circle cx="430.4" cy="205.6" r="2.0"/>
<circle cx="433.4" cy="205.9" r="2.0"/>
<circle cx="436.5" cy="206.4" r="2.0"/>
<circle cx="439.5" cy="207" r="2.0"/>
<circle cx="442.5" cy="208.9" r="2.0"/>
<circle cx="445.6" cy="211.6" r="2.0"/>
<circle cx="448.6" cy="214" r="2.0"/>
<circle cx="451.6" cy="216.8" r="2.0"/>
<circle cx="454.7" cy="219.7" r="2.0"/>
</g>
<g fill="#b3121d" stroke="#8c0c14" stroke-width="0.35">
<circle cx="388" cy="206.3" r="1.05"/>
<circle cx="391" cy="206.3" r="1.05"/>
<circle cx="394.1" cy="206.3" r="1.05"/>
<circle cx="397.1" cy="206.3" r="1.05"/>
<circle cx="400.1" cy="206.3" r="1.05"/>
<circle cx="403.1" cy="206.3" r="1.05"/>
<circle cx="406.2" cy="206.3" r="1.05"/>
<circle cx="409.2" cy="206.3" r="1.05"/>
<circle cx="412.2" cy="206.3" r="1.05"/>
<circle cx="388" cy="246.6" r="1.05"/>
<circle cx="391" cy="245.3" r="1.05"/>
<circle cx="394.1" cy="243.3" r="1.05"/>
<circle cx="397.1" cy="239.5" r="1.05"/>
<circle cx="400.1" cy="234.8" r="1.05"/>
<circle cx="403.1" cy="228.9" r="1.05"/>
<circle cx="406.2" cy="223.4" r="1.05"/>
<circle cx="409.2" cy="217.5" r="1.05"/>
<circle cx="412.2" cy="212.5" r="1.05"/>
<circle cx="415.3" cy="207.8" r="1.05"/>
<circle cx="457.7" cy="222.7" r="1.05"/>
<circle cx="460.7" cy="225.7" r="1.05"/>
<circle cx="463.7" cy="228.4" r="1.05"/>
<circle cx="466.8" cy="230.8" r="1.05"/>
<circle cx="469.8" cy="233.1" r="1.05"/>
<circle cx="472.8" cy="233.4" r="1.05"/>
<circle cx="475.9" cy="231.9" r="1.05"/>
<circle cx="478.9" cy="228.5" r="1.05"/>
<circle cx="481.9" cy="223.9" r="1.05"/>
<circle cx="485" cy="218.7" r="1.05"/>
<circle cx="488" cy="213.3" r="1.05"/>
<circle cx="491" cy="208.5" r="1.05"/>
<circle cx="458" cy="205.7" r="1.05"/>
<circle cx="460.7" cy="208.4" r="1.05"/>
<circle cx="463.7" cy="211.9" r="1.05"/>
<circle cx="466.8" cy="215.9" r="1.05"/>
<circle cx="469.8" cy="220.4" r="1.05"/>
<circle cx="472.8" cy="224.3" r="1.05"/>
<circle cx="475.9" cy="228.3" r="1.05"/>
<circle cx="478.9" cy="233.8" r="1.05"/>
<circle cx="481.9" cy="239" r="1.05"/>
<circle cx="485" cy="241.8" r="1.05"/>
<circle cx="488" cy="244.3" r="1.05"/>
<circle cx="491" cy="246" r="1.05"/>
<circle cx="494.1" cy="214.6" r="1.05"/>
<circle cx="497.1" cy="219.9" r="1.05"/>
<circle cx="500.1" cy="226.1" r="1.05"/>
<circle cx="503.1" cy="231.6" r="1.05"/>
<circle cx="506.2" cy="235.9" r="1.05"/>
<circle cx="509.2" cy="239.9" r="1.05"/>
<circle cx="512.2" cy="243.6" r="1.05"/>
<circle cx="515.3" cy="246.1" r="1.05"/>
<circle cx="518.3" cy="246.2" r="1.05"/>
<circle cx="521.3" cy="244.4" r="1.05"/>
<circle cx="524.3" cy="241.3" r="1.05"/>
<circle cx="527.4" cy="237.9" r="1.05"/>
<circle cx="530.4" cy="232.5" r="1.05"/>
<circle cx="533.4" cy="224.5" r="1.05"/>
<circle cx="536.5" cy="216.6" r="1.05"/>
<circle cx="539.5" cy="209.7" r="1.05"/>
<circle cx="503.1" cy="206.1" r="1.05"/>
<circle cx="506.2" cy="206.2" r="1.05"/>
<circle cx="509.2" cy="206.3" r="1.05"/>
<circle cx="512.2" cy="206.3" r="1.05"/>
<circle cx="515.3" cy="206.3" r="1.05"/>
<circle cx="518.3" cy="206.2" r="1.05"/>
<circle cx="521.3" cy="206.1" r="1.05"/>
<circle cx="524.3" cy="206" r="1.05"/>
<circle cx="527.4" cy="205.9" r="1.05"/>
<circle cx="530.4" cy="205.8" r="1.05"/>
<circle cx="533.4" cy="205.7" r="1.05"/>
<circle cx="536.5" cy="205.6" r="1.05"/>
<circle cx="539.5" cy="205.5" r="1.05"/>
</g>
<g fill="#a3142a" stroke="#6a0c1a" stroke-width="0.35">
<circle cx="430.4" cy="205.6" r="1.05"/>
<circle cx="433.4" cy="205.9" r="1.05"/>
<circle cx="436.5" cy="206.4" r="1.05"/>
<circle cx="439.5" cy="207" r="1.05"/>
<circle cx="442.5" cy="208.9" r="1.05"/>
<circle cx="445.6" cy="211.6" r="1.05"/>
<circle cx="448.6" cy="214" r="1.05"/>
<circle cx="451.6" cy="216.8" r="1.05"/>
<circle cx="454.7" cy="219.7" r="1.05"/>
</g>
</g>
<rect x="387.6" y="205.3" width="153.3" height="183.2" fill="none" stroke="#6c6c6c" stroke-width="1.0"/>
<path d="M385.4 388.4H387.6 M386.3 380.1H387.6 M386.3 371.8H387.6 M386.3 363.4H387.6 M385.4 355.1H387.6 M386.3 346.8H387.6 M386.3 338.5H387.6 M386.3 330.1H387.6 M385.4 321.8H387.6 M386.3 313.5H387.6 M386.3 305.2H387.6 M386.3 296.8H387.6 M385.4 288.5H387.6 M386.3 280.2H387.6 M386.3 271.9H387.6 M386.3 263.5H387.6 M385.4 255.2H387.6 M386.3 246.9H387.6 M386.3 238.6H387.6 M386.3 230.2H387.6 M385.4 221.9H387.6 M386.3 213.6H387.6 M386.3 205.3H387.6 M387.6 388.4V390.2 M425.5 388.4V390.2 M440 388.4V390.2 M477.8 388.4V390.2 M492.4 388.4V390.2 M516.9 388.4V390.2 M540.9 388.4V390.2" stroke="#666" stroke-width="0.6" fill="none"/>
<g font-family="'DejaVu Sans', 'Liberation Sans', sans-serif" font-size="6.1" fill="#262626" stroke="#262626" stroke-width="0.1"><text x="384.2" y="224.4" text-anchor="end">8</text><text x="384.2" y="257.7" text-anchor="end">6</text><text x="384.2" y="291" text-anchor="end">4</text><text x="384.2" y="324.3" text-anchor="end">2</text><text x="384.2" y="357.6" text-anchor="end">0</text><text x="384.2" y="390.9" text-anchor="end">−2</text><text x="387.6" y="397" text-anchor="middle">Γ</text><text x="425.5" y="397" text-anchor="middle">Y</text><text x="440" y="397" text-anchor="middle">M</text><text x="477.8" y="397" text-anchor="middle">A</text><text x="492.4" y="397" text-anchor="middle">Γ|L</text><text x="516.9" y="397" text-anchor="middle">Γ</text><text x="540.9" y="397" text-anchor="middle">N</text></g>
<text font-family="'DejaVu Sans', 'Liberation Sans', sans-serif" font-size="5.7" fill="#262626" stroke="#262626" stroke-width="0.08" text-anchor="middle" transform="translate(371.6 296) rotate(-90)">Energy (eV)</text>
<text font-family="'Liberation Sans', Arial, sans-serif" font-size="7.9" font-weight="bold" fill="#1a1a1a" stroke="#1a1a1a" stroke-width="0.2" x="367.8" y="212.4">(e)</text>
<g>
<rect x="511.4" y="208.9" width="27.9" height="20.8" rx="1.3" fill="#ffffff" fill-opacity="0.8" stroke="#d6d6d6" stroke-width="0.5"/>
<circle cx="519.3" cy="212.8" r="1.85" fill="#0c0cc8"/>
<text font-family="'DejaVu Sans', 'Liberation Sans', sans-serif" font-size="5.8" font-style="italic" fill="#151515" stroke="#151515" stroke-width="0.13" x="528.5" y="214.9">Cu</text>
<circle cx="519.3" cy="219.1" r="1.85" fill="#38e8e8"/>
<text font-family="'DejaVu Sans', 'Liberation Sans', sans-serif" font-size="5.8" font-style="italic" fill="#151515" stroke="#151515" stroke-width="0.13" x="528.5" y="221.2">P</text>
<circle cx="519.3" cy="225.4" r="1.85" fill="#e8161c"/>
<text font-family="'DejaVu Sans', 'Liberation Sans', sans-serif" font-size="5.8" font-style="italic" fill="#151515" stroke="#151515" stroke-width="0.13" x="528.5" y="227.5">O</text>
</g>
</g>
</svg></body></html>
